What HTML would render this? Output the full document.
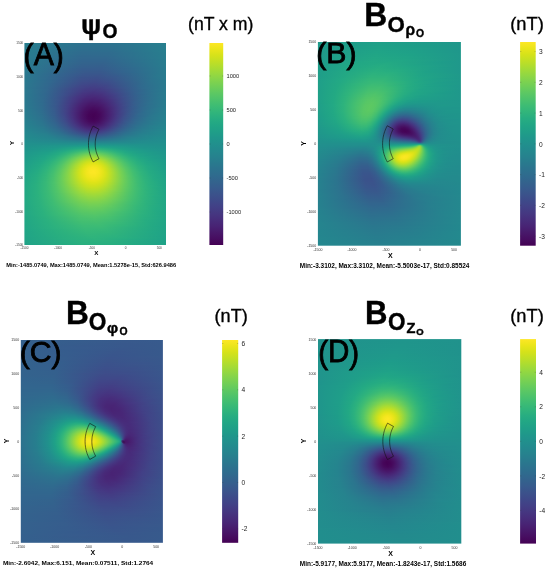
<!DOCTYPE html>
<html><head><meta charset="utf-8"><title>Field components</title>
<style>
html,body{margin:0;padding:0;background:#fff}
body{width:550px;height:570px;position:relative;overflow:hidden;font-family:"Liberation Sans", sans-serif}
.hm{position:absolute;overflow:hidden}
.hm i{display:block;height:1px;width:100%}
.hm b{position:absolute;background:#fff;display:block}
svg{position:absolute;left:0;top:0}
svg text{font-family:"Liberation Sans", sans-serif}
</style></head><body>
<div class="hm" style="left:24px;top:43px;width:142px;height:202px"><i style="background:linear-gradient(90deg,#277e8e 0%,#2d718e 41.55%,#2c728e 64.79%,#277f8e 100%)"></i><i style="background:linear-gradient(90deg,#287e8e 0%,#2d708e 41.55%,#2c728e 64.44%,#277f8e 100%)"></i><i style="background:linear-gradient(90deg,#287e8e 0%,#2d708e 41.55%,#2d718e 64.08%,#277e8e 100%)"></i><i style="background:linear-gradient(90deg,#287d8e 0%,#2d6f8e 41.2%,#2d708e 63.03%,#277e8e 100%)"></i><i style="background:linear-gradient(90deg,#287d8e 0%,#2e6e8e 41.2%,#2d708e 62.68%,#277e8e 100%)"></i><i style="background:linear-gradient(90deg,#287d8e 0%,#2e6e8e 41.2%,#2d6f8e 62.32%,#277e8e 100%)"></i><i style="background:linear-gradient(90deg,#287d8e 0%,#2e6d8e 40.85%,#2e6e8e 61.27%,#277e8e 100%)"></i><i style="background:linear-gradient(90deg,#287d8e 0%,#2e6d8e 40.85%,#2e6e8e 60.92%,#287e8e 100%)"></i><i style="background:linear-gradient(90deg,#287d8e 0%,#2f6c8e 40.85%,#2e6d8e 60.56%,#287e8e 100%)"></i><i style="background:linear-gradient(90deg,#287c8e 0%,#2f6b8e 40.85%,#2f6c8e 60.21%,#287d8e 100%)"></i><i style="background:linear-gradient(90deg,#287c8e 0%,#2f6b8e 40.85%,#2f6b8e 59.86%,#287d8e 100%)"></i><i style="background:linear-gradient(90deg,#287c8e 0%,#306a8e 40.85%,#2f6b8e 59.15%,#287d8e 100%)"></i><i style="background:linear-gradient(90deg,#287c8e 0%,#30698e 40.85%,#306a8e 58.8%,#287d8e 100%)"></i><i style="background:linear-gradient(90deg,#287c8e 0%,#30688e 40.85%,#30698e 58.45%,#287d8e 100%)"></i><i style="background:linear-gradient(90deg,#287c8e 0%,#31688e 40.85%,#31688e 58.1%,#287d8e 100%)"></i><i style="background:linear-gradient(90deg,#287b8e 0%,#31678e 40.85%,#31678e 57.75%,#287d8e 100%)"></i><i style="background:linear-gradient(90deg,#287b8e 0%,#31668e 40.85%,#31668e 57.39%,#287c8e 100%)"></i><i style="background:linear-gradient(90deg,#297b8e 0%,#32658e 40.85%,#32658e 57.04%,#287c8e 100%)"></i><i style="background:linear-gradient(90deg,#297b8e 0%,#32648e 40.85%,#32648e 56.69%,#2b758e 85.92%,#287c8e 100%)"></i><i style="background:linear-gradient(90deg,#297b8e 0%,#33648d 40.85%,#33638d 56.34%,#2c728e 82.75%,#287c8e 100%)"></i><i style="background:linear-gradient(90deg,#297b8e 0%,#33638d 40.85%,#33628d 55.99%,#2d708e 80.28%,#287c8e 100%)"></i><i style="background:linear-gradient(90deg,#297b8e 0%,#33628d 40.85%,#34618d 55.63%,#2e6e8e 78.17%,#287c8e 100%)"></i><i style="background:linear-gradient(90deg,#297a8e 0%,#34618d 40.85%,#34608d 55.28%,#2e6d8e 76.76%,#287c8e 100%)"></i><i style="background:linear-gradient(90deg,#297a8e 0%,#34608d 40.85%,#355f8d 54.93%,#2f6b8e 75%,#287c8e 100%)"></i><i style="background:linear-gradient(90deg,#297a8e 0%,#355f8d 41.2%,#355e8d 54.93%,#306a8e 74.65%,#287b8e 100%)"></i><i style="background:linear-gradient(90deg,#297a8e 0%,#355d8d 41.2%,#365d8d 54.58%,#30688e 73.24%,#287b8e 100%)"></i><i style="background:linear-gradient(90deg,#297a8e 0%,#365c8d 41.2%,#365c8d 54.23%,#31678e 71.83%,#287b8e 100%)"></i><i style="background:linear-gradient(90deg,#297a8e 0%,#365b8d 41.2%,#375a8d 53.87%,#32658e 70.77%,#297b8e 99.3%,#297b8e 100%)"></i><i style="background:linear-gradient(90deg,#297a8e 0%,#375a8c 41.55%,#37598c 53.87%,#32648e 70.07%,#297a8e 98.24%,#297b8e 100%)"></i><i style="background:linear-gradient(90deg,#297a8e 0%,#33638d 28.17%,#38588c 44.01%,#38598c 55.99%,#30688e 75.7%,#297b8e 100%)"></i><i style="background:linear-gradient(90deg,#29798e 0%,#32648e 26.06%,#38578c 42.61%,#38578c 54.23%,#33628d 70.07%,#29798e 96.83%,#297b8e 100%)"></i><i style="background:linear-gradient(90deg,#29798e 0%,#32648e 24.65%,#39568c 42.25%,#39558c 53.52%,#34608d 68.31%,#2a788e 95.42%,#297b8e 100%)"></i><i style="background:linear-gradient(90deg,#29798e 0%,#32658e 23.59%,#39558c 41.55%,#3a548b 52.82%,#355d8d 66.55%,#2a778e 94.01%,#297b8e 100%)"></i><i style="background:linear-gradient(90deg,#29798e 0%,#32658e 22.54%,#3a548b 41.2%,#3b528b 52.11%,#375a8d 64.79%,#2b768e 92.96%,#297b8e 100%)"></i><i style="background:linear-gradient(90deg,#29798e 0%,#32658e 21.83%,#3a528b 41.2%,#3b508b 51.76%,#38598c 64.08%,#2b758e 92.25%,#297b8e 100%)"></i><i style="background:linear-gradient(90deg,#29798e 0%,#32668e 21.13%,#3b518b 40.85%,#3c4f8a 51.06%,#39568c 62.68%,#2b748e 91.2%,#297b8e 100%)"></i><i style="background:linear-gradient(90deg,#29798e 0%,#31668e 20.42%,#3c508b 40.85%,#3d4d8a 51.06%,#39558c 62.32%,#2c738e 90.49%,#297a8e 100%)"></i><i style="background:linear-gradient(90deg,#29798e 0%,#31668e 19.72%,#3c4e8a 40.85%,#3e4b8a 50.7%,#3a538b 61.62%,#2c738e 89.79%,#297a8e 100%)"></i><i style="background:linear-gradient(90deg,#29798e 0%,#31678e 19.01%,#3d4d8a 40.85%,#3e4a89 50.35%,#3c508b 60.56%,#2c728e 89.08%,#297a8e 100%)"></i><i style="background:linear-gradient(90deg,#2a798e 0%,#31678e 18.66%,#3e4b89 40.85%,#3f4889 50%,#3c4e8a 59.86%,#2d718e 88.38%,#297a8e 100%)"></i><i style="background:linear-gradient(90deg,#2a798e 0%,#31668e 18.31%,#3e4a89 40.85%,#404688 50%,#3d4c8a 59.51%,#2d708e 87.68%,#297a8e 100%)"></i><i style="background:linear-gradient(90deg,#2a798e 0%,#31678e 17.61%,#3f4889 40.85%,#414487 49.65%,#3e4a89 58.8%,#2e6e8e 86.27%,#297a8e 100%)"></i><i style="background:linear-gradient(90deg,#2a798e 0%,#31678e 17.25%,#404688 40.85%,#414287 49.3%,#3f4788 58.1%,#2f6b8e 83.45%,#297a8e 100%)"></i><i style="background:linear-gradient(90deg,#2a798e 0%,#31678e 16.9%,#414487 41.2%,#424086 49.65%,#404688 58.45%,#30698e 82.04%,#297a8e 99.3%,#297a8e 100%)"></i><i style="background:linear-gradient(90deg,#2a788e 0%,#31678e 16.55%,#404688 38.38%,#433e85 47.18%,#424186 55.28%,#3b528b 67.25%,#2f6c8e 84.86%,#297a8e 100%)"></i><i style="background:linear-gradient(90deg,#2a788e 0%,#31678e 16.2%,#404688 36.62%,#433d84 45.42%,#433d85 53.17%,#3f4989 62.68%,#306a8e 83.1%,#297a8e 99.65%,#297a8e 100%)"></i><i style="background:linear-gradient(90deg,#2a798e 0%,#31688e 15.85%,#3f4788 35.21%,#443b84 44.37%,#443a83 51.76%,#414387 60.21%,#33638d 78.87%,#2b768e 94.37%,#297a8e 100%)"></i><i style="background:linear-gradient(90deg,#2a798e 0%,#31688e 15.49%,#3e4a89 32.75%,#443a83 42.96%,#453882 50.35%,#433f85 58.1%,#355e8d 75.7%,#2c728e 90.14%,#297a8e 100%)"></i><i style="background:linear-gradient(90deg,#2a798e 0%,#31688e 15.14%,#3d4d8a 30.63%,#443a83 41.9%,#453581 49.3%,#443b83 56.69%,#375a8d 73.94%,#2d6f8e 88.03%,#297a8e 100%)"></i><i style="background:linear-gradient(90deg,#2a798e 0%,#31688e 15.14%,#3c4e8a 29.58%,#453882 41.55%,#46337f 48.59%,#453782 55.63%,#3d4c8a 66.9%,#31678e 81.69%,#2a788e 96.48%,#297b8e 100%)"></i><i style="background:linear-gradient(90deg,#2a798e 0%,#30688e 14.79%,#3c4f8b 28.52%,#453681 41.2%,#46317e 48.24%,#463480 54.93%,#404688 64.79%,#32648e 79.93%,#2b768e 94.01%,#297b8e 100%)"></i><i style="background:linear-gradient(90deg,#29798e 0%,#30688e 14.44%,#3b518b 27.46%,#463480 41.2%,#472e7c 47.89%,#46327e 54.58%,#414287 63.73%,#345f8d 77.46%,#2c728e 90.85%,#297b8e 100%)"></i><i style="background:linear-gradient(90deg,#29798e 0%,#30688e 14.44%,#3b518b 27.11%,#46337f 40.49%,#472c7b 47.18%,#472e7c 53.52%,#433c84 61.62%,#38588c 73.94%,#2e6d8e 86.27%,#297b8e 100%)"></i><i style="background:linear-gradient(90deg,#29798e 0%,#30698e 14.08%,#3b528b 26.06%,#453681 38.03%,#472b7a 45.07%,#482a79 51.06%,#46327f 57.75%,#3c508b 70.42%,#31678e 82.39%,#2a788e 96.13%,#297b8e 100%)"></i><i style="background:linear-gradient(90deg,#29798e 0%,#30698e 14.08%,#3a528b 25.7%,#453782 36.62%,#482a79 44.01%,#482777 50%,#472e7c 56.34%,#3f4989 67.96%,#33638d 79.93%,#2b758e 92.96%,#297b8e 100%)"></i><i style="background:linear-gradient(90deg,#29798e 0%,#30698e 13.73%,#3a538b 25%,#443983 35.21%,#482878 43.31%,#482475 49.3%,#482a79 55.28%,#433f85 64.44%,#375a8c 75.35%,#2e6e8e 86.97%,#297b8e 100%)"></i><i style="background:linear-gradient(90deg,#29798e 0%,#30698e 13.73%,#3a548b 24.65%,#443a83 34.51%,#482777 42.61%,#482273 48.24%,#482576 53.87%,#453580 61.27%,#3c4f8a 70.77%,#32668e 81.69%,#2a778e 94.72%,#287b8e 100%)"></i><i style="background:linear-gradient(90deg,#29798e 0%,#306a8e 13.38%,#3a548c 24.3%,#443a83 33.8%,#482576 42.25%,#481f71 47.89%,#482273 53.52%,#46317e 60.56%,#3e4b8a 69.72%,#33638d 80.28%,#2b758e 92.61%,#287b8e 100%)"></i><i style="background:linear-gradient(90deg,#297a8e 0%,#306a8e 13.38%,#39558c 23.94%,#443b84 33.1%,#482475 41.9%,#481d6f 47.54%,#481f71 52.82%,#472c7b 59.15%,#404788 68.31%,#34608d 78.52%,#2c728e 90.14%,#287c8e 100%)"></i><i style="background:linear-gradient(90deg,#297a8e 0%,#2f6a8e 13.03%,#39568c 23.24%,#433c84 32.39%,#482273 41.9%,#481a6c 47.54%,#481d6e 52.82%,#472a79 59.15%,#404588 67.96%,#355e8d 77.82%,#2d718e 89.08%,#287c8e 100%)"></i><i style="background:linear-gradient(90deg,#297a8e 0%,#2f6b8e 13.03%,#39568c 23.24%,#433c84 32.04%,#482172 41.2%,#48186a 46.83%,#48196b 51.76%,#482575 57.75%,#424186 66.9%,#365c8d 76.76%,#2e6f8e 87.32%,#287c8e 100%)"></i><i style="background:linear-gradient(90deg,#297a8e 0%,#2f6b8e 13.03%,#39578c 22.89%,#433e85 31.34%,#482273 40.14%,#481769 45.77%,#481668 50.7%,#481e70 55.99%,#443983 64.79%,#3b528b 72.89%,#31678e 82.39%,#2a778e 94.37%,#287c8e 100%)"></i><i style="background:linear-gradient(90deg,#297a8e 0%,#2f6b8e 12.68%,#38578c 22.54%,#433e85 30.99%,#482273 39.44%,#481567 45.42%,#471365 50%,#481a6c 54.93%,#46317e 62.68%,#3f4989 69.72%,#34618d 78.87%,#2c728e 89.79%,#287d8e 100%)"></i><i style="background:linear-gradient(90deg,#297b8e 0%,#2f6c8e 12.68%,#38578c 22.54%,#433e85 30.99%,#482374 38.73%,#481466 44.72%,#471063 49.3%,#481568 53.87%,#482978 60.56%,#424186 67.61%,#365b8d 76.41%,#2e6e8e 86.27%,#287c8e 99.65%,#287d8e 100%)"></i><i style="background:linear-gradient(90deg,#297b8e 0%,#2f6c8e 12.68%,#38588c 22.18%,#424086 30.28%,#482676 37.32%,#471365 44.01%,#470d60 48.59%,#471264 53.17%,#482474 59.51%,#433d85 66.55%,#38578c 74.65%,#2f6b8e 84.15%,#297a8e 96.48%,#287d8e 100%)"></i><i style="background:linear-gradient(90deg,#287b8e 0%,#2f6c8e 12.68%,#38598c 22.18%,#423f85 30.28%,#482677 36.97%,#471264 43.66%,#460b5e 48.24%,#470e61 52.46%,#481f70 58.45%,#443a83 65.85%,#3a538b 73.24%,#31678e 82.04%,#2a788e 93.66%,#287d8e 100%)"></i><i style="background:linear-gradient(90deg,#287c8e 0%,#2e6d8e 12.32%,#375a8c 21.83%,#424086 29.93%,#482878 36.27%,#471163 43.31%,#46095c 47.89%,#460b5e 51.76%,#481a6c 57.39%,#453681 64.79%,#3d4e8a 71.48%,#32648e 79.93%,#2b758e 90.49%,#287e8e 100%)"></i><i style="background:linear-gradient(90deg,#287c8e 0%,#2e6d8e 12.32%,#375b8d 21.48%,#424286 29.58%,#472a79 35.56%,#471063 42.96%,#46075b 47.18%,#46085c 51.06%,#481467 55.99%,#47307d 63.38%,#3f4788 69.37%,#355f8d 77.46%,#2d718e 87.32%,#277e8e 100%)"></i><i style="background:linear-gradient(90deg,#287c8e 0%,#2e6e8e 12.32%,#365b8d 21.48%,#424286 29.58%,#482a79 35.56%,#470d60 43.31%,#450659 47.18%,#46065a 51.06%,#471264 55.63%,#472e7c 63.03%,#404688 69.01%,#355d8d 76.76%,#2d708e 86.27%,#287e8e 99.3%,#277e8e 100%)"></i><i style="background:linear-gradient(90deg,#287d8e 0%,#2e6e8e 12.32%,#365c8d 21.48%,#414387 29.23%,#472c7b 34.86%,#470e61 42.61%,#450559 46.48%,#450458 50.35%,#470c5f 54.23%,#482a79 61.97%,#424186 67.61%,#375a8c 75.35%,#2e6d8e 84.15%,#287b8e 96.13%,#277f8e 100%)"></i><i style="background:linear-gradient(90deg,#287d8e 0%,#2e6f8e 12.32%,#365c8d 21.48%,#414387 29.23%,#472c7b 34.86%,#470f62 42.25%,#450558 46.13%,#450356 50%,#46095d 53.52%,#482576 60.92%,#433d84 66.55%,#39568c 73.59%,#306a8e 82.04%,#29798e 93.31%,#277f8e 100%)"></i><i style="background:linear-gradient(90deg,#287d8e 0%,#2d6f8e 12.32%,#365d8d 21.48%,#404588 28.87%,#472e7c 34.51%,#471163 41.55%,#450558 45.42%,#440255 49.3%,#46075b 53.17%,#482273 60.21%,#443a83 65.85%,#3a538b 72.54%,#31688e 80.63%,#2a778e 91.2%,#277f8e 100%)"></i><i style="background:linear-gradient(90deg,#277e8e 0%,#2d708e 12.32%,#355d8d 21.48%,#404688 28.87%,#472e7c 34.51%,#471265 41.2%,#450558 45.42%,#440255 49.3%,#46075b 53.17%,#482273 60.21%,#443b84 65.85%,#3a548b 72.54%,#30688e 80.63%,#2a788e 91.2%,#27808e 100%)"></i><i style="background:linear-gradient(90deg,#277e8e 0%,#2d718e 12.32%,#355f8d 21.13%,#3f4889 28.52%,#46317e 34.15%,#481466 40.85%,#450559 45.07%,#440254 48.94%,#45065a 52.82%,#481e70 59.15%,#453782 64.79%,#3c4f8a 70.77%,#32648e 78.52%,#2b758e 88.38%,#27808e 100%)"></i><i style="background:linear-gradient(90deg,#277f8e 0%,#2d718e 12.32%,#34608d 21.13%,#3f4989 28.52%,#46317e 34.15%,#481568 40.49%,#450659 45.07%,#440255 48.94%,#46075a 52.82%,#481f71 59.15%,#453882 64.79%,#3c508b 70.77%,#32658e 78.52%,#2b768e 88.38%,#26818e 100%)"></i><i style="background:linear-gradient(90deg,#277f8e 0%,#2c728e 12.32%,#34608d 21.48%,#3f4989 28.87%,#46327f 34.15%,#481669 40.49%,#45065a 45.07%,#440256 48.59%,#450659 52.11%,#481769 57.04%,#46337f 63.38%,#3e4b89 69.01%,#34618d 76.41%,#2c738e 85.56%,#27808e 98.59%,#26818e 100%)"></i><i style="background:linear-gradient(90deg,#27808e 0%,#2c728e 12.68%,#34618d 21.48%,#3e4a89 28.87%,#46327f 34.51%,#481669 40.85%,#46075a 45.42%,#450357 48.94%,#46085b 52.46%,#481e70 58.45%,#453882 64.08%,#3c508b 70.07%,#32658e 77.46%,#2b758e 86.97%,#26818e 100%)"></i><i style="background:linear-gradient(90deg,#27808e 0%,#2c738e 12.68%,#33628d 21.48%,#3e4b8a 28.87%,#463480 34.51%,#48186a 40.85%,#46085b 45.77%,#450559 49.3%,#460b5e 52.82%,#482374 59.15%,#443b84 64.44%,#3a538b 70.77%,#30688e 78.52%,#2a788e 88.73%,#26828e 100%)"></i><i style="background:linear-gradient(90deg,#26818e 0%,#2b748e 12.68%,#33628d 21.83%,#3e4b8a 29.23%,#463480 34.86%,#48186b 41.2%,#460a5d 45.77%,#46075b 49.3%,#470d60 52.82%,#482474 58.8%,#433d84 64.44%,#39568c 71.13%,#306a8e 78.87%,#29798e 89.08%,#26828e 100%)"></i><i style="background:linear-gradient(90deg,#26818e 0%,#2b758e 12.68%,#32648e 21.83%,#3d4d8a 29.23%,#453681 34.86%,#481b6d 41.2%,#470d60 45.77%,#460a5d 49.3%,#471164 53.17%,#482878 59.15%,#424086 64.79%,#375a8c 71.83%,#2e6d8e 79.93%,#287c8e 90.85%,#25838e 100%)"></i><i style="background:linear-gradient(90deg,#26828e 0%,#2b758e 13.03%,#32648e 22.18%,#3d4e8a 29.58%,#453781 35.21%,#481b6d 41.9%,#470f62 46.48%,#470e61 50%,#48176a 54.23%,#463480 61.27%,#3e4b89 66.9%,#33628d 74.3%,#2c738e 83.1%,#26808e 95.42%,#25838e 100%)"></i><i style="background:linear-gradient(90deg,#26828e 0%,#2b768e 13.03%,#32668e 22.18%,#3c508b 29.58%,#453882 35.56%,#481d6f 42.25%,#471365 46.48%,#471265 50%,#481b6d 54.23%,#453681 61.27%,#3c4f8a 67.25%,#32658e 74.65%,#2b758e 83.8%,#26828e 96.83%,#25848e 100%)"></i><i style="background:linear-gradient(90deg,#25838e 0%,#2a778e 13.03%,#31678e 22.18%,#3b528b 29.58%,#443983 35.92%,#481e70 42.96%,#481668 47.18%,#48176a 51.06%,#482374 55.63%,#423f85 62.68%,#37598c 69.72%,#2e6d8e 77.82%,#287c8e 88.38%,#25848e 100%)"></i><i style="background:linear-gradient(90deg,#25848e 0%,#2a788e 13.38%,#31678e 22.89%,#3b518b 30.63%,#453882 36.97%,#482273 43.31%,#481a6c 47.54%,#481c6e 51.41%,#482a79 56.34%,#414487 63.03%,#355e8d 70.77%,#2d718e 79.23%,#277f8e 90.49%,#25858e 100%)"></i><i style="background:linear-gradient(90deg,#25848e 0%,#2a798e 13.73%,#30688e 23.24%,#3a538b 30.99%,#443983 37.68%,#482576 43.66%,#481f71 47.89%,#482273 51.76%,#472f7d 56.69%,#3e4a89 63.73%,#33628d 71.48%,#2b748e 80.28%,#26818e 92.25%,#24868e 100%)"></i><i style="background:linear-gradient(90deg,#25858e 0%,#297a8e 13.73%,#306a8e 23.24%,#3a548c 31.34%,#443a83 38.73%,#482978 44.37%,#482475 48.59%,#482979 52.82%,#443b84 58.8%,#39568c 66.2%,#2f6b8e 74.3%,#297a8e 84.15%,#24858e 98.59%,#24868e 100%)"></i><i style="background:linear-gradient(90deg,#24868e 0%,#297b8e 14.08%,#2f6b8e 23.94%,#39558c 32.04%,#443983 40.14%,#472c7b 45.42%,#472a7a 49.65%,#46327f 54.23%,#3c4f8a 63.03%,#31678e 71.48%,#2a788e 80.99%,#25848e 94.01%,#24878e 100%)"></i><i style="background:linear-gradient(90deg,#24868e 0%,#287b8e 14.44%,#2f6c8e 24.3%,#39578c 32.75%,#453882 42.61%,#46307e 47.18%,#46327f 51.41%,#423f85 57.04%,#365c8d 66.2%,#2d708e 75%,#277f8e 85.92%,#24878e 100%)"></i><i style="background:linear-gradient(90deg,#24878e 0%,#287c8e 14.79%,#2e6d8e 25%,#39568c 34.15%,#433c84 43.31%,#453781 47.89%,#443a83 52.46%,#3e4b89 59.15%,#30688e 69.72%,#29798e 79.58%,#25858e 92.96%,#24888e 100%)"></i><i style="background:linear-gradient(90deg,#24888e 0%,#287d8e 15.14%,#2d6f8e 25.35%,#38578c 35.21%,#414286 43.66%,#433d85 48.59%,#414287 53.52%,#32658e 66.9%,#2a778e 76.41%,#25838e 88.73%,#23898e 100%)"></i><i style="background:linear-gradient(90deg,#23888e 0%,#277f8e 15.49%,#2d708e 26.06%,#38578c 36.97%,#3f4788 44.37%,#404487 49.3%,#3e4b89 54.58%,#2d6f8e 70.42%,#277e8e 81.34%,#23888e 97.18%,#23898d 100%)"></i><i style="background:linear-gradient(90deg,#23898e 0%,#27808e 16.2%,#2d718e 27.11%,#3c4e8a 44.01%,#3e4b8a 49.3%,#3a538b 55.28%,#2c738e 71.13%,#26818e 82.75%,#238a8d 100%)"></i><i style="background:linear-gradient(90deg,#238a8d 0%,#26818e 16.9%,#2c738e 28.17%,#39558c 44.01%,#3a538b 49.65%,#375a8c 55.99%,#2a778e 71.83%,#25848e 84.51%,#238a8d 100%)"></i><i style="background:linear-gradient(90deg,#238a8d 0%,#26828e 17.61%,#2c748e 29.58%,#365c8d 44.01%,#375a8c 50%,#33638d 57.39%,#297b8e 72.54%,#24868e 86.27%,#228b8d 100%)"></i><i style="background:linear-gradient(90deg,#228b8d 0%,#25838e 18.31%,#2b758e 30.99%,#33638d 44.37%,#33628d 51.06%,#2e6d8e 60.56%,#27808e 74.65%,#23898d 90.85%,#228c8d 100%)"></i><i style="background:linear-gradient(90deg,#228c8d 0%,#25848e 19.72%,#2b768e 33.8%,#30698e 45.07%,#306a8e 52.46%,#25838e 75.7%,#228b8d 94.37%,#228c8d 100%)"></i><i style="background:linear-gradient(90deg,#228d8d 0%,#25858e 21.13%,#2b748e 39.44%,#2d6f8e 48.24%,#2b758e 57.39%,#24858e 76.06%,#228d8d 97.54%,#228d8d 100%)"></i><i style="background:linear-gradient(90deg,#228d8d 0%,#24878e 22.89%,#2a778e 46.48%,#297a8e 56.34%,#23898e 77.82%,#218e8d 100%)"></i><i style="background:linear-gradient(90deg,#218e8d 0%,#23888e 26.06%,#277e8e 47.18%,#26828e 60.21%,#228c8d 82.39%,#218e8d 100%)"></i><i style="background:linear-gradient(90deg,#218f8d 0%,#238a8d 31.34%,#25858e 50.35%,#218e8d 88.03%,#218f8d 100%)"></i><i style="background:linear-gradient(90deg,#21908d 0%,#228d8d 58.1%,#21908d 100%)"></i><i style="background:linear-gradient(90deg,#21908c 0%,#20938c 58.1%,#21908c 100%)"></i><i style="background:linear-gradient(90deg,#20918c 0%,#1f978b 31.34%,#1e9b8a 50.35%,#20928c 88.03%,#20918c 100%)"></i><i style="background:linear-gradient(90deg,#20928c 0%,#1f988b 26.06%,#1fa287 47.18%,#1f9e89 60.56%,#20948c 82.75%,#20928c 100%)"></i><i style="background:linear-gradient(90deg,#20938c 0%,#1f998a 22.89%,#21a685 39.79%,#23a983 49.65%,#1fa188 63.38%,#1f968b 81.69%,#20928c 100%)"></i><i style="background:linear-gradient(90deg,#20948c 0%,#1e9b8a 21.13%,#21a685 34.51%,#2ab07f 46.13%,#28ae80 53.87%,#1fa287 67.25%,#1f978b 83.8%,#20938c 100%)"></i><i style="background:linear-gradient(90deg,#1f948c 0%,#1e9c89 19.72%,#22a784 31.34%,#33b67a 44.72%,#34b679 50.7%,#26ad81 61.27%,#1fa287 70.42%,#1f988b 85.92%,#20948c 100%)"></i><i style="background:linear-gradient(90deg,#1f958b 0%,#1f9d89 18.66%,#23a884 29.23%,#2fb37c 36.97%,#3ebc73 45.07%,#40bd73 50%,#36b878 56.34%,#25ab82 65.85%,#1fa088 75%,#1f978b 91.2%,#1f948c 100%)"></i><i style="background:linear-gradient(90deg,#1f968b 0%,#1f9e88 17.61%,#23a984 27.11%,#2eb37c 33.8%,#49c16e 44.01%,#4dc36b 48.59%,#48c16e 53.17%,#29af7f 65.49%,#21a586 72.89%,#1f9a8a 86.97%,#1f958b 100%)"></i><i style="background:linear-gradient(90deg,#1f978b 0%,#1fa088 16.9%,#24aa83 25.7%,#2fb37c 31.69%,#54c667 43.31%,#5bc863 47.54%,#59c765 51.41%,#4ac26d 56.69%,#2fb37c 65.14%,#23a983 71.48%,#1f9f88 80.99%,#1f968b 98.59%,#1f968b 100%)"></i><i style="background:linear-gradient(90deg,#1f978b 0%,#1fa188 16.2%,#25ab82 24.65%,#30b47b 30.28%,#47c06f 36.62%,#62ca60 43.31%,#69cd5b 47.18%,#68cc5c 50.7%,#5dc963 54.93%,#35b779 65.14%,#27ad81 70.77%,#20a386 78.17%,#1f998a 92.96%,#1f968b 100%)"></i><i style="background:linear-gradient(90deg,#1f988b 0%,#1fa287 15.85%,#25ab82 23.59%,#32b57a 29.23%,#48c16e 34.86%,#6ece58 42.96%,#77d153 46.48%,#78d152 49.65%,#70cf57 53.17%,#56c666 59.15%,#38b977 65.85%,#29af7f 71.13%,#21a685 77.82%,#1f9a8a 91.9%,#1f978b 100%)"></i><i style="background:linear-gradient(90deg,#1f998a 0%,#20a387 15.14%,#26ac81 22.54%,#32b57a 27.82%,#47c06f 33.1%,#78d152 42.25%,#84d44b 45.77%,#87d549 48.94%,#81d34c 52.11%,#6fcf57 56.34%,#41be72 65.14%,#2eb37c 70.42%,#23a983 76.41%,#1f9f88 85.92%,#1f988b 100%)"></i><i style="background:linear-gradient(90deg,#1f998a 0%,#20a486 14.79%,#27ad81 21.83%,#34b679 27.11%,#49c16e 32.04%,#81d34d 41.55%,#90d743 45.07%,#95d840 48.24%,#91d742 51.41%,#83d44b 54.93%,#4cc26c 64.44%,#36b878 69.37%,#28ae80 74.65%,#20a586 81.69%,#1f9a8a 96.48%,#1f988b 100%)"></i><i style="background:linear-gradient(90deg,#1f9a8a 0%,#20a586 14.44%,#28ae80 21.48%,#37b878 26.76%,#4bc26c 31.34%,#74d055 37.68%,#93d741 42.61%,#a0da39 45.77%,#a3db37 48.59%,#9fda3a 51.41%,#90d743 54.93%,#57c766 63.73%,#3dbc74 68.66%,#2db27d 73.59%,#23a984 79.58%,#1f9e89 90.14%,#1f998a 100%)"></i><i style="background:linear-gradient(90deg,#1e9b8a 0%,#21a685 14.44%,#2aaf7f 21.13%,#38b977 26.06%,#4ec36b 30.63%,#73d055 36.27%,#9dd93b 42.25%,#abdc31 45.42%,#b0dd2e 48.24%,#addc31 51.06%,#9fda39 54.23%,#7fd34e 59.15%,#53c568 65.49%,#3cbb75 70.07%,#2cb17e 75%,#22a884 81.34%,#1e9d89 92.96%,#1f998a 100%)"></i><i style="background:linear-gradient(90deg,#1e9b8a 0%,#21a685 13.73%,#2ab07f 20.42%,#39b977 25.35%,#4fc46a 29.93%,#71cf57 34.86%,#a3db37 41.55%,#b5dd2b 44.72%,#bcdf27 47.54%,#bade28 50.35%,#b1dd2e 53.17%,#98d93e 57.04%,#5cc863 65.14%,#42be72 69.72%,#2fb47c 74.65%,#24ab82 80.28%,#1fa188 89.44%,#1f9a8a 100%)"></i><i style="background:linear-gradient(90deg,#1e9c89 0%,#22a785 13.03%,#2bb07f 19.72%,#39ba76 24.65%,#50c46a 29.23%,#73d055 34.15%,#addc30 41.55%,#bfdf25 44.72%,#c7e020 47.54%,#c6e021 50.35%,#bbde27 53.17%,#a5db36 56.69%,#62cb5f 65.14%,#46c06f 69.72%,#33b67a 74.3%,#27ad81 79.58%,#20a386 87.32%,#1e9b8a 100%)"></i><i style="background:linear-gradient(90deg,#1e9d89 0%,#22a784 12.68%,#2bb17e 19.01%,#3aba76 23.94%,#51c469 28.52%,#71cf57 33.1%,#b2dd2d 40.85%,#c6e021 44.01%,#d0e11c 46.83%,#d1e11c 49.65%,#c9e020 52.46%,#b6de2a 55.63%,#76d153 63.38%,#55c667 67.96%,#3dbb74 72.54%,#2db27d 77.46%,#23a884 83.8%,#1f9e89 95.07%,#1e9b8a 100%)"></i><i style="background:linear-gradient(90deg,#1e9d89 0%,#22a884 11.97%,#2bb17e 18.31%,#3aba76 23.24%,#51c469 27.82%,#71cf56 32.39%,#b7de2a 40.49%,#cde11e 43.66%,#d8e219 46.48%,#dae319 49.3%,#d3e21b 52.11%,#c1df24 55.28%,#9cd93c 59.86%,#69cd5b 65.85%,#4dc36c 70.07%,#37b977 74.65%,#29af7f 79.93%,#21a685 86.97%,#1e9c89 100%)"></i><i style="background:linear-gradient(90deg,#1f9e89 0%,#22a884 11.62%,#2cb17e 17.96%,#3bbb75 22.89%,#50c46a 27.11%,#6ece58 31.34%,#b6de2b 39.44%,#cee11d 42.61%,#dce319 45.42%,#e2e418 48.24%,#dee318 51.06%,#d2e21b 53.87%,#bbdf27 57.04%,#74d055 65.14%,#53c568 69.72%,#3bbb75 74.3%,#2cb17e 79.23%,#23a884 85.56%,#1f9e89 97.54%,#1e9c89 100%)"></i><i style="background:linear-gradient(90deg,#1f9e89 0%,#23a984 11.27%,#2db27d 17.61%,#3cbb75 22.54%,#52c569 26.76%,#70cf57 30.99%,#afdd2f 38.03%,#cde11d 41.55%,#dee318 44.37%,#e7e419 47.18%,#e7e419 50%,#dee318 52.82%,#cde11d 55.63%,#b0dd2f 59.15%,#70cf57 66.2%,#52c569 70.42%,#3bbb75 75%,#2cb17e 79.93%,#22a884 86.62%,#1e9d89 99.3%,#1e9d89 100%)"></i><i style="background:linear-gradient(90deg,#1f9f88 0%,#23a983 10.92%,#2db27d 17.25%,#3dbc74 22.18%,#53c568 26.41%,#71cf56 30.63%,#a8db34 36.62%,#cae11f 40.49%,#dce319 42.96%,#e9e41a 45.77%,#eee51b 48.59%,#eae51a 51.41%,#dde319 54.23%,#cbe11e 56.69%,#a5db36 60.92%,#72cf56 66.55%,#53c568 70.77%,#3cbb75 75.35%,#2db27d 80.28%,#23a984 86.62%,#1f9e89 98.24%,#1f9d89 100%)"></i><i style="background:linear-gradient(90deg,#1fa088 0%,#23a983 10.56%,#2eb37d 16.9%,#3ebc74 21.83%,#54c568 26.06%,#72cf56 30.28%,#a5db35 35.92%,#c9e01f 39.79%,#dce319 42.25%,#ebe51a 45.07%,#f2e61d 47.89%,#f0e51c 50.7%,#e5e419 53.52%,#d5e21a 55.99%,#bedf26 58.8%,#76d054 66.55%,#57c666 70.77%,#3ebc73 75.35%,#2eb37c 80.28%,#24aa83 86.62%,#1f9f88 97.54%,#1f9e89 100%)"></i><i style="background:linear-gradient(90deg,#1fa088 0%,#24aa83 10.56%,#2fb47c 16.9%,#40bd73 21.83%,#56c666 26.06%,#75d054 30.28%,#b0dd2e 36.62%,#cde11d 39.79%,#e0e318 42.25%,#efe51c 45.07%,#f6e620 47.89%,#f4e61e 50.7%,#e9e41a 53.52%,#dae319 55.99%,#c5e021 58.45%,#76d153 66.9%,#57c766 71.13%,#3fbd73 75.7%,#2fb37c 80.63%,#24aa83 86.97%,#1fa088 97.54%,#1f9e89 100%)"></i><i style="background:linear-gradient(90deg,#1fa188 0%,#24aa83 10.21%,#2fb47c 16.55%,#40bd72 21.48%,#59c765 26.06%,#78d152 30.28%,#c7e020 38.73%,#dce319 41.2%,#ede51b 44.01%,#f7e620 46.83%,#f8e621 49.65%,#f1e51d 52.46%,#dfe318 55.63%,#cfe11d 57.75%,#aedc30 61.27%,#77d153 67.25%,#58c765 71.48%,#3fbd73 76.06%,#2fb37c 80.99%,#24aa83 87.32%,#1fa088 97.89%,#1f9f88 100%)"></i><i style="background:linear-gradient(90deg,#1fa187 0%,#24ab82 9.86%,#30b47c 16.2%,#40bd72 21.13%,#59c765 25.7%,#78d152 29.93%,#b3dd2d 36.27%,#d0e11c 39.44%,#e1e318 41.55%,#f2e61e 44.72%,#fae722 47.54%,#f9e722 50.35%,#f0e51c 53.17%,#dfe318 55.99%,#cee11d 58.1%,#aadc32 61.97%,#76d153 67.61%,#58c765 71.83%,#40bd73 76.41%,#2fb47c 81.34%,#24aa83 87.68%,#1fa088 98.24%,#1f9f88 100%)"></i><i style="background:linear-gradient(90deg,#1fa187 0%,#25ab82 9.86%,#31b57b 16.2%,#42be71 21.13%,#5bc864 25.7%,#7dd24f 30.28%,#cce11e 38.73%,#dde318 40.85%,#efe51c 43.66%,#f9e722 46.48%,#fce724 49.3%,#f6e620 52.11%,#e6e419 55.28%,#d6e21a 57.39%,#c1df24 59.86%,#7cd250 67.25%,#5ac864 71.83%,#41be72 76.41%,#30b47b 81.34%,#25ab82 87.68%,#1fa187 97.54%,#1fa088 100%)"></i><i style="background:linear-gradient(90deg,#1fa287 0%,#25ab82 9.51%,#31b57b 15.85%,#42be71 20.77%,#5ac864 25.35%,#7cd250 29.93%,#cae01f 38.38%,#dbe319 40.49%,#ece51a 42.96%,#f9e622 46.13%,#fde724 48.94%,#f8e621 51.76%,#e9e41a 54.93%,#d8e219 57.39%,#c2df23 59.86%,#7bd250 67.61%,#59c864 72.18%,#41be72 76.76%,#30b47c 82.04%,#25ab82 88.38%,#1fa188 98.94%,#1fa088 100%)"></i><i style="background:linear-gradient(90deg,#1fa287 0%,#26ac82 9.51%,#32b57a 15.85%,#43bf71 20.77%,#5cc863 25.35%,#7ed24f 29.93%,#cbe11f 38.38%,#dee318 40.85%,#f1e51d 44.01%,#fbe723 46.83%,#fce724 49.65%,#f5e61f 52.46%,#e5e419 55.63%,#d6e21a 57.75%,#bddf26 60.56%,#7dd24f 67.61%,#5bc863 72.18%,#43be71 76.76%,#31b57b 82.04%,#25ab82 88.38%,#1fa187 98.59%,#1fa088 100%)"></i><i style="background:linear-gradient(90deg,#20a387 0%,#26ac81 9.51%,#33b67a 15.85%,#45bf70 20.77%,#5dc962 25.35%,#7fd34e 29.93%,#cbe11e 38.38%,#dee318 40.85%,#f1e51d 44.01%,#fae723 47.18%,#fbe723 50%,#f2e61d 53.17%,#e0e318 56.34%,#cde11d 58.8%,#a7db34 63.03%,#75d054 68.66%,#56c666 73.24%,#3fbd73 77.82%,#2fb37c 83.1%,#24aa83 89.79%,#1fa188 100%)"></i><i style="background:linear-gradient(90deg,#20a386 0%,#26ad81 9.15%,#33b67a 15.49%,#46c070 20.77%,#5ec961 25.35%,#80d34d 29.93%,#cae11f 38.38%,#dde318 40.85%,#f0e51c 44.01%,#f9e622 47.18%,#f9e622 50.35%,#efe51c 53.52%,#dde318 56.69%,#cae11f 59.15%,#7cd250 67.96%,#5bc863 72.54%,#43bf71 77.11%,#31b57b 82.39%,#26ac82 88.73%,#1fa287 98.59%,#1fa187 100%)"></i><i style="background:linear-gradient(90deg,#20a486 0%,#27ad81 9.15%,#33b679 15.49%,#47c06f 20.77%,#5fca61 25.35%,#83d44b 30.28%,#cae01f 38.38%,#dce319 40.85%,#eee51b 44.01%,#f7e620 47.18%,#f7e620 50.35%,#eee51b 53.52%,#dce319 56.69%,#c9e01f 59.15%,#7ad251 68.31%,#5ac864 72.89%,#41be72 77.82%,#30b47b 83.1%,#25ab82 89.79%,#1fa287 100%)"></i><i style="background:linear-gradient(90deg,#20a486 0%,#27ad81 9.15%,#34b779 15.49%,#47c06f 20.77%,#62cb5f 25.7%,#86d549 30.63%,#c8e020 38.38%,#dae319 40.85%,#ece51a 44.01%,#f5e61f 47.18%,#f5e61f 50.35%,#ece51a 53.52%,#dae319 56.69%,#c5e021 59.51%,#78d152 68.66%,#57c766 73.59%,#3fbd73 78.52%,#2fb37c 84.15%,#24aa83 91.2%,#1fa287 100%)"></i><i style="background:linear-gradient(90deg,#20a486 0%,#28ae80 9.15%,#35b779 15.49%,#48c16e 20.77%,#63cb5f 25.7%,#89d547 30.99%,#c7e021 38.38%,#dbe319 41.2%,#ece51a 44.72%,#f3e61e 47.89%,#f1e51d 51.06%,#e6e419 54.23%,#d6e21a 57.04%,#bedf25 60.21%,#78d152 68.66%,#58c765 73.59%,#40bd72 78.52%,#2fb47c 84.15%,#24aa83 91.2%,#1fa287 100%)"></i><i style="background:linear-gradient(90deg,#20a586 0%,#28ae80 9.15%,#35b778 15.49%,#49c16e 20.77%,#63cb5f 25.7%,#89d548 30.99%,#c7e020 38.73%,#dae319 41.55%,#eae51a 45.07%,#f0e51c 48.24%,#ede51b 51.41%,#e2e418 54.58%,#d1e11b 57.39%,#b7de2a 60.92%,#76d054 69.01%,#56c666 73.94%,#3fbd73 78.87%,#2fb37c 84.51%,#24aa83 91.55%,#20a387 100%)"></i><i style="background:linear-gradient(90deg,#21a586 0%,#28ae80 9.15%,#36b878 15.49%,#49c16e 20.77%,#63cb5f 25.7%,#8bd646 31.34%,#c7e020 39.08%,#dbe319 42.25%,#e9e419 45.77%,#ede51b 48.94%,#e8e419 52.11%,#d9e219 55.63%,#c5e021 58.8%,#7bd251 68.31%,#59c765 73.59%,#40bd73 78.87%,#2fb47c 84.51%,#24ab82 91.55%,#20a387 100%)"></i><i style="background:linear-gradient(90deg,#21a585 0%,#28ae80 8.8%,#35b778 15.14%,#49c16d 20.77%,#65cc5d 26.06%,#8fd744 32.04%,#c5e022 39.08%,#d8e219 42.25%,#e5e419 45.77%,#e9e419 48.94%,#e4e419 52.11%,#d6e21a 55.63%,#c3e023 58.8%,#7ad251 68.31%,#59c765 73.59%,#40bd72 78.87%,#2fb37c 84.86%,#24aa83 92.25%,#20a386 100%)"></i><i style="background:linear-gradient(90deg,#21a585 0%,#28af80 8.8%,#37b878 15.49%,#4bc26c 21.13%,#67cc5c 26.41%,#93d741 32.75%,#c4e022 39.44%,#d7e21a 42.96%,#e2e418 46.48%,#e4e419 49.65%,#dee318 52.82%,#cfe11d 56.34%,#b6de2b 60.21%,#70cf57 69.72%,#51c569 75%,#3cbb75 80.28%,#2cb17e 86.62%,#22a884 94.72%,#20a386 100%)"></i><i style="background:linear-gradient(90deg,#21a685 0%,#29af7f 9.15%,#38b977 15.85%,#4dc36c 21.48%,#6bcd5a 27.11%,#a1da38 34.86%,#c5e022 40.14%,#d7e21a 44.01%,#dfe318 47.54%,#dee318 51.06%,#d4e21b 54.58%,#bfdf25 58.45%,#79d152 68.31%,#57c766 73.94%,#3ebc73 79.58%,#2eb37c 85.56%,#24aa83 93.31%,#20a486 100%)"></i><i style="background:linear-gradient(90deg,#21a685 0%,#2aaf7f 9.15%,#38b977 15.85%,#4dc36c 21.48%,#6acd5a 27.11%,#a6db35 35.92%,#c5e022 40.85%,#d5e21a 44.72%,#dbe319 48.24%,#d8e219 51.76%,#cce11e 55.28%,#b5dd2b 59.51%,#6cce59 70.07%,#4ec36b 75.7%,#39b976 81.34%,#2ab07f 88.03%,#21a685 96.83%,#20a486 100%)"></i><i style="background:linear-gradient(90deg,#21a685 0%,#2ab07f 9.15%,#38b977 15.85%,#4ec36b 21.83%,#6ece58 27.82%,#b3dd2c 38.38%,#c9e01f 42.61%,#d4e21b 46.13%,#d6e21a 49.65%,#d0e11c 53.17%,#c0df25 57.04%,#9cd93b 62.68%,#67cc5c 70.77%,#4bc26d 76.41%,#36b878 82.39%,#28ae80 89.44%,#20a586 99.3%,#20a486 100%)"></i><i style="background:linear-gradient(90deg,#21a685 0%,#2ab07f 9.15%,#38b977 15.85%,#4ec36b 21.83%,#6dce59 27.82%,#b1dd2d 38.73%,#c6e021 42.96%,#d0e11c 46.83%,#d1e11c 50.35%,#c9e01f 53.87%,#b6de2b 58.1%,#75d054 68.31%,#54c667 74.3%,#3cbb75 80.28%,#2cb27e 86.97%,#22a884 95.42%,#20a486 100%)"></i><i style="background:linear-gradient(90deg,#21a785 0%,#2ab07f 9.15%,#38b977 15.85%,#4dc36b 21.83%,#6dce59 28.17%,#b0dd2f 39.08%,#c3e023 43.31%,#cce11e 47.18%,#cbe11e 50.7%,#c2df23 54.58%,#acdc31 59.15%,#67cc5c 70.42%,#4ac26d 76.41%,#36b878 82.39%,#29af80 89.44%,#21a586 99.3%,#20a486 100%)"></i><i style="background:linear-gradient(90deg,#22a785 0%,#2ab07f 9.15%,#39ba76 16.2%,#50c46a 22.54%,#72cf56 29.23%,#addc30 39.44%,#bfdf25 43.66%,#c7e021 47.54%,#c5e021 51.41%,#bade28 55.28%,#a3da37 60.21%,#63cb5f 71.13%,#46c06f 77.46%,#33b67a 83.8%,#26ad81 91.2%,#20a586 100%)"></i><i style="background:linear-gradient(90deg,#22a785 0%,#2ab07f 9.15%,#39ba76 16.2%,#4fc46a 22.54%,#70cf57 29.23%,#a9dc33 39.44%,#bbde27 44.01%,#c2df23 47.89%,#bfdf25 51.76%,#b3dd2c 55.99%,#97d83f 61.62%,#5ec962 71.83%,#43bf71 78.17%,#31b57b 84.86%,#25ab82 92.96%,#20a586 100%)"></i><i style="background:linear-gradient(90deg,#22a785 0%,#2ab07f 9.15%,#39ba76 16.2%,#50c46a 22.89%,#74d055 30.28%,#a5db36 39.44%,#b6de2b 44.01%,#bcdf27 47.89%,#bade28 51.76%,#aedc2f 55.99%,#94d841 61.62%,#5bc863 72.18%,#42be72 78.52%,#30b47b 85.21%,#25ab82 93.31%,#21a586 100%)"></i><i style="background:linear-gradient(90deg,#22a784 0%,#2bb17e 9.51%,#3bba75 16.9%,#52c568 23.59%,#7ad151 31.69%,#a2da37 39.79%,#b2dd2d 44.37%,#b7de2a 48.59%,#b4dd2c 52.46%,#a6db35 57.04%,#85d44a 63.73%,#57c766 72.89%,#3ebc74 79.58%,#2db27d 86.62%,#23a983 95.42%,#21a586 100%)"></i><i style="background:linear-gradient(90deg,#22a784 0%,#2bb17e 9.51%,#3bba76 16.9%,#51c569 23.59%,#79d152 32.04%,#9fda39 40.14%,#aedc30 44.72%,#b2dd2d 48.94%,#addc30 53.17%,#9fda3a 57.75%,#74d055 66.55%,#4fc36a 74.65%,#39b977 81.34%,#2ab07f 88.73%,#21a685 98.59%,#21a585 100%)"></i><i style="background:linear-gradient(90deg,#22a784 0%,#2bb17e 9.51%,#3aba76 16.9%,#52c569 23.94%,#7fd34e 33.8%,#9eda3a 40.85%,#aadc32 45.42%,#addc31 49.65%,#a7db35 53.87%,#96d83f 58.8%,#59c764 71.83%,#3fbd73 78.87%,#2eb37d 86.27%,#23a983 95.07%,#21a585 100%)"></i><i style="background:linear-gradient(90deg,#22a784 0%,#2bb17e 9.51%,#3bba75 17.25%,#53c568 24.65%,#90d743 38.38%,#a1da38 43.66%,#a7db34 48.24%,#a4db36 52.46%,#97d83f 57.39%,#74d055 65.49%,#4ec36b 74.3%,#38b977 81.34%,#29af7f 89.08%,#21a685 99.3%,#21a585 100%)"></i><i style="background:linear-gradient(90deg,#22a784 0%,#2bb17e 9.86%,#3bbb75 17.61%,#54c568 25%,#8dd645 38.73%,#9dd93b 44.01%,#a2da37 48.59%,#9eda3a 53.17%,#8fd744 58.45%,#57c666 71.83%,#3dbc74 79.23%,#2db27d 86.97%,#23a884 96.48%,#21a685 100%)"></i><i style="background:linear-gradient(90deg,#22a784 0%,#2bb17e 9.86%,#3cbb75 17.96%,#55c667 25.7%,#8cd646 39.44%,#9ad93d 44.72%,#9dd93b 49.3%,#98d83e 53.87%,#87d549 59.51%,#4bc26d 74.65%,#35b779 82.39%,#27ae81 90.85%,#21a685 100%)"></i><i style="background:linear-gradient(90deg,#22a884 0%,#2bb17e 9.86%,#3bbb75 17.96%,#55c667 26.06%,#89d548 39.79%,#95d840 45.07%,#98d83e 49.65%,#92d742 54.58%,#80d34d 60.56%,#4ac16d 74.65%,#35b779 82.39%,#27ad81 90.85%,#21a685 100%)"></i><i style="background:linear-gradient(90deg,#22a884 0%,#2cb17e 10.21%,#3cbb75 18.31%,#56c666 26.76%,#85d44a 39.79%,#91d742 45.42%,#93d741 50.35%,#8bd646 55.63%,#76d053 62.32%,#48c16e 75%,#33b67a 83.1%,#26ac81 91.9%,#21a685 100%)"></i><i style="background:linear-gradient(90deg,#22a884 0%,#2cb17e 10.21%,#3cbb75 18.66%,#58c765 27.82%,#81d34d 39.79%,#8dd645 45.42%,#8ed644 50.35%,#87d549 55.63%,#72cf56 62.68%,#46c06f 75.35%,#32b57a 83.45%,#26ac82 92.61%,#21a685 100%)"></i><i style="background:linear-gradient(90deg,#22a884 0%,#2cb17e 10.56%,#3cbb75 19.01%,#59c765 28.52%,#7dd24f 39.79%,#88d548 45.42%,#8ad547 50.7%,#81d34d 56.34%,#69cd5b 64.44%,#43be71 76.06%,#30b47c 84.51%,#24aa83 94.01%,#21a685 100%)"></i><i style="background:linear-gradient(90deg,#22a884 0%,#2cb17e 10.56%,#3cbb75 19.37%,#5ac864 29.58%,#7ad251 40.14%,#85d44a 46.13%,#85d44a 51.41%,#7bd251 57.39%,#5dc962 67.25%,#3dbc74 77.82%,#2cb17e 86.62%,#22a884 97.18%,#21a685 100%)"></i><i style="background:linear-gradient(90deg,#22a884 0%,#2cb17e 10.92%,#3dbc74 20.07%,#5fc961 31.69%,#78d152 40.85%,#81d34d 46.83%,#7fd34e 52.46%,#74d055 58.8%,#40bd73 76.41%,#2db27d 85.56%,#23a983 95.77%,#21a685 100%)"></i><i style="background:linear-gradient(90deg,#22a884 0%,#2cb17e 10.92%,#3cbb75 20.07%,#61ca60 33.1%,#76d053 41.55%,#7dd24f 47.54%,#7bd251 53.17%,#6ece58 59.86%,#3cbb75 77.46%,#2cb17e 86.62%,#22a884 97.54%,#21a685 100%)"></i><i style="background:linear-gradient(90deg,#22a884 0%,#2cb17e 11.27%,#3dbc74 20.77%,#6dce59 39.08%,#78d152 45.77%,#78d152 51.76%,#6fce58 58.1%,#41be72 75%,#2eb37c 84.51%,#23a983 95.07%,#21a685 100%)"></i><i style="background:linear-gradient(90deg,#22a884 0%,#2cb17e 11.27%,#3dbc74 21.13%,#6acd5b 39.08%,#74d055 45.77%,#74d055 51.76%,#6acd5a 58.45%,#3cbb75 76.76%,#2bb17e 86.62%,#22a785 98.24%,#21a685 100%)"></i><i style="background:linear-gradient(90deg,#22a784 0%,#2cb17e 11.62%,#3ebc74 21.83%,#68cc5c 39.44%,#71cf57 46.13%,#70cf57 52.46%,#65cb5e 59.51%,#37b877 78.87%,#28ae80 89.08%,#21a685 100%)"></i><i style="background:linear-gradient(90deg,#22a784 0%,#2bb17e 11.62%,#3dbc74 22.18%,#65cc5d 39.79%,#6dce59 46.83%,#6cce5a 53.17%,#5fca61 60.92%,#36b878 78.87%,#28ae80 89.44%,#21a685 100%)"></i><i style="background:linear-gradient(90deg,#22a784 0%,#2cb17e 11.97%,#3ebc74 22.89%,#62cb5f 39.79%,#6acd5b 46.83%,#68cc5c 53.52%,#5bc863 61.62%,#35b779 79.23%,#27ad81 89.79%,#21a685 100%)"></i><i style="background:linear-gradient(90deg,#22a784 0%,#2cb17e 12.32%,#3ebc74 23.59%,#60ca61 40.14%,#67cc5d 47.54%,#64cb5e 54.58%,#55c667 63.38%,#34b779 79.58%,#26ad81 90.49%,#21a685 100%)"></i><i style="background:linear-gradient(90deg,#22a784 0%,#2bb17e 12.32%,#3ebc74 23.94%,#5dc962 40.14%,#63cb5f 47.54%,#61ca60 54.58%,#52c569 63.73%,#32b57a 80.28%,#25ac82 91.55%,#21a685 100%)"></i><i style="background:linear-gradient(90deg,#22a784 0%,#2bb17e 12.68%,#3fbc73 25%,#5ac864 40.14%,#60ca60 47.89%,#5dc962 55.28%,#4dc36c 65.49%,#30b47b 80.99%,#24aa83 92.96%,#21a685 100%)"></i><i style="background:linear-gradient(90deg,#22a785 0%,#2bb17e 13.03%,#3fbc73 25.7%,#58c765 40.49%,#5dc962 48.24%,#59c864 55.99%,#47c06f 67.25%,#2eb37c 82.04%,#23a983 94.37%,#21a585 100%)"></i><i style="background:linear-gradient(90deg,#22a785 0%,#2bb17e 13.38%,#3fbd73 26.76%,#56c666 40.85%,#5ac864 48.94%,#56c667 57.04%,#3ebc74 71.83%,#2bb07e 84.86%,#21a685 98.24%,#21a585 100%)"></i><i style="background:linear-gradient(90deg,#22a785 0%,#2bb17e 13.38%,#3fbd73 27.46%,#53c568 40.85%,#58c765 49.3%,#52c568 57.75%,#31b57b 79.23%,#24ab82 91.9%,#21a585 100%)"></i><i style="background:linear-gradient(90deg,#22a785 0%,#2bb17e 13.73%,#41bd72 29.23%,#52c569 41.9%,#55c667 50.35%,#4ec36b 59.15%,#2cb17e 83.1%,#22a784 96.83%,#21a585 100%)"></i><i style="background:linear-gradient(90deg,#21a785 0%,#2bb17e 14.08%,#42be71 31.34%,#50c46a 42.96%,#52c569 51.41%,#4ac26d 60.92%,#2bb17e 83.1%,#22a785 97.18%,#21a585 100%)"></i><i style="background:linear-gradient(90deg,#21a685 0%,#2bb07e 14.44%,#4bc26d 39.44%,#50c46a 48.59%,#4bc26c 57.75%,#2db27d 81.34%,#22a884 95.42%,#21a586 100%)"></i><i style="background:linear-gradient(90deg,#21a685 0%,#2bb07e 14.79%,#49c16d 39.79%,#4ec36b 49.3%,#48c16e 58.8%,#29af7f 84.51%,#21a585 99.65%,#21a586 100%)"></i><i style="background:linear-gradient(90deg,#21a685 0%,#2bb07e 15.14%,#47c06f 39.79%,#4bc26c 49.65%,#45c070 59.86%,#29af80 84.51%,#21a586 100%)"></i><i style="background:linear-gradient(90deg,#21a685 0%,#2ab07f 15.49%,#46c06f 40.14%,#49c16e 50%,#43be71 60.56%,#28ae80 84.86%,#20a586 100%)"></i><i style="background:linear-gradient(90deg,#21a685 0%,#2ab07f 15.85%,#44bf71 40.14%,#47c06f 50.35%,#41bd72 61.27%,#27ad81 85.56%,#20a586 100%)"></i><i style="background:linear-gradient(90deg,#21a685 0%,#2ab07f 16.2%,#42be71 40.49%,#45bf70 51.06%,#3ebc74 62.68%,#27ad81 85.92%,#20a586 100%)"></i><i style="background:linear-gradient(90deg,#21a685 0%,#2ab07f 16.9%,#41bd72 40.85%,#43be71 51.76%,#3aba76 64.44%,#26ac81 86.27%,#20a486 100%)"></i><i style="background:linear-gradient(90deg,#21a685 0%,#2ab07f 17.25%,#3fbd73 41.2%,#41bd72 52.46%,#38b977 65.85%,#25ac82 86.97%,#20a486 100%)"></i><i style="background:linear-gradient(90deg,#21a585 0%,#2ab07f 17.61%,#3ebc74 41.55%,#3fbd73 52.82%,#35b778 67.25%,#25ab82 88.03%,#20a486 100%)"></i><i style="background:linear-gradient(90deg,#21a585 0%,#2ab07f 18.31%,#3cbb75 41.9%,#3dbc74 53.52%,#32b67a 69.37%,#24aa83 89.44%,#20a486 100%)"></i><i style="background:linear-gradient(90deg,#21a586 0%,#2ab07f 18.66%,#3bbb75 42.25%,#3cbb75 54.23%,#2fb37c 72.54%,#22a884 91.9%,#20a486 100%)"></i><i style="background:linear-gradient(90deg,#21a586 0%,#2ab07f 19.37%,#3aba76 42.61%,#3aba76 54.93%,#2aaf7f 78.52%,#20a586 97.89%,#20a486 100%)"></i><i style="background:linear-gradient(90deg,#21a586 0%,#2ab07f 20.07%,#39b977 42.96%,#38b977 55.99%,#27ad81 82.04%,#20a486 100%)"></i><i style="background:linear-gradient(90deg,#20a586 0%,#29af7f 20.42%,#37b977 43.31%,#36b878 56.69%,#25ab82 85.56%,#20a486 100%)"></i><i style="background:linear-gradient(90deg,#20a586 0%,#29af7f 21.13%,#36b878 43.66%,#35b779 57.39%,#22a784 91.55%,#20a386 100%)"></i><i style="background:linear-gradient(90deg,#20a486 0%,#29af7f 21.83%,#35b779 44.01%,#33b679 58.45%,#22a785 91.9%,#20a386 100%)"></i><i style="background:linear-gradient(90deg,#20a486 0%,#29af7f 22.89%,#34b779 44.72%,#32b57a 59.51%,#21a785 92.25%,#20a386 100%)"></i><i style="background:linear-gradient(90deg,#20a486 0%,#29af7f 23.59%,#33b67a 45.07%,#30b47b 60.56%,#21a685 92.96%,#20a387 100%)"></i><i style="background:linear-gradient(90deg,#20a486 0%,#29af7f 24.65%,#32b57a 45.77%,#2fb37c 61.97%,#21a685 93.31%,#20a387 100%)"></i><i style="background:linear-gradient(90deg,#20a486 0%,#29af7f 25.7%,#31b57b 46.48%,#2db27d 63.73%,#21a586 94.37%,#20a387 100%)"></i><i style="background:linear-gradient(90deg,#20a486 0%,#29af7f 26.76%,#30b47b 47.54%,#2cb17e 65.85%,#20a486 95.42%,#20a387 100%)"></i><i style="background:linear-gradient(90deg,#20a386 0%,#29af7f 28.17%,#2fb47c 48.59%,#2ab07f 68.66%,#20a486 97.18%,#20a287 100%)"></i><i style="background:linear-gradient(90deg,#20a386 0%,#2ab07f 30.28%,#2eb37c 50%,#27ae81 72.89%,#1fa287 100%)"></i><i style="background:linear-gradient(90deg,#20a386 0%,#2ab07f 33.1%,#2db27d 52.46%,#24aa83 79.58%,#1fa287 100%)"></i><i style="background:linear-gradient(90deg,#20a387 0%,#2cb17e 40.85%,#2bb17e 59.86%,#20a387 97.89%,#1fa287 100%)"></i><i style="background:linear-gradient(90deg,#20a387 0%,#2bb17e 40.85%,#2ab07f 60.56%,#1fa287 98.94%,#1fa287 100%)"></i><i style="background:linear-gradient(90deg,#20a387 0%,#2ab07f 41.2%,#29af7f 61.62%,#1fa287 99.65%,#1fa287 100%)"></i><i style="background:linear-gradient(90deg,#20a287 0%,#2ab07f 41.2%,#28af80 62.32%,#1fa287 100%)"></i><i style="background:linear-gradient(90deg,#1fa287 0%,#29af7f 41.55%,#28ae80 63.73%,#1fa287 100%)"></i><b style="left:0;top:0;width:1px;height:202px;opacity:0.40"></b></div>
<div class="hm" style="left:317px;top:42px;width:144px;height:204px"><i style="background:linear-gradient(90deg,#1f998a 0%,#1fa088 44.1%,#1f998a 85.76%,#1f978b 100%)"></i><i style="background:linear-gradient(90deg,#1f998a 0%,#1fa088 43.75%,#1f9a8a 82.64%,#1f978b 100%)"></i><i style="background:linear-gradient(90deg,#1f998a 0%,#1fa188 43.4%,#1e9b8a 79.86%,#1f978b 100%)"></i><i style="background:linear-gradient(90deg,#1f998a 0%,#1fa187 43.06%,#1e9c89 77.78%,#1f978b 100%)"></i><i style="background:linear-gradient(90deg,#1f998a 0%,#1fa287 42.71%,#1e9c89 75.69%,#1f978b 100%)"></i><i style="background:linear-gradient(90deg,#1f998a 0%,#1fa287 42.71%,#1e9d89 74.65%,#1f978b 100%)"></i><i style="background:linear-gradient(90deg,#1f998a 0%,#1fa287 42.36%,#1f9e89 72.92%,#1f978b 100%)"></i><i style="background:linear-gradient(90deg,#1f9a8a 0%,#20a387 42.01%,#1f9e89 71.18%,#1f978b 100%)"></i><i style="background:linear-gradient(90deg,#1f9a8a 0%,#20a386 41.67%,#1f9f88 69.79%,#1f978b 100%)"></i><i style="background:linear-gradient(90deg,#1f9a8a 0%,#20a486 41.32%,#1fa088 68.06%,#1f978b 100%)"></i><i style="background:linear-gradient(90deg,#1f9a8a 0%,#20a486 41.32%,#1fa088 67.36%,#1f978b 100%)"></i><i style="background:linear-gradient(90deg,#1f9a8a 0%,#20a586 40.97%,#1fa188 66.32%,#1f988b 100%)"></i><i style="background:linear-gradient(90deg,#1f9a8a 0%,#21a585 40.62%,#1fa287 64.93%,#1f988b 100%)"></i><i style="background:linear-gradient(90deg,#1f9a8a 0%,#21a685 40.62%,#1fa287 64.24%,#1f988b 100%)"></i><i style="background:linear-gradient(90deg,#1f9a8a 0%,#21a685 40.28%,#20a387 63.19%,#1f988b 100%)"></i><i style="background:linear-gradient(90deg,#1e9b8a 0%,#22a785 39.93%,#20a486 62.15%,#1f988b 100%)"></i><i style="background:linear-gradient(90deg,#1e9b8a 0%,#22a784 39.93%,#20a486 61.46%,#1f988b 100%)"></i><i style="background:linear-gradient(90deg,#1e9b8a 0%,#22a884 39.58%,#21a586 60.42%,#1f988b 100%)"></i><i style="background:linear-gradient(90deg,#1e9b8a 0%,#23a884 39.58%,#21a685 59.72%,#1f998a 96.88%,#1f988b 100%)"></i><i style="background:linear-gradient(90deg,#1e9b8a 0%,#23a984 36.46%,#22a784 55.56%,#1e9b8a 89.93%,#1f988b 100%)"></i><i style="background:linear-gradient(90deg,#1e9b8a 0%,#22a884 32.29%,#23a983 50.69%,#1e9c89 86.11%,#1f988b 100%)"></i><i style="background:linear-gradient(90deg,#1e9b8a 0%,#22a884 30.21%,#24aa83 48.61%,#1e9d89 84.72%,#1f988b 100%)"></i><i style="background:linear-gradient(90deg,#1e9c8a 0%,#22a884 28.47%,#25ab82 46.88%,#1fa187 73.96%,#1f988b 100%)"></i><i style="background:linear-gradient(90deg,#1e9c89 0%,#22a884 27.08%,#26ac82 45.49%,#20a486 68.06%,#1f988b 100%)"></i><i style="background:linear-gradient(90deg,#1e9c89 0%,#22a884 26.04%,#26ad81 44.44%,#21a685 64.93%,#1f9a8a 94.79%,#1f988b 100%)"></i><i style="background:linear-gradient(90deg,#1e9c89 0%,#22a884 25%,#27ad81 43.4%,#22a884 62.15%,#1e9c89 88.19%,#1f988b 100%)"></i><i style="background:linear-gradient(90deg,#1e9c89 0%,#22a884 23.96%,#28ae80 42.36%,#23a983 60.07%,#1f9e89 84.03%,#1f988b 100%)"></i><i style="background:linear-gradient(90deg,#1e9c89 0%,#22a884 22.92%,#29af80 41.67%,#24ab82 58.33%,#1f9f88 80.9%,#1f988b 100%)"></i><i style="background:linear-gradient(90deg,#1e9c89 0%,#22a884 22.22%,#29af7f 40.97%,#26ac82 56.6%,#1fa088 78.82%,#1f988b 100%)"></i><i style="background:linear-gradient(90deg,#1e9d89 0%,#23a884 21.53%,#2ab07f 40.28%,#27ad81 54.51%,#1fa187 76.39%,#1f988b 100%)"></i><i style="background:linear-gradient(90deg,#1e9d89 0%,#23a884 20.83%,#2bb17e 39.58%,#29af80 52.78%,#1fa287 75%,#1f988b 100%)"></i><i style="background:linear-gradient(90deg,#1e9d89 0%,#23a884 20.14%,#2cb27e 39.24%,#2ab07f 51.39%,#20a386 73.96%,#1f988b 100%)"></i><i style="background:linear-gradient(90deg,#1e9d89 0%,#23a884 19.44%,#2db27d 38.54%,#2cb17e 50%,#20a486 72.92%,#1f998a 100%)"></i><i style="background:linear-gradient(90deg,#1e9d89 0%,#23a884 18.75%,#2eb37c 38.19%,#2db27d 49.31%,#20a486 72.22%,#1f998a 100%)"></i><i style="background:linear-gradient(90deg,#1e9d89 0%,#23a884 18.4%,#2fb47c 37.85%,#2fb37c 48.26%,#21a586 71.53%,#1f998a 98.61%,#1f998a 100%)"></i><i style="background:linear-gradient(90deg,#1f9d89 0%,#23a884 17.71%,#30b47b 37.5%,#30b47b 47.57%,#21a685 70.83%,#1f9a8a 96.18%,#1f998a 100%)"></i><i style="background:linear-gradient(90deg,#1f9d89 0%,#23a984 17.36%,#32b57a 37.15%,#32b57a 46.88%,#22a884 68.4%,#1e9c89 88.89%,#1f998a 100%)"></i><i style="background:linear-gradient(90deg,#1f9e89 0%,#23a984 17.01%,#33b67a 36.81%,#33b679 46.18%,#25ab82 63.89%,#1fa188 79.51%,#1f998a 100%)"></i><i style="background:linear-gradient(90deg,#1f9e89 0%,#23a984 16.32%,#34b779 36.46%,#35b779 45.49%,#27ad81 61.46%,#20a386 75.35%,#1f998a 100%)"></i><i style="background:linear-gradient(90deg,#1f9e89 0%,#23a984 15.97%,#36b878 36.46%,#37b878 44.79%,#2bb17e 57.64%,#21a685 70.83%,#1f9a8a 94.1%,#1f998a 100%)"></i><i style="background:linear-gradient(90deg,#1f9e89 0%,#23a984 15.62%,#37b878 36.11%,#39b977 44.44%,#2eb37c 55.56%,#22a884 68.4%,#1e9d89 87.15%,#1f998a 100%)"></i><i style="background:linear-gradient(90deg,#1f9e89 0%,#23a983 15.28%,#32b67a 29.86%,#3aba76 39.58%,#38b977 47.57%,#24aa83 66.32%,#1f9f88 81.94%,#1f998a 100%)"></i><i style="background:linear-gradient(90deg,#1f9e89 0%,#23a983 14.93%,#31b57b 28.12%,#3cbb75 38.54%,#3bba76 46.18%,#26ac81 63.54%,#1fa287 76.74%,#1f998a 100%)"></i><i style="background:linear-gradient(90deg,#1f9e89 0%,#23a983 14.58%,#30b47b 26.74%,#3dbc74 37.85%,#3dbb74 45.14%,#2cb27d 57.99%,#22a884 68.75%,#1e9d89 87.5%,#1f988b 100%)"></i><i style="background:linear-gradient(90deg,#1f9e89 0%,#23a983 14.24%,#30b47b 25.69%,#3fbc73 37.15%,#3fbd73 44.1%,#34b779 53.12%,#25ab82 64.58%,#1fa187 77.78%,#1f988b 100%)"></i><i style="background:linear-gradient(90deg,#1f9e89 0%,#23a983 13.89%,#30b47b 25%,#40bd72 36.81%,#41be72 43.4%,#38b977 51.39%,#26ac81 63.19%,#20a387 75.35%,#1f988b 100%)"></i><i style="background:linear-gradient(90deg,#1f9e88 0%,#23a983 13.89%,#30b47b 24.65%,#42be72 36.46%,#43be71 43.06%,#3aba76 50.69%,#27ad81 62.5%,#20a486 73.61%,#1f988b 100%)"></i><i style="background:linear-gradient(90deg,#1f9e88 0%,#23a983 13.54%,#30b47c 23.61%,#43bf71 36.11%,#45bf70 42.36%,#3dbb74 49.31%,#28ae80 61.46%,#20a486 71.88%,#1f998a 97.92%,#1f988b 100%)"></i><i style="background:linear-gradient(90deg,#1f9f88 0%,#23a983 13.19%,#2fb47c 22.92%,#45bf70 35.76%,#47c06f 41.67%,#40bd72 47.92%,#28ae80 60.76%,#21a586 70.49%,#1f9a8a 95.49%,#1f988b 100%)"></i><i style="background:linear-gradient(90deg,#1f9f88 0%,#23a983 12.85%,#2fb37c 22.22%,#47c06f 35.76%,#49c16e 41.67%,#41be72 47.92%,#29af80 60.07%,#21a685 69.1%,#1e9b8a 92.36%,#1f988b 100%)"></i><i style="background:linear-gradient(90deg,#1f9f88 0%,#23a983 12.85%,#30b47c 22.22%,#48c16e 35.42%,#4bc26c 40.97%,#45bf70 46.53%,#29af7f 59.38%,#21a685 67.71%,#1e9c89 88.54%,#1f988b 100%)"></i><i style="background:linear-gradient(90deg,#1f9f88 0%,#23a983 12.5%,#2fb47c 21.53%,#4ac16d 35.07%,#4dc36b 40.62%,#46c06f 46.18%,#29af7f 59.03%,#21a685 67.01%,#1e9c89 86.81%,#1f988b 100%)"></i><i style="background:linear-gradient(90deg,#1f9f88 0%,#23a983 12.5%,#2fb47c 21.18%,#4bc26c 34.72%,#4fc46a 39.93%,#49c16d 45.14%,#2ab07f 57.99%,#22a785 65.28%,#1f9e89 81.25%,#1f988b 100%)"></i><i style="background:linear-gradient(90deg,#1f9f88 0%,#23a983 12.15%,#2eb37c 20.49%,#4dc36c 34.38%,#51c469 39.58%,#4cc26c 44.44%,#30b47b 54.86%,#24aa83 61.46%,#1fa287 71.53%,#1f988b 100%)"></i><i style="background:linear-gradient(90deg,#1f9f88 0%,#23a983 12.15%,#2fb47c 20.49%,#4ec36b 34.38%,#52c568 39.58%,#4dc36c 44.44%,#30b47b 54.51%,#24aa83 60.76%,#1fa187 70.49%,#1f988b 100%)"></i><i style="background:linear-gradient(90deg,#1f9f88 0%,#23a983 11.81%,#2eb37c 19.79%,#50c46a 34.03%,#54c667 38.89%,#50c46a 43.4%,#3ebc74 49.65%,#2aaf7f 56.6%,#21a685 62.85%,#1f9f88 74.31%,#1f988b 100%)"></i><i style="background:linear-gradient(90deg,#1f9f88 0%,#23a983 11.81%,#2fb37c 19.79%,#51c469 33.68%,#56c667 38.54%,#51c469 43.06%,#3fbd73 48.96%,#2ab07f 55.56%,#22a785 61.11%,#1f9f88 70.83%,#1f988b 100%)"></i><i style="background:linear-gradient(90deg,#1f9f88 0%,#23a983 11.81%,#2eb37c 19.44%,#52c569 33.33%,#57c766 38.19%,#53c568 42.36%,#44bf71 47.57%,#2ab07f 54.86%,#22a785 60.07%,#1f9f88 68.75%,#1f988b 100%)"></i><i style="background:linear-gradient(90deg,#1f9f88 0%,#23a983 11.46%,#2eb37c 19.1%,#4bc26d 29.86%,#57c666 35.42%,#58c765 39.58%,#50c46a 43.75%,#32b67a 51.74%,#25ab82 56.6%,#1fa187 62.85%,#1e9c89 72.92%,#1f978b 100%)"></i><i style="background:linear-gradient(90deg,#1f9f88 0%,#23a983 11.46%,#2eb37c 19.1%,#4ac16d 29.17%,#58c765 35.07%,#59c765 39.24%,#52c569 43.06%,#38b977 49.65%,#27ae81 54.51%,#20a486 59.38%,#1e9c89 67.01%,#1f978b 100%)"></i><i style="background:linear-gradient(90deg,#1f9f88 0%,#23a983 11.46%,#2eb37d 18.75%,#46c06f 27.43%,#57c766 34.03%,#5bc864 38.19%,#55c667 42.01%,#43be71 46.88%,#2ab07f 52.78%,#21a685 56.94%,#1e9c89 63.89%,#1f9a8a 74.65%,#1f978b 100%)"></i><i style="background:linear-gradient(90deg,#1f9e88 0%,#23a983 11.46%,#2eb37c 18.75%,#47c06f 27.43%,#58c765 34.03%,#5bc863 38.19%,#55c667 42.01%,#41bd72 46.88%,#29af80 52.43%,#20a486 56.6%,#1f9a8a 63.19%,#1f988b 72.57%,#1f988b 93.06%,#1f978b 100%)"></i><i style="background:linear-gradient(90deg,#1f9e89 0%,#23a984 11.11%,#2eb37d 18.4%,#44bf70 26.39%,#58c765 33.33%,#5cc963 37.5%,#57c766 40.97%,#47c06f 45.14%,#2ab07f 51.39%,#20a586 55.21%,#1f998a 61.46%,#1f968b 68.75%,#1f998a 89.24%,#1f978b 100%)"></i><i style="background:linear-gradient(90deg,#1f9e89 0%,#23a984 11.11%,#2eb37d 18.4%,#43bf71 26.04%,#59c765 33.33%,#5dc962 37.15%,#58c765 40.62%,#49c16e 44.44%,#29af7f 50.69%,#20a486 54.17%,#1f978b 60.07%,#20938c 66.32%,#1f998a 87.5%,#1f978b 100%)"></i><i style="background:linear-gradient(90deg,#1f9e89 0%,#23a984 11.11%,#2db27d 18.06%,#42be72 25.35%,#59c765 32.99%,#5dc962 36.81%,#58c765 40.28%,#48c16e 44.1%,#29af7f 50%,#20a486 53.12%,#1f978b 57.99%,#21918c 63.54%,#20938c 72.57%,#1f988b 86.81%,#1f978b 100%)"></i><i style="background:linear-gradient(90deg,#1f9e89 0%,#23a884 11.11%,#2db27d 18.06%,#42be72 25.35%,#59c765 32.64%,#5dc962 36.46%,#59c765 39.58%,#4cc26c 43.06%,#2bb07e 48.96%,#20a586 52.08%,#1f978b 56.25%,#218e8d 61.46%,#218e8d 68.06%,#1f978b 83.68%,#1f968b 100%)"></i><i style="background:linear-gradient(90deg,#1f9e89 0%,#23a884 11.11%,#2db27d 18.06%,#42be71 25.35%,#59c765 32.64%,#5dc962 36.46%,#58c765 39.58%,#49c16e 43.06%,#29af7f 48.61%,#20a486 51.39%,#1f968b 55.21%,#228b8d 60.07%,#23898d 65.62%,#1f968b 82.99%,#1f968b 100%)"></i><i style="background:linear-gradient(90deg,#1f9e89 0%,#23a884 11.11%,#2db27d 18.06%,#41bd72 25%,#58c765 32.29%,#5dc962 36.11%,#58c765 39.24%,#4ac26d 42.36%,#2db27d 47.22%,#21a685 50%,#1f998a 53.12%,#238a8d 57.99%,#25858e 62.85%,#238a8d 69.79%,#1f958b 81.94%,#1f978b 96.88%,#1f968b 100%)"></i><i style="background:linear-gradient(90deg,#1f9e89 0%,#22a884 11.11%,#2db27d 18.06%,#41bd72 25%,#58c765 32.29%,#5cc963 35.76%,#57c766 38.89%,#4ac16d 42.01%,#2bb17e 46.88%,#21a685 49.31%,#1f998a 52.08%,#24888e 56.94%,#26818e 61.46%,#25838e 67.01%,#20938c 80.56%,#1f978b 92.71%,#1f968b 100%)"></i><i style="background:linear-gradient(90deg,#1f9d89 0%,#22a884 11.11%,#2db27d 18.06%,#41bd72 25%,#57c766 31.94%,#5bc863 35.42%,#57c766 38.54%,#49c16e 41.67%,#2bb17e 46.18%,#21a585 48.61%,#1f978b 51.39%,#25848e 56.25%,#287c8e 60.42%,#287d8e 65.28%,#20928c 80.21%,#1f968b 91.32%,#1f968b 100%)"></i><i style="background:linear-gradient(90deg,#1e9d89 0%,#22a884 11.46%,#2cb27e 18.06%,#40bd72 25%,#57c666 31.94%,#5ac864 35.42%,#56c666 38.19%,#47c06e 41.32%,#2cb17e 45.49%,#21a586 47.92%,#1f988b 50.35%,#26828e 55.21%,#2a788e 59.03%,#2a778e 63.19%,#26818e 70.14%,#20918c 79.86%,#1f968b 89.93%,#1f968b 100%)"></i><i style="background:linear-gradient(90deg,#1e9d89 0%,#22a884 11.46%,#2cb17e 18.06%,#40bd73 25%,#56c666 31.94%,#59c765 35.42%,#54c568 38.19%,#44bf70 41.32%,#28ae80 45.49%,#20a387 47.57%,#1f958b 50%,#287d8e 54.86%,#2c738e 58.68%,#2d718e 62.85%,#287b8e 69.1%,#218e8d 78.82%,#1f958b 87.5%,#1f958b 100%)"></i><i style="background:linear-gradient(90deg,#1e9d89 0%,#22a784 11.46%,#2bb17e 18.06%,#3fbd73 25%,#54c667 31.6%,#58c765 35.07%,#52c568 37.85%,#45bf70 40.62%,#2bb17e 44.44%,#21a585 46.53%,#1f998a 48.61%,#287b8e 53.82%,#2e6e8e 57.64%,#2f6b8e 61.46%,#2d718e 66.32%,#228b8d 77.78%,#20948c 85.76%,#1f958b 100%)"></i><i style="background:linear-gradient(90deg,#1e9c89 0%,#22a884 11.81%,#2cb17e 18.4%,#40bd73 25.35%,#53c568 31.6%,#56c667 35.07%,#50c46a 37.85%,#3fbd73 40.97%,#25ac82 44.79%,#1f9f88 46.88%,#228d8d 49.65%,#2c748e 54.17%,#31688e 57.64%,#32648e 61.11%,#2f6a8e 65.62%,#23898d 77.43%,#20938c 84.72%,#1f958b 97.22%,#1f958b 100%)"></i><i style="background:linear-gradient(90deg,#1e9c89 0%,#22a784 11.81%,#2bb17e 18.4%,#3fbc73 25.35%,#51c469 31.6%,#54c568 34.72%,#4ec36b 37.5%,#40bd73 40.28%,#26ac81 44.1%,#1fa088 46.18%,#218f8d 48.61%,#2d708e 53.47%,#33628d 56.94%,#355d8d 60.07%,#34618d 63.89%,#24878e 77.08%,#20918c 84.03%,#1f958b 94.79%,#1f958b 100%)"></i><i style="background:linear-gradient(90deg,#1e9c89 0%,#22a785 11.81%,#2bb17e 18.75%,#40bd73 26.04%,#50c46a 31.6%,#51c569 34.72%,#4bc26d 37.5%,#3aba76 40.62%,#23a983 44.1%,#1f9e89 45.83%,#238a8d 48.61%,#306a8e 53.47%,#375b8d 56.94%,#39568c 60.07%,#375a8c 63.54%,#2d6f8e 70.14%,#25858e 77.08%,#21908c 83.68%,#1f958b 93.4%,#1f958b 100%)"></i><i style="background:linear-gradient(90deg,#1e9c8a 0%,#22a785 12.15%,#2bb17e 19.1%,#42be72 27.08%,#4ec36b 31.94%,#4ec36b 35.07%,#46c06f 37.85%,#31b57b 41.32%,#22a884 43.75%,#1e9c89 45.49%,#25858e 48.61%,#33638d 53.47%,#3a548c 56.6%,#3c4e8a 59.72%,#3b518b 62.85%,#34618d 67.71%,#277f8e 75.69%,#228d8d 81.6%,#20948c 89.58%,#1f958c 100%)"></i><i style="background:linear-gradient(90deg,#1e9b8a 0%,#22a785 12.5%,#2bb17e 19.44%,#4ac26d 30.9%,#4cc36c 34.38%,#46c06f 37.15%,#34b779 40.28%,#22a785 43.4%,#1e9b8a 45.14%,#27808e 48.61%,#365c8d 53.47%,#3d4c8a 56.6%,#404688 59.38%,#3f4989 62.5%,#37598c 67.01%,#297b8e 75%,#238a8d 80.56%,#20928c 87.5%,#1f948c 100%)"></i><i style="background:linear-gradient(90deg,#1e9b8a 0%,#21a685 12.5%,#2ab07f 19.44%,#47c06f 30.56%,#4ac16d 34.03%,#44bf71 36.81%,#33b67a 39.93%,#21a685 43.06%,#1f9a8a 44.79%,#297b8e 48.61%,#3b528b 53.82%,#414487 56.6%,#433e85 59.38%,#424086 62.15%,#3c4e8a 65.97%,#2b768e 74.31%,#24878e 79.51%,#21918c 85.76%,#1f948c 96.53%,#20948c 100%)"></i><i style="background:linear-gradient(90deg,#1e9b8a 0%,#21a685 12.85%,#2ab07f 19.79%,#45bf70 30.56%,#47c06f 34.03%,#40bd73 36.81%,#2db27d 40.28%,#20a586 42.71%,#1f988b 44.44%,#2a798e 48.26%,#3d4d8a 53.47%,#433d84 56.25%,#453681 58.68%,#453781 61.46%,#414387 64.93%,#32648e 71.18%,#287c8e 76.39%,#238a8d 81.6%,#20928c 88.54%,#20948c 100%)"></i><i style="background:linear-gradient(90deg,#1f9a8a 0%,#21a685 13.19%,#2ab07f 20.14%,#42be71 30.56%,#44bf71 34.03%,#3cbb75 36.81%,#2ab07f 40.28%,#20a486 42.36%,#1f988b 44.1%,#2a778e 47.92%,#3c4f8a 52.43%,#453882 55.56%,#472f7d 57.99%,#472d7c 60.42%,#463480 63.19%,#3f4989 67.36%,#2f6c8e 73.26%,#27808e 78.12%,#228c8d 83.33%,#20938c 90.97%,#20948c 100%)"></i><i style="background:linear-gradient(90deg,#1f9a8a 0%,#21a585 13.54%,#2ab07f 20.83%,#40bd73 30.56%,#40bd72 34.03%,#39b976 36.81%,#29af80 39.93%,#1fa187 42.36%,#20918c 44.44%,#2f6c8e 48.61%,#3f4889 52.43%,#46337f 55.21%,#482878 57.64%,#482576 60.07%,#472b7a 62.85%,#433d84 66.32%,#375a8c 70.83%,#2b758e 75.69%,#25858e 80.21%,#218f8d 85.76%,#20948c 95.49%,#20948c 100%)"></i><i style="background:linear-gradient(90deg,#1f9a8a 0%,#21a585 13.89%,#29af7f 21.18%,#3dbb74 30.56%,#3dbc74 34.03%,#34b779 37.15%,#24ab82 40.28%,#1f9e89 42.36%,#228b8d 44.79%,#34618d 49.31%,#414287 52.43%,#472c7b 55.21%,#482172 57.64%,#481e6f 60.07%,#482474 62.85%,#453681 66.32%,#3b518b 70.14%,#2d6f8e 75%,#26818e 79.17%,#228d8d 84.38%,#20938c 92.36%,#20938c 100%)"></i><i style="background:linear-gradient(90deg,#1f998a 0%,#20a486 13.89%,#29af80 21.53%,#3aba76 30.9%,#39b976 34.38%,#2fb47c 37.5%,#21a685 40.62%,#1f988b 42.71%,#297b8e 46.18%,#3b528b 50.35%,#453681 53.12%,#482273 55.9%,#48186a 58.33%,#481769 60.76%,#482071 63.54%,#463580 67.01%,#3c4f8a 70.49%,#2e6d8e 75%,#27808e 79.17%,#228c8d 84.03%,#20928c 91.67%,#20938c 100%)"></i><i style="background:linear-gradient(90deg,#1f998a 0%,#20a486 14.24%,#28ae80 21.88%,#37b877 30.9%,#36b878 34.38%,#2ab07f 37.85%,#1fa287 40.97%,#20938c 43.06%,#2e6e8e 47.22%,#3e4a89 50.69%,#472e7c 53.47%,#481c6e 55.9%,#471264 58.33%,#471163 60.76%,#48196b 63.54%,#472f7d 67.01%,#3e4a89 70.49%,#30698e 74.65%,#287c8e 78.47%,#238a8d 82.99%,#20918c 89.58%,#20938c 100%)"></i><i style="background:linear-gradient(90deg,#1f988b 0%,#20a386 14.58%,#28ae80 22.57%,#34b779 30.9%,#32b67a 34.38%,#28ae80 37.85%,#1fa187 40.62%,#20938c 42.71%,#2e6e8e 46.88%,#3e4a89 50.35%,#472d7c 53.12%,#48186a 55.9%,#470d60 58.33%,#460a5e 60.42%,#471063 62.85%,#482273 65.97%,#433d84 69.44%,#38578c 72.57%,#2d718e 76.39%,#26828e 80.21%,#228d8d 85.07%,#20928c 93.4%,#20938c 100%)"></i><i style="background:linear-gradient(90deg,#1f988b 0%,#20a287 14.58%,#27ad81 22.92%,#31b57b 31.25%,#2eb37c 34.72%,#24aa83 38.19%,#1e9d89 40.97%,#23888e 43.75%,#33618d 47.92%,#414487 50.69%,#482777 53.47%,#471265 56.25%,#46085b 58.68%,#46075a 61.11%,#470e61 63.54%,#482172 66.67%,#443b84 69.79%,#38578c 72.92%,#2d708e 76.39%,#26818e 80.21%,#228c8d 85.07%,#20928c 93.06%,#20938c 100%)"></i><i style="background:linear-gradient(90deg,#1f978b 0%,#1fa287 14.93%,#26ad81 23.96%,#2eb37c 31.25%,#2bb07e 35.07%,#22a785 38.54%,#1f9a8a 40.97%,#25848e 44.1%,#365c8d 48.26%,#433e85 51.04%,#482374 53.82%,#470f62 56.6%,#450659 58.68%,#450457 61.11%,#460a5d 63.54%,#481c6e 66.67%,#453781 69.79%,#3b518b 72.57%,#2f6c8e 76.04%,#277e8e 79.51%,#238a8d 83.68%,#20918c 90.28%,#20938c 100%)"></i><i style="background:linear-gradient(90deg,#1f978b 0%,#1fa187 15.28%,#26ac81 25%,#2bb17e 31.94%,#26ac81 36.11%,#1fa088 39.58%,#218f8d 42.36%,#2d708e 46.18%,#3d4d8a 49.65%,#46337f 52.08%,#48186a 55.21%,#46085b 57.99%,#450356 60.42%,#450559 62.85%,#471062 65.28%,#482676 68.4%,#424086 71.18%,#375b8d 73.96%,#2c728e 77.08%,#26828e 80.56%,#228c8d 85.07%,#20928c 93.06%,#20928c 100%)"></i><i style="background:linear-gradient(90deg,#1f978b 0%,#1fa088 15.62%,#26ac82 26.39%,#28ae80 32.64%,#23a884 36.81%,#1f9a8a 40.28%,#25838e 43.75%,#355f8d 47.92%,#414287 50.69%,#482777 53.47%,#471163 56.6%,#450659 59.03%,#450356 61.46%,#46075b 63.89%,#481568 66.67%,#472b7a 69.44%,#414487 71.88%,#355f8d 74.65%,#2c738e 77.43%,#26838e 80.9%,#228d8d 85.76%,#20928c 94.79%,#20928c 100%)"></i><i style="background:linear-gradient(90deg,#1f968b 0%,#1fa088 16.32%,#26ac81 30.56%,#23a983 35.42%,#1f9f88 38.89%,#218f8d 42.01%,#2e6f8e 46.18%,#3e4b89 50%,#46307e 52.78%,#48196b 55.9%,#46095d 59.03%,#450559 61.81%,#460a5d 64.58%,#481769 67.36%,#472b7a 69.79%,#404487 72.22%,#34618d 75%,#2b758e 77.78%,#25848e 81.25%,#228d8d 86.11%,#20928c 95.83%,#20928c 100%)"></i><i style="background:linear-gradient(90deg,#1f968b 0%,#1f9f88 16.67%,#24aa83 30.56%,#22a785 35.42%,#1e9c89 39.24%,#23898d 42.71%,#31678e 47.22%,#3f4788 50.69%,#472c7b 53.82%,#48186a 56.94%,#470d60 60.07%,#460a5d 63.19%,#471062 65.97%,#481c6e 68.4%,#472e7c 70.49%,#3e4a89 72.92%,#31668e 75.69%,#29798e 78.47%,#24868e 81.94%,#218e8d 87.15%,#20928c 98.96%,#20928c 100%)"></i><i style="background:linear-gradient(90deg,#1f958b 0%,#1f9e89 17.36%,#22a884 30.56%,#20a586 35.42%,#1f9a8a 39.24%,#24868e 43.06%,#33638d 47.92%,#414287 51.74%,#482978 55.21%,#48186a 58.68%,#471063 62.15%,#471164 65.62%,#48196b 68.06%,#482878 70.14%,#414387 72.57%,#345f8d 75%,#2c738e 77.43%,#26828e 80.56%,#228c8d 85.07%,#20918c 93.75%,#20928c 100%)"></i><i style="background:linear-gradient(90deg,#1f958c 0%,#1f9d89 18.4%,#21a585 30.9%,#1fa287 35.76%,#1f978b 39.58%,#25848e 43.4%,#355e8d 48.96%,#433e85 53.12%,#482878 56.94%,#481b6d 60.76%,#481668 65.28%,#48196c 68.06%,#482374 69.79%,#463480 71.53%,#3c4f8b 73.61%,#31668e 75.69%,#2a788e 78.12%,#25858e 81.25%,#228d8d 86.11%,#20918c 97.22%,#20918c 100%)"></i><i style="background:linear-gradient(90deg,#20948c 0%,#1e9d89 19.44%,#20a387 31.25%,#1f9e88 36.46%,#20928c 40.62%,#297b8e 45.14%,#3b518b 51.39%,#453781 55.9%,#482878 60.07%,#481c6e 66.32%,#481d6f 68.75%,#482475 70.14%,#46327f 71.53%,#3e4a89 73.26%,#32648e 75.35%,#2b758e 77.43%,#26838e 80.21%,#228c8d 84.38%,#20918c 93.06%,#20918c 100%)"></i><i style="background:linear-gradient(90deg,#20948c 0%,#1e9c89 20.83%,#1fa088 31.94%,#1e9b8a 37.15%,#218f8d 41.32%,#2b758e 46.53%,#3e4b8a 53.82%,#443983 58.33%,#482072 68.4%,#482273 69.79%,#482978 70.83%,#443a83 72.22%,#3a548c 73.96%,#30698e 75.69%,#29798e 77.78%,#25858e 80.56%,#228d8d 85.42%,#20918c 96.88%,#20918c 100%)"></i><i style="background:linear-gradient(90deg,#20938c 0%,#1e9b8a 22.57%,#1f9e89 32.64%,#1f988b 37.85%,#238a8d 42.71%,#355d8d 52.08%,#3f4989 57.29%,#46327f 65.62%,#482475 69.44%,#482676 70.49%,#472f7d 71.53%,#3e4b89 73.26%,#32648e 75%,#2b758e 76.74%,#26828e 79.17%,#228b8d 82.99%,#21908c 90.97%,#20918c 100%)"></i><i style="background:linear-gradient(90deg,#20928c 0%,#1e9b8a 32.64%,#1f958b 38.54%,#24878e 43.75%,#365d8d 54.86%,#414287 65.28%,#463480 68.06%,#482878 70.14%,#482979 70.83%,#472f7d 71.53%,#424086 72.57%,#375a8c 73.96%,#2f6c8e 75.35%,#297a8e 77.08%,#24868e 79.86%,#228d8d 84.72%,#20918c 98.26%,#20918c 100%)"></i><i style="background:linear-gradient(90deg,#20928c 0%,#1f988b 33.33%,#20928c 39.58%,#26828e 46.18%,#31678e 55.21%,#3a548c 64.93%,#3f4989 67.36%,#453782 69.44%,#472e7c 70.49%,#472e7c 71.18%,#453681 71.88%,#3a538b 73.26%,#32658e 74.31%,#2b758e 75.69%,#26828e 77.78%,#238a8d 81.25%,#21908d 88.89%,#21918c 100%)"></i><i style="background:linear-gradient(90deg,#20918c 0%,#1f968b 34.03%,#218f8d 41.32%,#2c728e 56.25%,#32668e 64.93%,#365c8d 67.36%,#3b528b 68.75%,#443982 70.83%,#453882 71.18%,#443983 71.53%,#404588 72.22%,#32648e 73.61%,#2c738e 74.65%,#277e8e 76.04%,#24878e 78.47%,#218e8d 83.68%,#21908c 100%)"></i><i style="background:linear-gradient(90deg,#20918c 0%,#20938c 36.11%,#238b8d 45.83%,#287d8e 58.33%,#2b768e 65.62%,#2e6e8e 68.06%,#32648e 69.44%,#3a538b 70.83%,#3b518b 71.18%,#3b518b 71.53%,#375a8c 72.22%,#2c738e 73.61%,#277e8e 74.65%,#24878e 76.74%,#218e8d 81.25%,#21908c 100%)"></i><i style="background:linear-gradient(90deg,#21908c 0%,#21908d 42.36%,#24888e 67.71%,#26818e 70.14%,#287d8e 71.53%,#23898d 73.96%,#218e8d 77.78%,#21908c 100%)"></i><i style="background:linear-gradient(90deg,#21908d 0%,#218f8d 38.89%,#1f9e89 66.67%,#20a486 69.1%,#29af7f 71.18%,#27ae80 71.88%,#1fa287 73.26%,#1f988b 75%,#20928c 78.82%,#21908c 100%)"></i><i style="background:linear-gradient(90deg,#218f8d 0%,#228d8d 35.42%,#1f948c 44.1%,#20a386 54.17%,#27ad81 64.58%,#2eb37c 67.01%,#39ba76 68.4%,#43bf71 69.1%,#52c568 69.79%,#6cce59 70.83%,#70cf57 71.18%,#6ece58 71.53%,#67cc5d 71.88%,#3fbd73 72.92%,#35b779 73.26%,#2cb27d 73.61%,#23a983 74.31%,#1f9f88 75.69%,#1f968b 78.47%,#20918c 85.07%,#21908d 100%)"></i><i style="background:linear-gradient(90deg,#218f8d 0%,#238a8d 33.68%,#21908c 40.62%,#1fa187 48.26%,#29af80 54.51%,#3cbb75 63.54%,#47c06e 65.97%,#54c667 67.36%,#63cb5f 68.4%,#7ad251 69.44%,#95d840 70.49%,#9ad93d 70.83%,#9bd93c 71.18%,#97d83f 71.53%,#8dd645 71.88%,#6ece58 72.57%,#4ec36b 73.26%,#42be72 73.61%,#30b47b 74.31%,#26ac81 75%,#20a486 76.04%,#1f9a8a 78.47%,#20938c 83.33%,#21908d 99.31%,#21908d 100%)"></i><i style="background:linear-gradient(90deg,#218e8d 0%,#24878e 32.99%,#228d8d 39.24%,#1e9c89 45.14%,#22a884 48.61%,#34b779 53.47%,#50c46a 61.11%,#60ca61 64.58%,#6dce59 66.32%,#7fd34e 67.71%,#a9dc33 70.14%,#acdc31 70.49%,#addc30 70.83%,#aadc32 71.18%,#a3db37 71.53%,#99d93d 71.88%,#7dd24f 72.57%,#5fc961 73.26%,#46c06f 73.96%,#35b779 74.65%,#2ab07f 75.35%,#22a784 76.39%,#1e9d89 78.47%,#1f958c 82.29%,#21908c 91.32%,#21908d 100%)"></i><i style="background:linear-gradient(90deg,#228e8d 0%,#24868e 25%,#25858e 34.03%,#228c8d 39.24%,#1e9c89 44.44%,#22a884 47.22%,#2fb37c 50%,#52c568 55.56%,#70cf57 61.46%,#83d44b 64.93%,#96d83f 67.01%,#b3dd2d 69.44%,#b7de2a 70.14%,#b3dd2c 70.83%,#aedc30 71.18%,#9cd93b 71.88%,#68cc5c 73.26%,#50c46a 73.96%,#3dbc74 74.65%,#30b47b 75.35%,#25ab82 76.39%,#20a387 77.78%,#1f988b 80.9%,#20918c 86.81%,#218f8d 100%)"></i><i style="background:linear-gradient(90deg,#228d8d 0%,#25858e 21.88%,#26828e 32.29%,#24878e 37.5%,#20948c 42.01%,#1fa287 45.14%,#26ac81 47.22%,#36b878 49.65%,#61ca60 54.51%,#7dd24f 58.33%,#a4db36 65.28%,#bddf26 68.75%,#bedf25 69.79%,#b9de29 70.49%,#addc30 71.18%,#9bd93c 71.88%,#60ca60 73.61%,#43bf71 74.65%,#30b47b 75.69%,#26ac82 76.74%,#1fa287 78.47%,#1f978b 81.94%,#20918c 88.54%,#218f8d 100%)"></i><i style="background:linear-gradient(90deg,#228d8d 0%,#25848e 20.14%,#277f8e 31.6%,#25848e 36.81%,#21908d 40.97%,#1fa088 44.44%,#26ac82 46.53%,#36b878 48.61%,#68cc5c 53.12%,#88d548 56.25%,#9fda39 59.38%,#c3e023 66.67%,#c8e020 68.4%,#c4e022 69.44%,#b9de29 70.49%,#abdc32 71.18%,#8ed644 72.22%,#59c765 73.96%,#40bd73 75%,#2fb47c 76.04%,#26ac82 77.08%,#1fa287 78.82%,#1f988b 82.29%,#20918c 88.54%,#218f8d 100%)"></i><i style="background:linear-gradient(90deg,#228c8d 0%,#25838e 19.1%,#287c8e 31.25%,#26808e 36.11%,#228c8d 40.28%,#1fa088 44.1%,#24aa83 45.83%,#31b57b 47.57%,#4fc36a 50%,#83d44c 53.82%,#a2da37 56.6%,#b8de29 59.38%,#c9e020 62.85%,#d1e11b 66.32%,#d0e11c 68.06%,#c9e01f 69.1%,#bcdf27 70.14%,#a7db34 71.18%,#76d153 72.92%,#51c469 74.31%,#3cbb75 75.35%,#2db27d 76.39%,#23a983 77.78%,#1f9f88 79.86%,#1f958b 84.03%,#21908d 92.01%,#218f8d 100%)"></i><i style="background:linear-gradient(90deg,#228c8d 0%,#26838e 18.06%,#297a8e 30.9%,#287e8e 35.76%,#23888e 39.58%,#1e9c89 43.4%,#22a784 45.14%,#2eb37c 46.88%,#49c16e 48.96%,#7fd34e 52.43%,#a7db34 55.21%,#c1df24 57.64%,#d1e11c 60.07%,#dbe319 62.85%,#dde318 65.62%,#d8e219 67.36%,#cde11d 68.75%,#bfdf25 69.79%,#aadc32 70.83%,#7dd24f 72.57%,#51c469 74.31%,#3dbb74 75.35%,#2fb37c 76.39%,#24aa83 77.78%,#1fa088 79.86%,#1f958b 84.03%,#21908d 91.67%,#218f8d 100%)"></i><i style="background:linear-gradient(90deg,#228b8d 0%,#26828e 17.36%,#2a788e 30.56%,#297b8e 35.42%,#24868e 39.24%,#1f9a8a 43.06%,#21a685 44.79%,#2ab07f 46.18%,#3fbc73 47.92%,#67cc5d 50.35%,#9eda3a 53.47%,#bcdf27 55.56%,#d2e21b 57.64%,#e0e318 59.72%,#e7e419 62.15%,#e7e419 64.58%,#dfe318 66.67%,#d3e21b 68.06%,#c0df24 69.44%,#a4db36 70.83%,#67cc5c 73.26%,#49c16e 74.65%,#33b67a 76.04%,#27ad81 77.43%,#20a486 79.17%,#1f988b 82.99%,#21918c 89.24%,#218e8d 100%)"></i><i style="background:linear-gradient(90deg,#238b8d 0%,#26818e 16.67%,#2b758e 30.56%,#2a788e 35.42%,#25848e 39.24%,#1f978b 42.71%,#20a386 44.44%,#28ae80 45.83%,#38b977 47.22%,#5ac864 49.31%,#96d83f 52.43%,#bade28 54.51%,#d1e11b 56.25%,#e2e418 57.99%,#ede51b 60.07%,#f1e51d 62.5%,#ede51b 64.58%,#e3e418 66.32%,#d5e21a 67.71%,#c1df24 69.1%,#a5db35 70.49%,#6ccd5a 72.92%,#4ec36b 74.31%,#37b977 75.69%,#29af7f 77.08%,#21a685 78.82%,#1f998a 82.29%,#20918c 87.85%,#218e8d 100%)"></i><i style="background:linear-gradient(90deg,#238a8d 0%,#26808e 15.97%,#2c738e 30.56%,#2b768e 35.07%,#26808e 38.89%,#20938c 42.36%,#20a387 44.44%,#28ae80 45.83%,#39b977 47.22%,#57c766 48.96%,#97d83f 52.08%,#bedf26 54.17%,#d2e21b 55.56%,#e2e418 56.94%,#efe51c 58.68%,#f7e620 60.76%,#f6e61f 62.85%,#ede51b 64.93%,#dee318 66.67%,#cce11e 68.06%,#b4dd2c 69.44%,#7ed34e 71.88%,#52c569 73.96%,#3bba75 75.35%,#2cb17e 76.74%,#22a784 78.47%,#1e9c89 81.25%,#20938c 86.11%,#218e8d 95.83%,#218e8d 100%)"></i><i style="background:linear-gradient(90deg,#238a8d 0%,#277f8e 15.62%,#2d718e 30.21%,#2c738e 34.72%,#287c8e 38.19%,#228d8d 41.67%,#1f9f88 44.1%,#25ab82 45.49%,#34b779 46.88%,#52c569 48.61%,#8cd645 51.39%,#bddf26 53.82%,#d3e21b 55.21%,#e4e419 56.6%,#f2e61d 58.33%,#fae722 60.42%,#f8e621 62.5%,#eee51b 64.58%,#dde318 66.32%,#cbe11e 67.71%,#acdc31 69.44%,#70cf57 72.22%,#4ec36b 73.96%,#39ba76 75.35%,#2bb17e 76.74%,#22a784 78.47%,#1e9c89 81.25%,#20938c 86.11%,#218e8d 95.49%,#218e8d 100%)"></i><i style="background:linear-gradient(90deg,#23898d 0%,#277f8e 15.28%,#2e6e8e 30.21%,#2d708e 34.72%,#29798e 38.19%,#23898d 41.32%,#1f9e89 44.1%,#24aa83 45.49%,#2eb37d 46.53%,#44bf71 47.92%,#6ece58 50%,#abdc31 52.78%,#cbe11e 54.51%,#dbe319 55.56%,#eae51a 56.94%,#f6e620 58.68%,#fae723 60.42%,#f7e620 62.5%,#ede51b 64.24%,#dbe319 65.97%,#c8e020 67.36%,#aadc33 69.1%,#6acd5b 72.22%,#4ac26d 73.96%,#33b67a 75.69%,#26ac82 77.43%,#1fa287 79.51%,#1f968b 83.68%,#218f8d 90.28%,#218e8d 100%)"></i><i style="background:linear-gradient(90deg,#23898e 0%,#277e8e 14.93%,#2f6c8e 30.21%,#2e6e8e 34.72%,#2a778e 38.19%,#24878e 41.32%,#1e9c89 44.1%,#23a884 45.49%,#2cb27e 46.53%,#42be72 47.92%,#6dce59 50%,#aadc32 52.78%,#cbe11f 54.51%,#dae319 55.56%,#e9e41a 56.94%,#f5e61f 58.68%,#f8e621 60.42%,#f4e61f 62.15%,#eae51a 63.89%,#d8e219 65.62%,#c5e022 67.01%,#a0da39 69.1%,#5dc963 72.57%,#41be72 74.31%,#2eb37d 76.04%,#23a983 77.78%,#1f9f88 80.21%,#1f948c 84.72%,#218e8d 92.36%,#218e8d 100%)"></i><i style="background:linear-gradient(90deg,#23888e 0%,#287d8e 14.58%,#306a8e 30.56%,#2f6c8e 34.72%,#2b758e 38.19%,#25858e 41.32%,#1e9d89 44.44%,#21a685 45.49%,#2ab07f 46.53%,#3ebc74 47.92%,#69cd5b 50%,#a6db35 52.78%,#c7e021 54.51%,#dae319 55.9%,#ebe51a 57.64%,#f2e61d 59.38%,#f2e61d 61.11%,#eae51a 62.85%,#dbe319 64.58%,#cae01f 65.97%,#a9dc33 68.06%,#68cc5c 71.53%,#47c06f 73.61%,#32b57a 75.35%,#26ac82 77.08%,#20a387 79.17%,#1f968b 83.68%,#218f8d 90.62%,#228d8d 100%)"></i><i style="background:linear-gradient(90deg,#24888e 0%,#287d8e 14.24%,#31688e 30.56%,#30698e 34.72%,#2c728e 38.19%,#26838e 41.32%,#1f9a8a 44.44%,#22a785 45.83%,#2bb17e 46.88%,#40bd73 48.26%,#6bcd5a 50.35%,#a7db34 53.12%,#c5e021 54.86%,#d8e219 56.25%,#e6e419 57.99%,#ebe51a 59.72%,#e8e419 61.46%,#dee318 63.19%,#cce11e 64.93%,#b4dd2c 66.67%,#78d152 70.14%,#50c46a 72.57%,#3aba76 74.31%,#2ab07f 76.04%,#21a685 78.12%,#1f9a8a 81.6%,#20918c 87.15%,#228d8d 97.92%,#228d8d 100%)"></i><i style="background:linear-gradient(90deg,#24878e 0%,#287c8e 13.89%,#31668e 30.56%,#31678e 34.72%,#2d708e 38.19%,#27808e 41.32%,#1e9b8a 44.79%,#22a784 46.18%,#2bb17e 47.22%,#41bd72 48.61%,#72cf56 51.04%,#a4db36 53.47%,#c1df24 55.21%,#d5e21a 56.94%,#dfe318 58.68%,#e0e318 60.42%,#dae319 62.15%,#cce11e 63.89%,#b2dd2d 65.97%,#7ad251 69.44%,#4fc36a 72.22%,#36b878 74.31%,#28ae80 76.04%,#21a586 78.12%,#1f988b 82.29%,#21908d 88.54%,#228d8d 100%)"></i><i style="background:linear-gradient(90deg,#24878e 0%,#287c8e 13.89%,#32648e 30.56%,#32658e 34.72%,#2e6e8e 38.19%,#287d8e 41.32%,#1f988b 44.79%,#20a486 46.18%,#28ae80 47.22%,#3aba76 48.61%,#62ca60 50.69%,#99d93d 53.47%,#b5de2b 55.21%,#c9e01f 56.94%,#d3e21b 58.68%,#d4e21b 60.42%,#cde11d 62.15%,#bedf25 63.89%,#a5db36 65.97%,#6acd5a 69.79%,#48c16e 72.22%,#32b57a 74.31%,#25ab82 76.39%,#1fa187 78.82%,#1f958b 83.68%,#218e8d 90.97%,#228d8d 100%)"></i><i style="background:linear-gradient(90deg,#24878e 0%,#297b8e 13.54%,#33628d 30.9%,#33638d 35.07%,#2f6d8e 38.54%,#277f8e 42.01%,#1f9a8a 45.49%,#22a785 46.88%,#2bb07e 47.92%,#3fbc73 49.31%,#73d055 52.08%,#98d83e 54.17%,#b0dd2e 55.9%,#c0df25 57.64%,#c6e021 59.38%,#c3e022 61.11%,#b9de29 62.85%,#a4db36 64.93%,#75d054 68.4%,#4ac16d 71.53%,#34b779 73.61%,#26ac81 75.69%,#1fa287 78.12%,#1f958b 82.99%,#218e8d 89.93%,#228d8d 100%)"></i><i style="background:linear-gradient(90deg,#24868e 0%,#297a8e 13.54%,#34618d 30.9%,#34618d 35.07%,#306a8e 38.54%,#287c8e 42.01%,#1f978b 45.49%,#20a387 46.88%,#26ac81 47.92%,#37b878 49.31%,#66cc5d 52.08%,#8fd744 54.51%,#a5db36 56.25%,#b2dd2d 57.99%,#b6de2b 59.72%,#b2dd2d 61.46%,#a3db37 63.54%,#89d548 65.97%,#4fc36a 70.49%,#35b778 72.92%,#27ae80 75%,#20a486 77.43%,#1f968b 82.29%,#218e8d 88.89%,#228d8d 100%)"></i><i style="background:linear-gradient(90deg,#24868e 0%,#297a8e 13.54%,#355f8d 30.9%,#345f8d 35.07%,#31688e 38.54%,#29798e 42.01%,#1f968b 45.83%,#1fa287 47.22%,#25ab82 48.26%,#34b679 49.65%,#65cb5e 52.78%,#84d44b 54.86%,#97d83f 56.6%,#a2da38 58.33%,#a4db36 60.07%,#9fda39 61.81%,#90d743 63.89%,#6fce58 67.01%,#43be71 70.83%,#2eb37c 73.26%,#23a884 75.69%,#1f9e89 78.82%,#20928c 84.38%,#228d8d 93.06%,#228c8d 100%)"></i><i style="background:linear-gradient(90deg,#25858e 0%,#297a8e 13.19%,#355d8d 31.25%,#355e8d 35.42%,#31678e 38.89%,#2a788e 42.36%,#1f978b 46.53%,#20a386 47.92%,#29af80 49.31%,#3ebc74 51.04%,#6bcd5a 54.17%,#83d44c 56.25%,#8fd644 57.99%,#93d741 59.72%,#90d743 61.46%,#83d44b 63.54%,#66cc5d 66.67%,#3cbb75 70.83%,#2bb07e 73.26%,#21a685 75.69%,#1f9a8a 79.51%,#21908c 85.42%,#228c8d 95.49%,#228c8d 100%)"></i><i style="background:linear-gradient(90deg,#25858e 0%,#29798e 13.19%,#365c8d 31.25%,#365c8d 35.42%,#32648e 38.89%,#2b758e 42.36%,#20938c 46.53%,#1fa187 48.26%,#26ac81 49.65%,#38b977 51.39%,#60ca61 54.51%,#74d054 56.6%,#7ed34e 58.33%,#81d34d 60.07%,#7cd250 62.15%,#6cce5a 64.58%,#3ebc74 69.79%,#2bb07e 72.57%,#21a685 75.35%,#1f998a 79.51%,#21908d 85.76%,#228c8d 96.53%,#228c8d 100%)"></i><i style="background:linear-gradient(90deg,#25858e 0%,#2a788e 13.19%,#375b8d 31.25%,#375b8d 35.42%,#33628d 38.89%,#2c728e 42.36%,#20918c 46.88%,#1fa287 48.96%,#26ac81 50.35%,#3aba76 52.43%,#5bc863 55.56%,#6acd5b 57.64%,#70cf57 59.72%,#6dce59 61.81%,#60ca60 64.24%,#37b878 69.79%,#27ad81 72.57%,#1fa287 75.69%,#20948c 81.6%,#228d8d 89.24%,#228c8d 100%)"></i><i style="background:linear-gradient(90deg,#25848e 0%,#2a788e 13.19%,#37598c 31.6%,#37598c 35.76%,#34618d 39.24%,#2c738e 43.06%,#1f958c 47.92%,#1fa187 49.65%,#27ae80 51.39%,#46c06f 54.86%,#58c765 57.29%,#5fc961 59.38%,#5ec962 61.46%,#53c568 64.24%,#2eb37c 70.14%,#22a884 73.26%,#1e9c89 77.08%,#20918c 83.33%,#228c8d 92.71%,#228c8d 100%)"></i><i style="background:linear-gradient(90deg,#25848e 0%,#2a778e 13.19%,#38588c 31.6%,#38588c 35.76%,#34608d 39.58%,#2c728e 43.4%,#1f958c 48.61%,#20a386 50.69%,#2ab07f 52.78%,#43bf71 56.25%,#4ec36b 58.68%,#50c46a 61.11%,#48c16e 63.89%,#2bb17e 69.79%,#21a585 73.26%,#1f988b 78.12%,#218e8d 85.07%,#228b8d 96.88%,#228b8d 100%)"></i><i style="background:linear-gradient(90deg,#25848e 0%,#2a778e 13.19%,#38578c 31.94%,#38578c 36.11%,#345f8d 39.93%,#2d718e 43.75%,#20928c 48.96%,#1fa287 51.39%,#29af7f 53.82%,#3cbb75 57.29%,#43be71 59.72%,#41be72 62.5%,#31b57b 67.01%,#23a984 71.18%,#1e9d89 75.35%,#20918c 81.94%,#228b8d 90.97%,#228b8d 100%)"></i><i style="background:linear-gradient(90deg,#25848e 0%,#2a778e 13.19%,#39568c 31.94%,#39568c 36.46%,#355e8d 40.28%,#2c718e 44.44%,#20948c 50%,#1fa287 52.43%,#2ab07f 55.56%,#36b878 59.03%,#37b977 61.81%,#2eb37d 65.97%,#21a585 71.18%,#1f998a 76.39%,#218e8d 83.68%,#238b8d 95.14%,#228b8d 100%)"></i><i style="background:linear-gradient(90deg,#25838e 0%,#2a768e 13.19%,#39558c 32.29%,#39558c 36.81%,#355e8d 40.62%,#2c728e 45.14%,#1f958c 51.04%,#20a387 53.82%,#2ab07f 57.64%,#2eb37c 61.11%,#29af7f 65.28%,#1fa287 71.18%,#20928c 79.17%,#228b8d 87.85%,#228b8d 100%)"></i><i style="background:linear-gradient(90deg,#25838e 0%,#2b768e 13.19%,#39558c 32.29%,#3a548c 36.81%,#365c8d 40.62%,#2e6f8e 45.14%,#20938c 51.74%,#1fa187 54.86%,#25ab82 58.68%,#27ad81 62.85%,#20a486 69.1%,#1f958b 76.39%,#228c8d 84.72%,#238b8d 99.31%,#238b8d 100%)"></i><i style="background:linear-gradient(90deg,#25838e 0%,#2b768e 13.19%,#3a548c 32.64%,#3a548b 37.15%,#365c8d 41.32%,#2d718e 46.18%,#1f948c 53.12%,#20a387 57.29%,#22a884 61.46%,#20a486 66.67%,#1f968b 74.65%,#228c8d 83.33%,#238a8d 96.88%,#238b8d 100%)"></i><i style="background:linear-gradient(90deg,#26838e 0%,#2b758e 13.19%,#3a548b 32.64%,#3a538b 37.15%,#375b8d 41.32%,#2e6e8e 46.18%,#20938c 54.17%,#1f9f88 58.33%,#20a387 62.85%,#1e9c89 69.44%,#218e8d 80.21%,#238a8d 91.32%,#238a8d 100%)"></i><i style="background:linear-gradient(90deg,#26838e 0%,#2b758e 13.19%,#3a548b 32.64%,#3a538b 37.5%,#375a8d 41.67%,#2e6e8e 46.88%,#21908d 54.51%,#1e9b8a 59.03%,#1f9e89 63.89%,#20948c 73.26%,#228b8d 83.33%,#238a8d 99.65%,#238a8d 100%)"></i><i style="background:linear-gradient(90deg,#26828e 0%,#2b758e 13.19%,#3a538b 32.99%,#3a528b 37.85%,#375b8d 42.36%,#2c718e 48.26%,#228d8d 55.21%,#1f988b 59.72%,#1f9a8a 64.93%,#238a8d 82.64%,#238a8d 99.31%,#238a8d 100%)"></i><i style="background:linear-gradient(90deg,#26828e 0%,#2b748e 13.54%,#3a538b 32.99%,#3b528b 37.85%,#375a8c 42.36%,#2d708e 48.61%,#238a8d 55.56%,#20948c 60.42%,#1f968b 65.97%,#23898d 83.33%,#238a8d 100%)"></i><i style="background:linear-gradient(90deg,#26828e 0%,#2b748e 13.54%,#3a538b 33.33%,#3a528b 38.54%,#375a8d 43.06%,#2b758e 50.69%,#23898d 56.94%,#20918c 62.15%,#20918c 69.1%,#23898e 84.38%,#238a8d 100%)"></i><i style="background:linear-gradient(90deg,#26828e 0%,#2b748e 13.54%,#3a538b 33.33%,#3b528b 38.54%,#375a8c 43.4%,#25858e 56.6%,#218e8d 62.15%,#218e8d 69.44%,#24888e 85.76%,#238a8d 100%)"></i><i style="background:linear-gradient(90deg,#26828e 0%,#2b748e 13.89%,#3a548b 33.68%,#3a538b 38.89%,#375a8c 43.75%,#26828e 56.94%,#228b8d 62.85%,#228b8d 71.18%,#24888e 87.85%,#23898d 100%)"></i><i style="background:linear-gradient(90deg,#26828e 0%,#2b748e 13.89%,#3a548b 33.68%,#3a538b 39.24%,#365b8d 44.44%,#27808e 57.29%,#23888e 63.54%,#23898e 73.26%,#24888e 91.67%,#23898d 100%)"></i><i style="background:linear-gradient(90deg,#26828e 0%,#2b748e 13.89%,#3a558c 33.68%,#3a538b 39.24%,#375a8d 44.44%,#277e8e 57.99%,#24868e 64.58%,#24878e 77.78%,#23898d 100%)"></i><i style="background:linear-gradient(90deg,#26828e 0%,#2c738e 14.24%,#39558c 34.03%,#3a548b 39.93%,#365c8d 45.49%,#287c8e 58.33%,#25848e 65.28%,#23898e 100%)"></i><i style="background:linear-gradient(90deg,#26828e 0%,#2c748e 14.24%,#39568c 34.03%,#3a548c 39.93%,#365c8d 45.83%,#297b8e 58.68%,#25838e 66.32%,#23898e 100%)"></i><i style="background:linear-gradient(90deg,#26828e 0%,#2c738e 14.58%,#39568c 34.03%,#39558c 40.28%,#355d8d 46.53%,#297a8e 59.38%,#26828e 67.36%,#23898e 100%)"></i><i style="background:linear-gradient(90deg,#26828e 0%,#2c738e 14.93%,#38578c 34.38%,#39568c 40.62%,#355e8d 46.88%,#29798e 60.07%,#26818e 68.75%,#23898e 100%)"></i><i style="background:linear-gradient(90deg,#26818e 0%,#2c738e 14.93%,#38588c 34.38%,#39568c 40.97%,#355f8d 47.57%,#2a788e 60.76%,#26818e 70.49%,#23898e 100%)"></i><i style="background:linear-gradient(90deg,#26818e 0%,#2c738e 15.28%,#38598c 34.38%,#38578c 40.97%,#355f8d 47.92%,#2a788e 61.46%,#27808e 71.88%,#23888e 100%)"></i><i style="background:linear-gradient(90deg,#26818e 0%,#2c738e 15.62%,#37598c 34.72%,#38588c 41.67%,#34618d 48.96%,#2a788e 62.5%,#26808e 74.31%,#23888e 100%)"></i><i style="background:linear-gradient(90deg,#26818e 0%,#2c738e 15.62%,#375a8c 34.72%,#38598c 41.67%,#34618d 49.31%,#2a788e 63.19%,#26818e 76.04%,#23888e 100%)"></i><i style="background:linear-gradient(90deg,#26828e 0%,#2c738e 15.97%,#365b8d 34.72%,#375a8c 42.01%,#33628d 50%,#2a788e 64.24%,#26818e 78.47%,#23888e 100%)"></i><i style="background:linear-gradient(90deg,#26828e 0%,#2c738e 16.32%,#365c8d 35.07%,#375b8d 42.71%,#32658e 51.39%,#2a788e 65.28%,#26828e 81.25%,#23888e 100%)"></i><i style="background:linear-gradient(90deg,#26828e 0%,#2c738e 16.67%,#365d8d 35.07%,#365c8d 42.71%,#32658e 51.74%,#2a788e 66.32%,#26838e 84.03%,#24888e 100%)"></i><i style="background:linear-gradient(90deg,#26828e 0%,#2c738e 17.01%,#355e8d 35.42%,#365d8d 43.4%,#31678e 53.12%,#29798e 67.71%,#25848e 87.85%,#24888e 100%)"></i><i style="background:linear-gradient(90deg,#26828e 0%,#2c738e 17.36%,#355f8d 35.42%,#355e8d 43.75%,#30698e 54.17%,#297a8e 69.1%,#25858e 91.32%,#24888e 100%)"></i><i style="background:linear-gradient(90deg,#26828e 0%,#2c728e 18.06%,#34608d 35.76%,#355f8d 44.1%,#306a8e 55.21%,#297b8e 70.49%,#24868e 94.1%,#24888e 100%)"></i><i style="background:linear-gradient(90deg,#26828e 0%,#2c728e 18.4%,#34618d 35.76%,#34608d 44.44%,#2f6c8e 56.25%,#287c8e 72.22%,#24878e 97.57%,#24888e 100%)"></i><i style="background:linear-gradient(90deg,#26828e 0%,#2c728e 19.1%,#33628d 36.11%,#34618d 45.14%,#2e6f8e 58.68%,#287d8e 75%,#24888e 100%)"></i><i style="background:linear-gradient(90deg,#26828e 0%,#2c728e 19.44%,#33638d 36.11%,#33628d 45.49%,#2d718e 60.76%,#277f8e 78.12%,#24888e 100%)"></i><i style="background:linear-gradient(90deg,#26828e 0%,#2c728e 20.14%,#33648d 36.46%,#33648d 45.83%,#2c738e 63.19%,#26818e 81.94%,#24888e 100%)"></i><i style="background:linear-gradient(90deg,#26828e 0%,#2c728e 20.83%,#32658e 36.81%,#32658e 46.53%,#277e8e 77.08%,#24888e 100%)"></i><i style="background:linear-gradient(90deg,#26828e 0%,#2c728e 21.53%,#32658e 37.15%,#31668e 47.22%,#277f8e 78.12%,#24888e 100%)"></i><i style="background:linear-gradient(90deg,#26828e 0%,#2d718e 22.57%,#31668e 37.85%,#31678e 48.26%,#277f8e 79.17%,#24888e 100%)"></i><i style="background:linear-gradient(90deg,#26828e 0%,#2d718e 23.61%,#31678e 38.54%,#30698e 49.31%,#27808e 80.21%,#24888e 100%)"></i><i style="background:linear-gradient(90deg,#26838e 0%,#2d708e 25%,#31688e 39.24%,#2f6a8e 50.69%,#27808e 80.9%,#24888e 100%)"></i><i style="background:linear-gradient(90deg,#26838e 0%,#2e6f8e 28.12%,#30698e 41.32%,#2e6d8e 53.47%,#26818e 81.94%,#24888e 100%)"></i><i style="background:linear-gradient(90deg,#26838e 0%,#306a8e 37.5%,#2f6b8e 49.31%,#26828e 84.38%,#24888e 100%)"></i><i style="background:linear-gradient(90deg,#25838e 0%,#2f6b8e 37.85%,#2f6c8e 50%,#26828e 85.42%,#24888e 100%)"></i><i style="background:linear-gradient(90deg,#25838e 0%,#2f6c8e 37.85%,#2e6d8e 50.35%,#25838e 86.46%,#24888e 100%)"></i><i style="background:linear-gradient(90deg,#25838e 0%,#2e6d8e 37.85%,#2e6e8e 50.69%,#25848e 87.85%,#24888e 100%)"></i><i style="background:linear-gradient(90deg,#25838e 0%,#2e6e8e 37.85%,#2d6f8e 51.04%,#25848e 88.89%,#24888e 100%)"></i><i style="background:linear-gradient(90deg,#25838e 0%,#2e6f8e 38.19%,#2d708e 52.08%,#25858e 89.93%,#24888e 100%)"></i><i style="background:linear-gradient(90deg,#25848e 0%,#2d6f8e 38.19%,#2d718e 52.43%,#25858e 90.97%,#24888e 100%)"></i><i style="background:linear-gradient(90deg,#25848e 0%,#2d708e 38.19%,#2c728e 52.78%,#25858e 92.01%,#24888e 100%)"></i><i style="background:linear-gradient(90deg,#25848e 0%,#2d718e 38.19%,#2c738e 53.12%,#24868e 93.4%,#24888e 100%)"></i><i style="background:linear-gradient(90deg,#25848e 0%,#2c728e 38.54%,#2c748e 54.17%,#24868e 94.1%,#24888e 100%)"></i><i style="background:linear-gradient(90deg,#25848e 0%,#2c738e 38.54%,#2b748e 54.51%,#24878e 95.14%,#24888e 100%)"></i><i style="background:linear-gradient(90deg,#25848e 0%,#2c738e 38.54%,#2b758e 54.86%,#24878e 96.53%,#24888e 100%)"></i><i style="background:linear-gradient(90deg,#25848e 0%,#2b748e 38.89%,#2b768e 55.9%,#24878e 97.57%,#24888e 100%)"></i><i style="background:linear-gradient(90deg,#25858e 0%,#2b758e 38.89%,#2a778e 56.25%,#24888e 98.61%,#24888e 100%)"></i><i style="background:linear-gradient(90deg,#25858e 0%,#2b758e 39.24%,#2a788e 57.29%,#24888e 99.65%,#24888e 100%)"></i><i style="background:linear-gradient(90deg,#25858e 0%,#2b768e 39.24%,#2a788e 57.64%,#23888e 100%)"></i><i style="background:linear-gradient(90deg,#25858e 0%,#2a778e 39.24%,#29798e 58.33%,#23888e 100%)"></i><i style="background:linear-gradient(90deg,#25858e 0%,#2a778e 39.58%,#297a8e 59.03%,#23888e 100%)"></i><i style="background:linear-gradient(90deg,#25858e 0%,#2a788e 39.58%,#297b8e 59.72%,#23888e 100%)"></i><i style="background:linear-gradient(90deg,#25858e 0%,#2a788e 39.93%,#287b8e 60.76%,#23888e 100%)"></i><i style="background:linear-gradient(90deg,#24858e 0%,#29798e 39.93%,#287c8e 61.46%,#23888e 100%)"></i><i style="background:linear-gradient(90deg,#24868e 0%,#297a8e 40.28%,#287d8e 62.5%,#23888e 100%)"></i><i style="background:linear-gradient(90deg,#24868e 0%,#297a8e 40.28%,#287d8e 63.19%,#23898e 100%)"></i><i style="background:linear-gradient(90deg,#24868e 0%,#297b8e 40.62%,#277e8e 64.24%,#23898e 100%)"></i><i style="background:linear-gradient(90deg,#24868e 0%,#297b8e 40.97%,#277f8e 65.62%,#23898e 100%)"></i><i style="background:linear-gradient(90deg,#24868e 0%,#287c8e 40.97%,#277f8e 66.32%,#23898e 100%)"></i><i style="background:linear-gradient(90deg,#24868e 0%,#287c8e 41.32%,#27808e 67.71%,#23898e 100%)"></i><i style="background:linear-gradient(90deg,#24868e 0%,#287d8e 41.67%,#26818e 69.1%,#23898e 100%)"></i><i style="background:linear-gradient(90deg,#24878e 0%,#287d8e 41.67%,#26818e 69.79%,#23898e 100%)"></i><i style="background:linear-gradient(90deg,#24878e 0%,#287d8e 42.01%,#26828e 71.18%,#23898e 100%)"></i><i style="background:linear-gradient(90deg,#24878e 0%,#277e8e 42.36%,#26838e 72.92%,#23898d 100%)"></i><i style="background:linear-gradient(90deg,#24878e 0%,#277e8e 42.71%,#25848e 75%,#23898d 100%)"></i><i style="background:linear-gradient(90deg,#24878e 0%,#277f8e 43.06%,#25848e 76.74%,#23898d 100%)"></i><i style="background:linear-gradient(90deg,#24878e 0%,#277f8e 43.4%,#25858e 79.17%,#23898d 100%)"></i><i style="background:linear-gradient(90deg,#24878e 0%,#27808e 43.4%,#25858e 80.21%,#23898d 100%)"></i><i style="background:linear-gradient(90deg,#24888e 0%,#27808e 43.75%,#24868e 82.99%,#23898d 100%)"></i><i style="background:linear-gradient(90deg,#24888e 0%,#26808e 44.1%,#24878e 86.46%,#23898d 100%)"></i><b style="left:0;top:0;width:1px;height:204px;opacity:0.90"></b><b style="left:143px;top:0;width:1px;height:204px;opacity:0.10"></b><b style="left:0;top:203px;width:144px;height:1px;opacity:0.30"></b></div>
<div class="hm" style="left:20px;top:340px;width:143px;height:203px"><i style="background:linear-gradient(90deg,#34608d 0%,#37598c 75.17%,#375b8d 100%)"></i><i style="background:linear-gradient(90deg,#34608d 0%,#38598c 74.48%,#375a8d 100%)"></i><i style="background:linear-gradient(90deg,#34608d 0%,#38598c 74.13%,#375a8d 100%)"></i><i style="background:linear-gradient(90deg,#34608d 0%,#38588c 73.43%,#375a8c 100%)"></i><i style="background:linear-gradient(90deg,#34608d 0%,#38588c 73.08%,#375a8c 100%)"></i><i style="background:linear-gradient(90deg,#34608d 0%,#375a8c 46.85%,#38588c 80.77%,#375a8c 100%)"></i><i style="background:linear-gradient(90deg,#34608d 0%,#375a8d 44.41%,#38588c 77.27%,#375a8c 100%)"></i><i style="background:linear-gradient(90deg,#34608d 0%,#375b8d 42.31%,#38588c 74.83%,#375a8c 100%)"></i><i style="background:linear-gradient(90deg,#34608d 0%,#375b8d 40.91%,#38578c 72.73%,#375a8c 100%)"></i><i style="background:linear-gradient(90deg,#34618d 0%,#365b8d 39.51%,#38578c 70.98%,#375a8c 100%)"></i><i style="background:linear-gradient(90deg,#34618d 0%,#365b8d 38.11%,#39578c 69.58%,#37598c 100%)"></i><i style="background:linear-gradient(90deg,#34618d 0%,#365b8d 37.06%,#39568c 68.53%,#37598c 100%)"></i><i style="background:linear-gradient(90deg,#34618d 0%,#365c8d 36.01%,#39568c 67.48%,#37598c 100%)"></i><i style="background:linear-gradient(90deg,#34618d 0%,#365c8d 34.97%,#39568c 66.43%,#37598c 100%)"></i><i style="background:linear-gradient(90deg,#34618d 0%,#365c8d 34.27%,#39558c 65.38%,#37598c 100%)"></i><i style="background:linear-gradient(90deg,#34618d 0%,#365c8d 33.22%,#39558c 64.69%,#37598c 100%)"></i><i style="background:linear-gradient(90deg,#34618d 0%,#365c8d 32.52%,#39558c 63.99%,#38598c 100%)"></i><i style="background:linear-gradient(90deg,#34618d 0%,#365d8d 31.82%,#3a548c 63.29%,#38598c 100%)"></i><i style="background:linear-gradient(90deg,#34618d 0%,#365d8d 31.12%,#3a548c 62.94%,#38588c 100%)"></i><i style="background:linear-gradient(90deg,#34618d 0%,#365d8d 30.42%,#3a548b 62.24%,#38588c 100%)"></i><i style="background:linear-gradient(90deg,#33618d 0%,#365d8d 30.07%,#3a538b 61.89%,#38588c 98.95%,#38588c 100%)"></i><i style="background:linear-gradient(90deg,#33628d 0%,#355d8d 29.37%,#3a538b 61.54%,#38578c 94.41%,#38588c 100%)"></i><i style="background:linear-gradient(90deg,#33628d 0%,#355e8d 28.67%,#3a528b 61.19%,#39568c 90.91%,#38588c 100%)"></i><i style="background:linear-gradient(90deg,#33628d 0%,#355e8d 28.32%,#3b528b 60.84%,#39558c 88.11%,#38588c 100%)"></i><i style="background:linear-gradient(90deg,#33628d 0%,#355e8d 27.62%,#3b518b 60.49%,#3a558c 86.01%,#38588c 100%)"></i><i style="background:linear-gradient(90deg,#33628d 0%,#355e8d 27.27%,#3b518b 60.14%,#3a548b 83.92%,#38578c 100%)"></i><i style="background:linear-gradient(90deg,#33628d 0%,#355e8d 26.92%,#3b508b 59.79%,#3a538b 82.17%,#38578c 100%)"></i><i style="background:linear-gradient(90deg,#33628d 0%,#355f8d 26.57%,#3c508b 59.44%,#3b528b 80.42%,#38578c 100%)"></i><i style="background:linear-gradient(90deg,#33628d 0%,#355f8d 26.22%,#3c4f8b 59.44%,#3b518b 79.37%,#38578c 100%)"></i><i style="background:linear-gradient(90deg,#33628d 0%,#355f8d 25.52%,#3c4f8a 59.09%,#3b518b 77.97%,#38578c 100%)"></i><i style="background:linear-gradient(90deg,#33638d 0%,#345f8d 25.17%,#3c4e8a 59.09%,#3c508b 77.27%,#39578c 100%)"></i><i style="background:linear-gradient(90deg,#33638d 0%,#34608d 24.83%,#3d4d8a 58.74%,#3c4f8a 75.87%,#39568c 100%)"></i><i style="background:linear-gradient(90deg,#33638d 0%,#34608d 24.83%,#3d4d8a 58.74%,#3c4e8a 75.17%,#39568c 100%)"></i><i style="background:linear-gradient(90deg,#33638d 0%,#34608d 24.48%,#3b528b 46.5%,#3e4c8a 61.19%,#3c4f8b 79.72%,#39568c 100%)"></i><i style="background:linear-gradient(90deg,#33638d 0%,#34608d 24.13%,#3a548b 43.71%,#3e4b89 59.09%,#3d4d8a 74.83%,#39568c 100%)"></i><i style="background:linear-gradient(90deg,#33638d 0%,#34618d 23.78%,#39558c 41.96%,#3e4b89 58.04%,#3e4b8a 72.38%,#39568c 100%)"></i><i style="background:linear-gradient(90deg,#33638d 0%,#34618d 23.43%,#39568c 40.56%,#3e4a89 57.34%,#3e4a89 70.98%,#39568c 100%)"></i><i style="background:linear-gradient(90deg,#32648e 0%,#34618d 23.43%,#39578c 39.86%,#3f4989 56.99%,#3f4989 69.93%,#39558c 100%)"></i><i style="background:linear-gradient(90deg,#32648e 0%,#33628d 23.08%,#38578c 38.81%,#3f4989 56.29%,#3f4889 68.53%,#39558c 100%)"></i><i style="background:linear-gradient(90deg,#32648e 0%,#33628d 23.08%,#38588c 38.11%,#3f4889 55.94%,#404788 67.48%,#39558c 100%)"></i><i style="background:linear-gradient(90deg,#32648e 0%,#33628d 22.73%,#37598c 37.06%,#404788 55.94%,#404588 67.13%,#39558c 100%)"></i><i style="background:linear-gradient(90deg,#32648e 0%,#33638d 22.73%,#37598c 36.71%,#404688 55.59%,#414487 66.43%,#39558c 100%)"></i><i style="background:linear-gradient(90deg,#32658e 0%,#33638d 22.38%,#375a8c 36.01%,#404588 55.59%,#414387 66.08%,#3a558c 100%)"></i><i style="background:linear-gradient(90deg,#32658e 0%,#33638d 22.38%,#375a8d 35.66%,#414487 55.24%,#414286 65.03%,#3a548c 100%)"></i><i style="background:linear-gradient(90deg,#32658e 0%,#32648e 22.38%,#365b8d 35.31%,#414387 55.24%,#424186 64.69%,#3a548c 100%)"></i><i style="background:linear-gradient(90deg,#32658e 0%,#32648e 22.38%,#365c8d 34.97%,#414286 55.24%,#423f85 64.34%,#3e4a89 82.17%,#3a548b 100%)"></i><i style="background:linear-gradient(90deg,#32658e 0%,#32658e 22.03%,#365d8d 34.27%,#424186 55.24%,#433e85 63.99%,#3f4788 79.37%,#3a548b 100%)"></i><i style="background:linear-gradient(90deg,#32668e 0%,#32658e 22.03%,#355d8d 33.92%,#424086 55.24%,#433d84 63.64%,#404588 77.62%,#3a538b 99.3%,#3a548b 100%)"></i><i style="background:linear-gradient(90deg,#32668e 0%,#32668e 22.03%,#355e8d 33.57%,#3f4989 47.55%,#433d84 56.99%,#443c84 65.38%,#3a528b 97.9%,#3a538b 100%)"></i><i style="background:linear-gradient(90deg,#31668e 0%,#31668e 22.03%,#355f8d 33.22%,#3d4d8a 45.1%,#433d84 55.59%,#443a83 63.64%,#414387 76.57%,#3b528b 96.85%,#3a538b 100%)"></i><i style="background:linear-gradient(90deg,#31668e 0%,#31678e 22.03%,#345f8d 33.22%,#3d4e8a 44.41%,#433c84 54.9%,#453882 62.59%,#433f85 73.43%,#3b508b 94.76%,#3a538b 100%)"></i><i style="background:linear-gradient(90deg,#31668e 0%,#31678e 22.03%,#34608d 32.87%,#3b508b 43.01%,#443b84 54.55%,#453781 61.89%,#433c84 71.68%,#3c4f8b 93.71%,#3a538b 100%)"></i><i style="background:linear-gradient(90deg,#31678e 0%,#31688e 22.38%,#34618d 32.87%,#3b518b 42.66%,#443a83 54.55%,#453581 61.54%,#443a83 70.63%,#3c4f8a 93.01%,#3a538b 100%)"></i><i style="background:linear-gradient(90deg,#31678e 0%,#30698e 22.38%,#33628d 32.87%,#3b528b 42.31%,#443983 54.2%,#463480 61.19%,#453882 69.58%,#3d4e8a 92.31%,#3a528b 100%)"></i><i style="background:linear-gradient(90deg,#31678e 0%,#30698e 22.38%,#33638d 32.52%,#3a548c 41.26%,#453882 54.2%,#46327f 60.84%,#453681 68.88%,#3d4c8a 90.91%,#3b528b 100%)"></i><i style="background:linear-gradient(90deg,#31678e 0%,#306a8e 22.73%,#32648d 32.52%,#39568c 40.91%,#453782 54.2%,#46317e 60.84%,#463480 68.53%,#3e4b89 89.51%,#3b528b 100%)"></i><i style="background:linear-gradient(90deg,#31688e 0%,#2f6b8e 22.73%,#32658e 32.52%,#38578c 40.56%,#443a83 52.1%,#46317e 58.39%,#47307d 65.03%,#433d85 77.62%,#3d4e8a 93.71%,#3b528b 100%)"></i><i style="background:linear-gradient(90deg,#31688e 0%,#2f6b8e 23.08%,#32668e 32.52%,#38588c 40.56%,#433c84 51.05%,#47307d 57.69%,#472e7c 63.99%,#453782 73.78%,#3e4b8a 90.91%,#3b528b 100%)"></i><i style="background:linear-gradient(90deg,#30688e 0%,#2f6c8e 23.43%,#31668e 32.87%,#38588c 40.56%,#433d85 50.35%,#472f7d 56.99%,#472c7b 62.94%,#46337f 71.33%,#3f4989 88.46%,#3b518b 100%)"></i><i style="background:linear-gradient(90deg,#30688e 0%,#2e6d8e 23.43%,#31688e 32.52%,#365b8d 39.86%,#424086 49.3%,#47307d 55.94%,#472b7a 61.89%,#472f7d 69.23%,#404688 86.71%,#3b518b 100%)"></i><i style="background:linear-gradient(90deg,#30698e 0%,#2e6e8e 23.78%,#30698e 32.87%,#365b8d 40.21%,#424086 49.3%,#472f7d 55.94%,#482979 61.54%,#472d7b 68.53%,#404588 86.01%,#3b518b 100%)"></i><i style="background:linear-gradient(90deg,#30698e 0%,#2e6f8e 24.13%,#306a8e 32.87%,#355e8d 39.86%,#414286 48.95%,#472f7d 55.59%,#482878 61.19%,#472b7a 67.83%,#414487 85.31%,#3b518b 100%)"></i><i style="background:linear-gradient(90deg,#30698e 0%,#2d708e 24.48%,#2f6b8e 33.22%,#355f8d 39.86%,#404588 48.25%,#472f7d 55.24%,#482878 60.49%,#482878 66.43%,#443b84 79.72%,#3d4c8a 93.36%,#3b518b 100%)"></i><i style="background:linear-gradient(90deg,#306a8e 0%,#2d718e 25.17%,#2f6c8e 33.57%,#34608d 40.21%,#404688 48.25%,#472f7d 55.24%,#482777 60.49%,#482777 66.43%,#453882 77.97%,#3e4a89 91.26%,#3b518b 100%)"></i><i style="background:linear-gradient(90deg,#306a8e 0%,#2c728e 25.52%,#2e6e8e 33.57%,#33628d 40.21%,#3e4989 47.55%,#472f7d 55.24%,#482676 60.49%,#482676 66.08%,#463380 75.87%,#3f4788 89.51%,#3b508b 100%)"></i><i style="background:linear-gradient(90deg,#306a8e 0%,#2c748e 25.87%,#2d6f8e 33.92%,#32648d 40.21%,#3d4c8a 47.2%,#46307e 54.9%,#482676 59.79%,#482475 65.03%,#472d7c 72.73%,#414387 86.01%,#3c508b 99.65%,#3b508b 100%)"></i><i style="background:linear-gradient(90deg,#2f6a8e 0%,#2b758e 26.57%,#2d718e 34.27%,#32658e 40.56%,#3c4e8a 47.2%,#46317e 54.9%,#482676 59.79%,#482474 65.03%,#472c7b 72.38%,#414286 85.66%,#3c4f8b 98.95%,#3c508b 100%)"></i><i style="background:linear-gradient(90deg,#2f6b8e 0%,#2a768e 27.27%,#2c738e 34.62%,#31678e 40.56%,#3b528b 46.85%,#453681 53.85%,#482777 59.09%,#482374 63.99%,#482878 70.28%,#424086 84.97%,#3c4e8a 97.9%,#3c508b 100%)"></i><i style="background:linear-gradient(90deg,#2f6b8e 0%,#2a788e 27.62%,#2b758e 34.97%,#30698e 40.91%,#3a538b 47.2%,#453681 54.2%,#482878 59.09%,#482374 63.99%,#482777 70.28%,#424086 84.97%,#3c4e8a 97.55%,#3c508b 100%)"></i><i style="background:linear-gradient(90deg,#2f6b8e 0%,#297a8e 28.32%,#2a778e 35.31%,#2f6c8e 40.91%,#38578c 46.85%,#443b83 53.5%,#482a79 58.74%,#482374 63.64%,#482576 69.23%,#424086 85.31%,#3c4e8a 97.9%,#3c508b 100%)"></i><i style="background:linear-gradient(90deg,#2f6b8e 0%,#287c8e 29.02%,#2a798e 36.01%,#2e6d8e 41.61%,#38588c 47.55%,#443b83 54.2%,#472a7a 59.09%,#482374 63.99%,#482576 69.58%,#424086 85.66%,#3d4e8a 97.9%,#3c4f8b 100%)"></i><i style="background:linear-gradient(90deg,#2f6c8e 0%,#277e8e 29.72%,#297b8e 36.36%,#2d708e 41.96%,#375a8c 47.9%,#433c84 54.55%,#472b7a 59.44%,#482474 64.34%,#482576 69.93%,#443983 81.82%,#3e4a89 93.71%,#3c4f8b 100%)"></i><i style="background:linear-gradient(90deg,#2f6c8e 0%,#26808e 30.42%,#287d8e 37.06%,#2c738e 42.31%,#365c8d 48.25%,#433e85 54.9%,#472c7b 60.14%,#482475 65.03%,#482676 70.63%,#424186 86.71%,#3c4e8a 98.95%,#3c4f8b 100%)"></i><i style="background:linear-gradient(90deg,#2f6c8e 0%,#287c8e 20.98%,#25838e 32.17%,#277f8e 38.11%,#2c748e 43.36%,#365c8d 49.3%,#433d85 55.94%,#472c7b 60.84%,#482575 65.73%,#482677 71.33%,#424186 87.06%,#3c4f8a 99.3%,#3c4f8a 100%)"></i><i style="background:linear-gradient(90deg,#2f6d8e 0%,#297b8e 18.88%,#24868e 31.82%,#25848e 37.76%,#29798e 43.01%,#32648e 48.6%,#404588 55.24%,#46307e 60.49%,#482677 65.38%,#482676 70.63%,#46317e 78.32%,#404588 90.21%,#3c4f8a 100%)"></i><i style="background:linear-gradient(90deg,#2e6d8e 0%,#297b8e 17.83%,#23898e 32.17%,#24878e 38.11%,#277e8e 43.01%,#30698e 48.6%,#3f4889 55.59%,#46327e 61.19%,#482777 66.08%,#482677 70.98%,#46317e 78.32%,#404588 90.21%,#3c4f8a 100%)"></i><i style="background:linear-gradient(90deg,#2e6d8e 0%,#297b8e 16.78%,#228c8d 32.52%,#228b8d 38.46%,#26828e 43.36%,#2e6d8e 48.95%,#3e4a89 56.29%,#46337f 61.89%,#482878 66.78%,#482777 71.68%,#46317e 78.67%,#404588 90.56%,#3c4f8a 100%)"></i><i style="background:linear-gradient(90deg,#2e6d8e 0%,#297b8e 16.08%,#218f8d 33.22%,#218f8d 38.81%,#24868e 43.71%,#2c738e 48.95%,#3d4c8a 56.99%,#453580 62.59%,#482a79 67.13%,#482777 71.68%,#472f7d 77.97%,#414487 89.86%,#3c4f8a 100%)"></i><i style="background:linear-gradient(90deg,#2e6e8e 0%,#287b8e 15.73%,#20938c 33.92%,#20938c 39.51%,#228b8d 44.06%,#2a788e 49.3%,#3c4f8a 57.69%,#453681 63.64%,#472a7a 68.18%,#482878 72.73%,#46317e 79.37%,#404688 91.26%,#3c4e8a 100%)"></i><i style="background:linear-gradient(90deg,#2e6e8e 0%,#287b8e 15.03%,#1f978b 34.62%,#1f988b 39.86%,#21908c 44.41%,#277f8e 49.3%,#3a548b 58.04%,#453782 64.34%,#472b7a 68.88%,#482979 73.43%,#46327f 80.07%,#404688 91.61%,#3c4e8a 100%)"></i><i style="background:linear-gradient(90deg,#2e6e8e 0%,#287c8e 14.69%,#1f9a8a 33.22%,#1f9e89 39.16%,#1f998a 43.71%,#238b8d 48.25%,#31678e 55.59%,#404588 62.24%,#46327f 67.13%,#472a79 71.33%,#472b7a 75.87%,#414387 89.86%,#3c4e8a 100%)"></i><i style="background:linear-gradient(90deg,#2e6e8e 0%,#287c8e 14.34%,#20938c 27.62%,#1fa187 36.36%,#1fa287 41.26%,#1f9a8a 45.8%,#24878e 50.7%,#375a8c 59.44%,#443a83 66.08%,#472d7b 70.28%,#472a79 74.13%,#46317e 79.72%,#404588 91.26%,#3c4e8a 100%)"></i><i style="background:linear-gradient(90deg,#2e6e8e 0%,#287c8e 13.99%,#20918c 25.87%,#1fa187 33.57%,#22a884 39.51%,#21a586 44.06%,#1f9a8a 48.25%,#26828e 53.5%,#39568c 61.54%,#453882 67.48%,#472d7b 71.33%,#472b7a 75.17%,#463580 81.82%,#3f4788 93.01%,#3c4e8a 100%)"></i><i style="background:linear-gradient(90deg,#2e6f8e 0%,#287c8e 13.64%,#21918c 24.83%,#1fa188 31.82%,#26ad81 38.46%,#27ad81 43.01%,#21a586 47.2%,#1f988b 50.7%,#2b758e 57.34%,#3d4d8a 64.34%,#453580 69.23%,#472c7b 72.73%,#472c7b 76.57%,#414487 90.91%,#3c4e8a 100%)"></i><i style="background:linear-gradient(90deg,#2e6f8e 0%,#287c8e 13.29%,#21908d 23.78%,#1fa088 30.42%,#27ad81 36.01%,#2fb47c 41.26%,#2cb27d 44.76%,#22a784 48.95%,#1f9a8a 52.1%,#287d8e 57.34%,#3b518b 64.69%,#453781 69.58%,#472d7b 73.08%,#472c7b 76.92%,#414487 90.91%,#3d4e8a 100%)"></i><i style="background:linear-gradient(90deg,#2d6f8e 0%,#287d8e 12.94%,#21908d 23.08%,#1fa088 29.37%,#25ac82 33.57%,#37b878 39.86%,#39ba76 43.36%,#33b67a 46.5%,#23a984 50.7%,#1e9d89 53.15%,#23898d 56.64%,#365c8d 63.99%,#433c84 69.23%,#472f7d 72.38%,#472b7a 75.52%,#46317e 80.42%,#404588 91.61%,#3d4e8a 100%)"></i><i style="background:linear-gradient(90deg,#2d6f8e 0%,#287d8e 12.59%,#218f8d 22.38%,#1fa088 28.67%,#26ac82 32.52%,#3ebc74 39.16%,#45bf70 42.31%,#44bf71 45.1%,#39b977 48.25%,#23a983 52.45%,#1e9c89 54.9%,#24878e 58.39%,#37598c 65.38%,#443a83 70.28%,#472f7d 73.08%,#472b7a 76.22%,#46337f 81.47%,#404688 92.66%,#3d4e8a 100%)"></i><i style="background:linear-gradient(90deg,#2d6f8e 0%,#287d8e 12.59%,#21908d 22.03%,#1fa088 27.97%,#25ac82 31.47%,#39b977 36.01%,#4fc36a 40.91%,#54c568 43.71%,#50c46a 46.15%,#44bf70 48.95%,#29af80 53.15%,#20a386 55.24%,#1f958c 57.69%,#2c728e 62.94%,#3e4c8a 68.18%,#453681 71.68%,#472d7b 74.48%,#472c7b 77.62%,#414487 90.91%,#3d4e8a 100%)"></i><i style="background:linear-gradient(90deg,#2d708e 0%,#287d8e 12.24%,#218f8d 21.33%,#1fa088 27.27%,#26ac82 30.77%,#35b878 34.27%,#58c765 40.21%,#62ca60 43.01%,#62cb5f 45.45%,#5bc864 47.9%,#49c16e 50.7%,#28ae80 54.9%,#1fa287 56.99%,#1f948c 59.09%,#2d6f8e 64.34%,#3e4b8a 68.88%,#453681 72.03%,#472d7b 74.48%,#472c7b 77.62%,#414387 90.91%,#3d4e8a 100%)"></i><i style="background:linear-gradient(90deg,#2d708e 0%,#287d8e 12.24%,#21908c 21.33%,#1fa188 26.92%,#25ac82 30.07%,#34b779 33.22%,#60ca61 39.51%,#70cf57 42.66%,#74d055 45.1%,#6fce58 47.55%,#60ca60 50%,#3ebc74 53.85%,#27ad81 56.64%,#1fa287 58.39%,#20948c 60.49%,#2e6f8e 65.38%,#3e4b89 69.58%,#453681 72.38%,#472c7b 74.83%,#472b7a 77.62%,#414387 90.56%,#3d4e8a 100%)"></i><i style="background:linear-gradient(90deg,#2d708e 0%,#287d8e 11.89%,#218f8d 20.63%,#1fa088 26.22%,#25ab82 29.37%,#34b779 32.52%,#57c766 37.06%,#77d153 41.26%,#82d44c 43.71%,#85d44a 45.8%,#80d34d 47.9%,#71cf56 50.35%,#53c568 53.5%,#2fb47c 56.99%,#23a984 58.74%,#1e9d89 60.49%,#24888e 63.29%,#355d8d 68.18%,#433d84 71.68%,#47307d 73.78%,#472a7a 76.22%,#472e7c 80.07%,#414387 90.56%,#3d4d8a 100%)"></i><i style="background:linear-gradient(90deg,#2d708e 0%,#287e8e 11.89%,#21908d 20.63%,#1fa088 25.87%,#25ac82 29.02%,#34b779 31.82%,#50c46a 35.31%,#7fd34e 40.56%,#91d743 43.36%,#96d83f 45.45%,#94d840 47.55%,#8ad647 49.65%,#75d054 52.1%,#49c16d 55.94%,#2cb17e 58.74%,#21a585 60.49%,#1f988b 62.24%,#2a788e 66.08%,#3b518b 69.93%,#443983 72.38%,#472d7c 74.48%,#482a79 76.92%,#46327e 81.82%,#404588 91.96%,#3d4d8a 100%)"></i><i style="background:linear-gradient(90deg,#2d708e 0%,#287d8e 11.54%,#218f8d 19.93%,#1fa088 25.52%,#24ab82 28.32%,#32b67a 31.12%,#4cc26c 34.27%,#84d44b 39.86%,#9bd93c 42.66%,#a5db35 44.76%,#a8db34 46.85%,#a2da38 48.95%,#93d741 51.05%,#76d054 53.85%,#45bf70 57.69%,#2bb07f 60.14%,#20a486 61.89%,#1f968b 63.64%,#2c738e 67.48%,#3c4e8a 70.63%,#453882 72.73%,#472d7b 74.48%,#482979 76.57%,#472e7c 80.42%,#424186 89.86%,#3d4d8a 100%)"></i><i style="background:linear-gradient(90deg,#2d708e 0%,#277e8e 11.54%,#218f8d 19.93%,#1fa088 25.17%,#24ab82 27.97%,#31b57b 30.42%,#47c06f 33.22%,#78d152 37.76%,#9dd93b 41.26%,#afdd2f 43.71%,#b8de2a 45.8%,#b7de2a 47.9%,#aedc2f 50%,#9dd93b 52.1%,#7cd250 54.9%,#48c16e 58.74%,#2cb17e 61.19%,#22a784 62.59%,#1e9c89 63.99%,#24868e 66.43%,#32668e 69.23%,#404588 71.68%,#46337f 73.43%,#482a79 75.17%,#482978 77.62%,#424086 88.81%,#3d4d8a 99.65%,#3d4d8a 100%)"></i><i style="background:linear-gradient(90deg,#2d708e 0%,#277e8e 11.54%,#21908c 19.93%,#1fa187 25.17%,#26ac82 27.97%,#33b67a 30.42%,#4bc26c 33.22%,#7bd250 37.41%,#a7db34 41.26%,#bcdf27 43.71%,#c6e021 45.8%,#c7e020 47.9%,#c0df25 50%,#afdd2f 52.1%,#93d741 54.55%,#5dc962 58.39%,#38b977 61.19%,#26ad81 62.94%,#1fa287 64.34%,#20928c 66.08%,#2a768e 68.53%,#3a538b 70.98%,#443a83 72.73%,#472d7b 74.13%,#482777 75.87%,#482979 78.67%,#433e85 88.11%,#3d4c8a 98.6%,#3d4d8a 100%)"></i><i style="background:linear-gradient(90deg,#2d718e 0%,#277e8e 11.54%,#21918c 19.93%,#1fa088 24.83%,#25ab82 27.62%,#33b67a 30.07%,#4bc26c 32.87%,#74d054 36.36%,#addc30 40.91%,#c5e022 43.36%,#d1e11b 45.45%,#d6e21a 47.55%,#d1e11c 49.65%,#c3e023 51.75%,#a9dc33 54.2%,#78d152 57.69%,#41bd72 61.54%,#29af7f 63.64%,#20a486 65.03%,#1f988b 66.43%,#277f8e 68.53%,#32648e 70.28%,#404587 72.03%,#46317e 73.43%,#482878 74.83%,#482576 76.57%,#472f7d 81.47%,#414286 90.21%,#3d4d8a 100%)"></i><i style="background:linear-gradient(90deg,#2d718e 0%,#277e8e 11.19%,#21908c 19.58%,#1fa187 24.83%,#26ac81 27.62%,#34b779 30.07%,#4ec36b 32.87%,#7ad151 36.36%,#b6de2b 40.91%,#cee11d 43.36%,#dce319 45.45%,#e1e318 47.55%,#dde318 49.65%,#d1e11c 51.75%,#bcdf27 53.85%,#97d83f 56.64%,#59c765 60.84%,#34b779 63.64%,#24aa83 65.38%,#1e9d89 66.78%,#228d8d 68.18%,#2a788e 69.58%,#39558c 71.33%,#443982 72.73%,#472b7a 73.78%,#482576 74.83%,#482474 76.57%,#443b84 86.71%,#3e4a89 96.5%,#3d4d8a 100%)"></i><i style="background:linear-gradient(90deg,#2d718e 0%,#277e8e 11.19%,#218f8d 19.23%,#1fa088 24.48%,#25ac82 27.27%,#33b67a 29.72%,#49c16d 32.17%,#70cf57 35.31%,#b3dd2c 40.21%,#cce11e 42.31%,#dce319 44.06%,#e8e419 46.15%,#ebe51a 48.25%,#e5e419 50.35%,#d7e21a 52.45%,#c5e021 54.2%,#a0da39 56.99%,#61ca60 61.19%,#37b878 64.34%,#26ac82 66.08%,#1f9f88 67.48%,#218e8d 68.88%,#287c8e 69.93%,#33638d 70.98%,#404788 72.03%,#453781 72.73%,#472b7a 73.43%,#482374 74.48%,#482172 76.22%,#443882 85.31%,#3f4888 94.41%,#3d4d8a 100%)"></i><i style="background:linear-gradient(90deg,#2d718e 0%,#277e8e 11.19%,#21908d 19.23%,#1fa188 24.48%,#26ac81 27.27%,#34b779 29.72%,#4bc26c 32.17%,#73cf56 35.31%,#b8de29 40.21%,#d2e21b 42.31%,#e2e418 44.06%,#eee51b 46.15%,#f2e61d 48.25%,#ede51b 50.35%,#e0e318 52.45%,#cfe11c 54.2%,#b4dd2c 56.29%,#71cf56 60.84%,#41be72 64.34%,#28ae80 66.78%,#1fa187 68.18%,#20948c 69.23%,#277e8e 70.28%,#355f8d 71.33%,#404688 72.03%,#46327f 72.73%,#482676 73.43%,#481f70 74.48%,#481f71 76.22%,#453580 83.92%,#404588 92.66%,#3d4d8a 100%)"></i><i style="background:linear-gradient(90deg,#2d718e 0%,#277e8e 11.19%,#21908d 19.23%,#1fa187 24.48%,#26ac81 27.27%,#35b778 29.72%,#4dc36c 32.17%,#75d054 35.31%,#b7de2a 39.86%,#d2e21b 41.96%,#e4e418 43.71%,#f2e61d 45.8%,#f7e620 47.9%,#f4e61f 50%,#e9e41a 52.1%,#dae319 53.85%,#c6e021 55.59%,#8ed644 59.44%,#57c765 63.29%,#33b67a 66.43%,#21a685 68.53%,#1f998a 69.58%,#238a8d 70.28%,#2c738e 70.98%,#3a548c 71.68%,#453681 72.38%,#472b7a 72.73%,#482475 73.08%,#481c6e 73.78%,#481a6c 74.83%,#46337f 83.22%,#414487 91.61%,#3d4d8a 100%)"></i><i style="background:linear-gradient(90deg,#2d718e 0%,#277e8e 11.19%,#21908d 19.23%,#1fa088 24.13%,#25ab82 26.92%,#33b67a 29.37%,#4ac16d 31.82%,#6cce59 34.62%,#b4dd2c 39.51%,#d0e11c 41.61%,#e0e318 43.01%,#f1e51d 45.1%,#f9e722 47.2%,#fae722 49.3%,#f1e51d 51.4%,#e1e318 53.5%,#d2e21b 54.9%,#b7de2a 56.99%,#75d054 61.54%,#4cc26c 64.69%,#2fb47c 67.48%,#22a785 69.23%,#1e9d89 69.93%,#1f958b 70.28%,#238a8d 70.63%,#297b8e 70.98%,#39558c 71.68%,#424186 72.03%,#46307e 72.38%,#482475 72.73%,#481c6e 73.08%,#481769 73.78%,#48196b 75.17%,#472d7c 81.12%,#433f85 88.46%,#3d4c8a 98.95%,#3d4d8a 100%)"></i><i style="background:linear-gradient(90deg,#2d718e 0%,#277e8e 11.19%,#21908c 19.23%,#1fa088 24.13%,#25ab82 26.92%,#33b67a 29.37%,#4ac16d 31.82%,#6dce59 34.62%,#b5de2b 39.51%,#d1e11c 41.61%,#e1e318 43.01%,#f1e51d 45.1%,#fae722 47.2%,#fae723 49.3%,#f2e61d 51.4%,#e2e418 53.5%,#d4e21b 54.9%,#bddf26 56.64%,#76d153 61.54%,#4ec36b 64.69%,#32b57b 67.48%,#24aa83 69.23%,#1fa188 69.93%,#1f998a 70.28%,#228e8d 70.63%,#277e8e 70.98%,#2f6b8e 71.33%,#39558c 71.68%,#424086 72.03%,#472e7c 72.38%,#482172 72.73%,#481a6c 73.08%,#481567 73.78%,#481b6d 75.87%,#472d7c 81.12%,#433f85 88.46%,#3d4c8a 98.95%,#3d4d8a 100%)"></i><i style="background:linear-gradient(90deg,#2d718e 0%,#277e8e 11.19%,#21908d 19.23%,#1fa088 24.13%,#25ab82 26.92%,#33b67a 29.37%,#49c16d 31.82%,#6cce59 34.62%,#b4dd2c 39.51%,#d0e11c 41.61%,#dfe318 43.01%,#f0e51c 45.1%,#f9e621 47.2%,#f9e622 49.3%,#f1e51d 51.4%,#e1e318 53.5%,#d2e21b 54.9%,#b7de2a 56.99%,#74d055 61.54%,#4bc26d 64.69%,#2eb37c 67.48%,#21a685 69.23%,#1e9b8a 69.93%,#20938c 70.28%,#23888e 70.63%,#297a8e 70.98%,#39558c 71.68%,#414286 72.03%,#46317e 72.38%,#482576 72.73%,#481e6f 73.08%,#48186a 73.78%,#48196b 75.17%,#472e7c 81.47%,#424086 89.16%,#3d4d8a 100%)"></i><i style="background:linear-gradient(90deg,#2d718e 0%,#277e8e 11.19%,#21908d 19.23%,#1fa187 24.48%,#26ac81 27.27%,#35b779 29.72%,#4cc36c 32.17%,#74d054 35.31%,#b7de2a 39.86%,#d2e11b 41.96%,#e3e418 43.71%,#f1e51d 45.8%,#f6e620 47.9%,#f3e61e 50%,#e8e419 52.1%,#d9e219 53.85%,#c4e022 55.59%,#88d548 59.79%,#51c569 63.64%,#31b57b 66.43%,#22a884 68.18%,#1e9c89 69.23%,#21908c 69.93%,#287e8e 70.63%,#33638d 71.33%,#404588 72.03%,#453782 72.38%,#472d7b 72.73%,#482576 73.08%,#481e6f 73.78%,#481b6d 74.83%,#482676 78.67%,#453782 84.97%,#404788 93.71%,#3d4d8a 100%)"></i><i style="background:linear-gradient(90deg,#2d718e 0%,#277e8e 11.19%,#21908d 19.23%,#1fa188 24.48%,#26ac82 27.27%,#34b779 29.72%,#4bc26d 32.17%,#72cf56 35.31%,#b8de2a 40.21%,#d1e11c 42.31%,#e1e318 44.06%,#ede51b 46.15%,#f1e51d 48.25%,#ece51a 50.35%,#dee318 52.45%,#cde11d 54.2%,#b3dd2d 56.29%,#74d055 60.49%,#44bf71 63.99%,#29af80 66.43%,#20a387 67.83%,#1f978b 68.88%,#25848e 69.93%,#30698e 70.98%,#404788 72.03%,#46337f 72.73%,#482777 73.43%,#482071 74.48%,#482071 76.22%,#453681 84.27%,#404688 93.01%,#3d4d8a 100%)"></i><i style="background:linear-gradient(90deg,#2d718e 0%,#277e8e 11.19%,#218f8d 19.23%,#1fa088 24.48%,#25ab82 27.27%,#33b67a 29.72%,#49c16e 32.17%,#6fce58 35.31%,#b2dd2d 40.21%,#cbe11e 42.31%,#dbe319 44.06%,#e6e419 46.15%,#e9e419 48.25%,#e3e418 50.35%,#d5e21a 52.45%,#c3e023 54.2%,#9dd93b 56.99%,#5ec962 61.19%,#39b977 63.99%,#27ad81 65.73%,#1fa188 67.13%,#20918c 68.53%,#297a8e 69.93%,#38598c 71.33%,#433e85 72.38%,#472c7b 73.43%,#482475 74.48%,#482273 76.22%,#443983 85.66%,#3f4889 95.1%,#3d4d8a 100%)"></i><i style="background:linear-gradient(90deg,#2d718e 0%,#277e8e 11.54%,#21908d 19.58%,#1fa187 24.83%,#26ac81 27.62%,#34b779 30.07%,#4ec36b 32.87%,#79d152 36.36%,#b4dd2c 40.91%,#cde11d 43.36%,#dae319 45.45%,#dfe318 47.55%,#dbe319 49.65%,#cee11d 51.75%,#bade28 53.85%,#94d840 56.64%,#5bc864 60.49%,#36b878 63.29%,#25ab82 65.03%,#1f9f88 66.43%,#21908d 67.83%,#2a778e 69.58%,#3a548c 71.33%,#443983 72.73%,#472c7b 73.78%,#482575 75.17%,#482575 77.27%,#443b83 86.36%,#3e4a89 96.15%,#3d4d8a 100%)"></i><i style="background:linear-gradient(90deg,#2d708e 0%,#277e8e 11.54%,#21908c 19.93%,#1fa088 24.83%,#25ab82 27.62%,#32b67a 30.07%,#4bc26d 32.87%,#73d055 36.36%,#acdc31 40.91%,#c3e023 43.36%,#cfe11c 45.45%,#d3e21b 47.55%,#cee11d 49.65%,#c0df24 51.75%,#a6db35 54.2%,#6fcf57 58.04%,#3ebc74 61.54%,#28ae80 63.64%,#20a387 65.03%,#1f968b 66.43%,#287d8e 68.53%,#365d8d 70.63%,#433f85 72.38%,#46327e 73.43%,#482878 74.83%,#482676 76.57%,#47307d 81.47%,#414286 90.21%,#3d4d8a 100%)"></i><i style="background:linear-gradient(90deg,#2d708e 0%,#277e8e 11.54%,#21908d 19.93%,#1fa188 25.17%,#25ac82 27.97%,#33b67a 30.42%,#4ac26d 33.22%,#7ad151 37.41%,#a5db35 41.26%,#bade28 43.71%,#c3e022 45.8%,#c4e022 47.9%,#bcdf27 50%,#acdc31 52.1%,#90d743 54.55%,#5ac864 58.39%,#35b778 61.19%,#25ab82 62.94%,#1fa088 64.34%,#21908c 66.08%,#2b758e 68.53%,#3b528b 70.98%,#443a83 72.73%,#472d7c 74.13%,#482777 75.87%,#482979 78.67%,#433e85 88.11%,#3d4c8a 98.6%,#3d4d8a 100%)"></i><i style="background:linear-gradient(90deg,#2d708e 0%,#287e8e 11.54%,#218f8d 19.93%,#1fa088 25.17%,#24aa83 27.97%,#32b67a 30.77%,#4dc36c 33.92%,#89d548 39.51%,#a3db37 42.31%,#b2dd2d 44.76%,#b5de2b 46.85%,#b0dd2e 48.95%,#a3db37 51.05%,#8ad547 53.5%,#57c766 57.34%,#34b779 60.14%,#24ab82 61.89%,#1fa088 63.29%,#20918c 65.03%,#2d718e 68.18%,#3d4d8a 70.98%,#453681 73.08%,#472b7a 74.83%,#482878 76.92%,#46317e 81.82%,#414487 91.26%,#3d4d8a 100%)"></i><i style="background:linear-gradient(90deg,#2d708e 0%,#277e8e 11.89%,#21908d 20.28%,#1fa088 25.52%,#24aa83 28.32%,#32b57a 31.12%,#4bc26d 34.27%,#82d44c 39.86%,#98d93e 42.66%,#a2da37 44.76%,#a4db36 46.85%,#9eda3a 48.95%,#8fd744 51.05%,#72cf56 53.85%,#42be72 57.69%,#2bb17e 59.79%,#20a586 61.54%,#1f978b 63.29%,#2b758e 67.13%,#3d4d8a 70.63%,#453882 72.73%,#472d7c 74.48%,#482979 76.57%,#472e7c 80.42%,#414287 90.21%,#3d4d8a 100%)"></i><i style="background:linear-gradient(90deg,#2d708e 0%,#287e8e 11.89%,#21908d 20.63%,#1fa187 26.22%,#26ad81 29.37%,#35b778 32.17%,#55c667 36.01%,#7fd34e 40.91%,#8ed645 43.36%,#93d741 45.45%,#91d743 47.55%,#86d549 49.65%,#71cf56 52.1%,#46c06f 55.94%,#2db27d 58.39%,#21a685 60.14%,#1f998a 61.89%,#297a8e 65.73%,#3b508b 69.93%,#443983 72.38%,#472d7c 74.48%,#482a79 76.92%,#46327f 81.82%,#404588 91.96%,#3d4d8a 100%)"></i><i style="background:linear-gradient(90deg,#2d708e 0%,#287d8e 11.89%,#218f8d 20.63%,#1fa088 26.22%,#25ab82 29.37%,#34b679 32.52%,#58c765 37.41%,#74d054 41.26%,#7fd34e 43.71%,#82d34c 45.8%,#7cd250 47.9%,#6dce59 50.35%,#4cc26c 53.85%,#2db27d 56.99%,#22a785 58.74%,#1e9b8a 60.49%,#26808e 63.99%,#39558c 68.88%,#443a83 72.03%,#472e7c 74.13%,#472a7a 76.57%,#46317e 81.12%,#414487 91.26%,#3d4e8a 100%)"></i><i style="background:linear-gradient(90deg,#2d708e 0%,#287d8e 12.24%,#21908d 21.33%,#1fa088 26.92%,#25ab82 30.07%,#33b679 33.22%,#5dc962 39.51%,#6dce59 42.66%,#70cf57 45.1%,#6bcd5a 47.55%,#5dc963 50%,#3bbb75 53.85%,#27ad81 56.29%,#20a387 58.04%,#1f948c 60.14%,#2d708e 65.03%,#3d4d8a 69.23%,#453882 72.03%,#472d7c 74.48%,#472b7a 77.27%,#453882 84.27%,#3f4889 94.41%,#3d4e8a 100%)"></i><i style="background:linear-gradient(90deg,#2d708e 0%,#287d8e 12.24%,#218f8d 21.33%,#1fa088 27.27%,#25ab82 30.77%,#36b878 34.62%,#57c766 40.56%,#5fca61 43.36%,#5ec961 45.8%,#55c667 48.25%,#3dbc74 51.75%,#26ad81 54.9%,#1fa088 56.99%,#21908c 59.44%,#30698e 65.03%,#3f4889 69.23%,#463480 72.38%,#472c7b 74.83%,#472c7b 77.97%,#414387 90.56%,#3d4e8a 100%)"></i><i style="background:linear-gradient(90deg,#2d6f8e 0%,#287d8e 12.59%,#218f8d 22.03%,#1fa088 27.97%,#25ab82 31.47%,#37b977 36.01%,#4cc26c 40.91%,#51c469 43.71%,#4dc36b 46.15%,#41bd72 48.95%,#27ad81 53.15%,#1fa287 55.24%,#20938c 57.69%,#2e6e8e 63.29%,#3e4a89 68.18%,#453580 71.68%,#472c7b 74.48%,#472c7b 77.97%,#414487 90.91%,#3d4e8a 100%)"></i><i style="background:linear-gradient(90deg,#2d6f8e 0%,#287c8e 12.59%,#218f8d 22.38%,#1fa088 28.67%,#25ab82 32.52%,#3cbb75 39.16%,#43be71 42.66%,#40bd72 45.45%,#32b67a 48.95%,#21a685 52.8%,#1f998a 55.24%,#2a788e 60.49%,#3c4f8a 66.78%,#453681 70.98%,#472d7b 73.78%,#472c7b 77.27%,#414487 90.91%,#3d4e8a 100%)"></i><i style="background:linear-gradient(90deg,#2d6f8e 0%,#287c8e 12.94%,#218f8d 23.08%,#1fa188 29.72%,#26ad81 34.27%,#35b778 40.21%,#37b878 43.71%,#2eb37d 47.2%,#20a486 51.4%,#1f968b 54.2%,#2c738e 60.14%,#3d4d8a 66.08%,#453681 70.28%,#472d7b 73.43%,#472c7b 76.92%,#414487 90.91%,#3d4e8a 100%)"></i><i style="background:linear-gradient(90deg,#2e6f8e 0%,#287c8e 13.29%,#21908d 23.78%,#1fa188 30.77%,#28ae80 37.06%,#2eb37d 41.61%,#29af7f 45.45%,#20a387 49.65%,#1f948c 52.8%,#2e6f8e 59.44%,#3e4989 65.73%,#453580 69.93%,#472c7b 73.43%,#472c7b 77.27%,#414487 90.56%,#3d4e8a 100%)"></i><i style="background:linear-gradient(90deg,#2e6f8e 0%,#287c8e 13.64%,#21908c 24.83%,#1fa187 32.17%,#26ac82 38.81%,#25ab82 43.36%,#1fa287 47.55%,#1f948c 51.05%,#2d6f8e 58.04%,#3e4989 64.69%,#463480 69.23%,#472c7b 72.73%,#472c7b 76.57%,#414487 90.56%,#3c4e8a 100%)"></i><i style="background:linear-gradient(90deg,#2e6e8e 0%,#287c8e 13.99%,#20918c 25.87%,#1fa187 33.92%,#22a785 39.51%,#20a486 44.06%,#1f988b 48.25%,#287c8e 54.2%,#3b508b 62.24%,#453681 67.83%,#472c7b 71.68%,#472b7a 75.52%,#453782 83.22%,#3f4889 94.06%,#3c4e8a 100%)"></i><i style="background:linear-gradient(90deg,#2e6e8e 0%,#287c8e 14.34%,#20938c 27.97%,#1fa088 36.36%,#1fa187 41.26%,#1f998a 45.8%,#24868e 50.7%,#38598c 59.44%,#443a83 65.73%,#472d7c 69.93%,#482a79 73.78%,#46307e 79.37%,#404588 91.26%,#3c4e8a 100%)"></i><i style="background:linear-gradient(90deg,#2e6e8e 0%,#287c8e 14.69%,#1f9a8a 34.27%,#1e9c89 39.86%,#1f968b 44.41%,#25858e 49.3%,#38578c 58.39%,#443a83 64.69%,#472c7b 69.23%,#482979 73.43%,#46317e 79.37%,#404588 91.26%,#3c4e8a 100%)"></i><i style="background:linear-gradient(90deg,#2e6e8e 0%,#287b8e 15.03%,#1f978b 34.62%,#1f978b 39.86%,#218f8d 44.41%,#287c8e 49.65%,#3b528b 58.04%,#453882 63.99%,#472c7a 68.53%,#482978 73.08%,#46317e 79.37%,#404588 90.91%,#3c4e8a 100%)"></i><i style="background:linear-gradient(90deg,#2e6d8e 0%,#287b8e 15.73%,#20938c 33.92%,#20928c 39.51%,#23898d 44.41%,#2b758e 49.65%,#3d4e8a 57.69%,#453681 63.29%,#472b7a 67.83%,#482878 72.38%,#47307d 78.67%,#404588 90.56%,#3c4e8a 100%)"></i><i style="background:linear-gradient(90deg,#2e6d8e 0%,#287b8e 16.43%,#218f8d 33.22%,#218e8d 38.81%,#25858e 43.71%,#2c728e 48.95%,#3d4d8a 56.64%,#453581 62.24%,#472a79 66.78%,#482777 71.33%,#472f7c 77.62%,#414387 89.51%,#3c4f8a 100%)"></i><i style="background:linear-gradient(90deg,#2e6d8e 0%,#297b8e 17.13%,#228b8d 32.52%,#238a8d 38.46%,#26818e 43.36%,#2f6c8e 48.95%,#3f4989 56.29%,#46327f 61.89%,#482878 66.78%,#482777 71.68%,#46327e 79.02%,#404688 90.91%,#3c4f8a 100%)"></i><i style="background:linear-gradient(90deg,#2e6d8e 0%,#287b8e 18.18%,#23888e 32.17%,#24868e 38.11%,#287c8e 43.36%,#31678e 48.95%,#404588 55.94%,#46317e 61.19%,#482777 66.08%,#482677 71.33%,#46337f 79.37%,#404688 91.26%,#3c4f8a 100%)"></i><i style="background:linear-gradient(90deg,#2f6c8e 0%,#287b8e 19.23%,#25858e 31.82%,#26838e 37.76%,#2a788e 43.01%,#33638d 48.6%,#414487 55.24%,#47307d 60.49%,#482676 65.38%,#482676 70.63%,#46327f 78.67%,#404688 90.56%,#3c4f8a 100%)"></i><i style="background:linear-gradient(90deg,#2f6c8e 0%,#287c8e 21.33%,#26838e 32.17%,#277f8e 38.11%,#2c738e 43.36%,#365b8d 49.3%,#433d84 55.94%,#472c7b 60.84%,#482575 65.73%,#482677 71.33%,#424186 87.06%,#3c4f8a 99.3%,#3c4f8a 100%)"></i><i style="background:linear-gradient(90deg,#2f6c8e 0%,#27808e 30.42%,#287d8e 37.06%,#2c728e 42.31%,#365c8d 48.25%,#433d85 54.9%,#472c7b 59.79%,#482475 64.69%,#482576 70.28%,#453782 81.12%,#3f4989 92.66%,#3c4f8b 100%)"></i><i style="background:linear-gradient(90deg,#2f6c8e 0%,#287e8e 29.72%,#297a8e 36.36%,#2d6f8e 41.96%,#37598c 47.9%,#443b84 54.55%,#472b7a 59.44%,#482474 64.34%,#482576 69.93%,#424086 86.01%,#3c4e8a 98.25%,#3c4f8b 100%)"></i><i style="background:linear-gradient(90deg,#2f6b8e 0%,#287c8e 29.02%,#2a788e 36.01%,#2e6d8e 41.61%,#38578c 47.55%,#443a83 54.2%,#472a79 59.09%,#482374 63.99%,#482576 69.58%,#424086 85.66%,#3d4e8a 97.9%,#3c4f8b 100%)"></i><i style="background:linear-gradient(90deg,#2f6b8e 0%,#297a8e 28.32%,#2b768e 35.31%,#2f6a8e 41.26%,#3a548b 47.55%,#453882 54.2%,#482978 59.09%,#482374 63.99%,#482676 69.93%,#424086 85.31%,#3c4e8a 97.9%,#3c508b 100%)"></i><i style="background:linear-gradient(90deg,#2f6b8e 0%,#2a788e 27.62%,#2b748e 34.97%,#30698e 40.91%,#3a538b 47.2%,#453681 54.2%,#482878 59.09%,#482374 63.99%,#482777 70.28%,#424086 84.97%,#3c4e8a 97.55%,#3c508b 100%)"></i><i style="background:linear-gradient(90deg,#2f6b8e 0%,#2b768e 26.92%,#2c728e 34.62%,#31678e 40.56%,#3c508b 47.2%,#46327f 54.9%,#482676 59.79%,#482374 65.03%,#472a7a 72.03%,#424186 85.66%,#3c4f8a 98.6%,#3c508b 100%)"></i><i style="background:linear-gradient(90deg,#306a8e 0%,#2b758e 26.57%,#2d708e 34.27%,#32648e 40.56%,#3d4c8a 47.55%,#46317e 54.9%,#482676 59.79%,#482475 65.03%,#472c7b 72.38%,#414287 85.66%,#3c4f8b 98.95%,#3c508b 100%)"></i><i style="background:linear-gradient(90deg,#306a8e 0%,#2c738e 25.87%,#2e6f8e 33.92%,#33638d 40.21%,#3d4c8a 47.2%,#46307e 54.9%,#482676 60.14%,#482575 65.73%,#46307e 74.48%,#404588 87.76%,#3b508b 100%)"></i><i style="background:linear-gradient(90deg,#306a8e 0%,#2c728e 25.52%,#2e6e8e 33.57%,#34618d 40.21%,#3f4889 47.9%,#472f7d 55.24%,#482676 60.49%,#482676 66.08%,#463480 75.87%,#3f4888 89.51%,#3b508b 100%)"></i><i style="background:linear-gradient(90deg,#30698e 0%,#2d718e 24.83%,#2f6c8e 33.22%,#34608d 39.86%,#3f4889 47.55%,#47307d 54.9%,#482777 60.14%,#482777 66.08%,#453681 76.57%,#3f4989 90.56%,#3b518b 100%)"></i><i style="background:linear-gradient(90deg,#30698e 0%,#2d708e 24.48%,#2f6b8e 33.22%,#355e8d 40.21%,#414287 48.95%,#472f7d 55.59%,#482878 60.84%,#482979 67.13%,#414387 85.31%,#3b518b 99.65%,#3b518b 100%)"></i><i style="background:linear-gradient(90deg,#30698e 0%,#2e6f8e 24.13%,#306a8e 32.87%,#355d8d 39.86%,#414286 48.95%,#472f7d 55.59%,#482978 61.19%,#472b7a 67.83%,#404487 85.66%,#3b518b 100%)"></i><i style="background:linear-gradient(90deg,#30698e 0%,#2e6e8e 23.78%,#30688e 32.87%,#365b8d 40.21%,#424086 49.3%,#472f7d 55.94%,#482a79 61.54%,#472d7c 68.53%,#404588 86.01%,#3b518b 100%)"></i><i style="background:linear-gradient(90deg,#30688e 0%,#2e6d8e 23.43%,#31688e 32.52%,#375b8d 39.86%,#423f85 49.65%,#47307d 56.29%,#472b7a 62.24%,#46307e 69.93%,#3f4788 87.06%,#3b518b 100%)"></i><i style="background:linear-gradient(90deg,#30688e 0%,#2f6c8e 23.08%,#31668e 32.52%,#37598c 40.21%,#433d85 50.35%,#47307d 56.99%,#472c7b 62.94%,#46337f 71.33%,#3f4989 88.46%,#3b518b 100%)"></i><i style="background:linear-gradient(90deg,#31688e 0%,#2f6b8e 23.08%,#32658e 32.52%,#38578c 40.56%,#443b84 51.4%,#46307d 57.69%,#472e7c 63.99%,#453882 73.78%,#3e4b8a 90.91%,#3b528b 100%)"></i><i style="background:linear-gradient(90deg,#31688e 0%,#2f6a8e 22.73%,#32648e 32.52%,#39568c 40.91%,#443983 52.8%,#46307e 59.09%,#46317e 66.08%,#3e4a89 88.81%,#3b528b 100%)"></i><i style="background:linear-gradient(90deg,#31678e 0%,#306a8e 22.73%,#33638d 32.52%,#39558c 41.26%,#453782 54.2%,#46317e 60.84%,#463480 68.53%,#3e4b8a 89.86%,#3b528b 100%)"></i><i style="background:linear-gradient(90deg,#31678e 0%,#30698e 22.38%,#33638d 32.52%,#3a548b 41.61%,#443882 54.2%,#46337f 60.84%,#453681 68.88%,#3d4d8a 90.91%,#3b528b 100%)"></i><i style="background:linear-gradient(90deg,#31678e 0%,#30688e 22.38%,#33618d 32.87%,#3b528b 42.31%,#443a83 54.2%,#463480 61.19%,#453882 69.93%,#3d4e8a 92.31%,#3a528b 100%)"></i><i style="background:linear-gradient(90deg,#31678e 0%,#31688e 22.38%,#34618d 32.87%,#3b518b 42.66%,#443a83 54.55%,#453581 61.89%,#443b83 71.33%,#3c4f8a 93.01%,#3a538b 100%)"></i><i style="background:linear-gradient(90deg,#31668e 0%,#31678e 22.03%,#34608d 32.87%,#3c508b 43.36%,#443c84 54.55%,#453782 61.89%,#433c84 71.68%,#3c4f8b 93.71%,#3a538b 100%)"></i><i style="background:linear-gradient(90deg,#31668e 0%,#31678e 22.03%,#345f8d 33.22%,#3d4e8a 44.41%,#433c84 55.24%,#443882 62.94%,#424086 74.13%,#3b518b 95.1%,#3a538b 100%)"></i><i style="background:linear-gradient(90deg,#31668e 0%,#31668e 22.03%,#355e8d 33.57%,#3e4b89 46.15%,#433d84 55.94%,#443a83 63.99%,#414487 77.62%,#3b528b 97.9%,#3a538b 100%)"></i><i style="background:linear-gradient(90deg,#32668e 0%,#32668e 22.03%,#355e8d 33.57%,#3f4889 48.25%,#433d84 57.34%,#433c84 66.08%,#3b528b 97.55%,#3a538b 100%)"></i><i style="background:linear-gradient(90deg,#32668e 0%,#32658e 22.03%,#355d8d 33.92%,#424086 55.24%,#433d84 63.99%,#404688 79.02%,#3a548b 100%)"></i><i style="background:linear-gradient(90deg,#32658e 0%,#32658e 22.03%,#365d8d 34.27%,#424186 55.24%,#433e85 64.34%,#3f4989 81.47%,#3a548b 100%)"></i><i style="background:linear-gradient(90deg,#32658e 0%,#32648e 22.38%,#365c8d 34.97%,#414287 55.24%,#423f86 64.34%,#3e4a89 82.17%,#3a548b 100%)"></i><i style="background:linear-gradient(90deg,#32658e 0%,#32648e 22.38%,#375b8d 35.31%,#414387 55.24%,#424186 64.69%,#3a548c 100%)"></i><i style="background:linear-gradient(90deg,#32658e 0%,#33638d 22.38%,#375a8d 35.66%,#404487 55.24%,#414287 65.38%,#3a548c 100%)"></i><i style="background:linear-gradient(90deg,#32658e 0%,#33638d 22.38%,#375a8c 36.01%,#404588 55.59%,#414387 66.08%,#3a558c 100%)"></i><i style="background:linear-gradient(90deg,#32648e 0%,#33638d 22.73%,#37598c 36.71%,#404688 55.59%,#404587 66.43%,#39558c 100%)"></i><i style="background:linear-gradient(90deg,#32648e 0%,#33628d 22.73%,#38598c 37.41%,#3f4788 55.94%,#404688 67.13%,#39558c 100%)"></i><i style="background:linear-gradient(90deg,#32648e 0%,#33628d 23.08%,#38588c 38.11%,#3f4889 55.94%,#3f4788 67.83%,#39558c 100%)"></i><i style="background:linear-gradient(90deg,#32648e 0%,#33628d 23.08%,#38578c 38.81%,#3f4989 56.29%,#3f4889 68.53%,#39558c 100%)"></i><i style="background:linear-gradient(90deg,#32648d 0%,#34618d 23.43%,#39578c 39.86%,#3e4989 56.99%,#3f4989 69.93%,#39558c 100%)"></i><i style="background:linear-gradient(90deg,#33638d 0%,#34618d 23.78%,#39568c 41.26%,#3e4a89 57.69%,#3e4a89 71.33%,#39568c 100%)"></i><i style="background:linear-gradient(90deg,#33638d 0%,#34618d 23.78%,#39558c 42.31%,#3e4b89 58.39%,#3d4c8a 73.08%,#39568c 100%)"></i><i style="background:linear-gradient(90deg,#33638d 0%,#34608d 24.13%,#3a548b 44.06%,#3e4b8a 59.44%,#3d4d8a 75.52%,#39568c 100%)"></i><i style="background:linear-gradient(90deg,#33638d 0%,#34608d 24.48%,#3b528b 47.2%,#3e4c8a 61.89%,#3c508b 81.82%,#39568c 100%)"></i><i style="background:linear-gradient(90deg,#33638d 0%,#34608d 24.83%,#3d4d8a 58.74%,#3c4e8a 75.52%,#39568c 100%)"></i><i style="background:linear-gradient(90deg,#33638d 0%,#345f8d 25.17%,#3d4e8a 58.74%,#3c4f8b 76.22%,#39578c 100%)"></i><i style="background:linear-gradient(90deg,#33638d 0%,#355f8d 25.52%,#3c4e8a 59.09%,#3c508b 77.62%,#39578c 100%)"></i><i style="background:linear-gradient(90deg,#33628d 0%,#355f8d 25.87%,#3c4f8a 59.09%,#3b518b 78.32%,#38578c 100%)"></i><i style="background:linear-gradient(90deg,#33628d 0%,#355f8d 26.22%,#3c4f8b 59.44%,#3b528b 79.72%,#38578c 100%)"></i><i style="background:linear-gradient(90deg,#33628d 0%,#355e8d 26.57%,#3c508b 59.79%,#3a528b 81.47%,#38578c 100%)"></i><i style="background:linear-gradient(90deg,#33628d 0%,#355e8d 26.92%,#3b518b 59.79%,#3a538b 82.17%,#38578c 100%)"></i><i style="background:linear-gradient(90deg,#33628d 0%,#355e8d 27.27%,#3b518b 60.14%,#3a548b 83.92%,#38578c 100%)"></i><i style="background:linear-gradient(90deg,#33628d 0%,#355e8d 27.97%,#3b528b 60.49%,#39558c 86.01%,#38588c 100%)"></i><i style="background:linear-gradient(90deg,#33628d 0%,#355e8d 28.32%,#3b528b 60.84%,#39558c 88.46%,#38588c 100%)"></i><i style="background:linear-gradient(90deg,#33628d 0%,#355d8d 29.02%,#3a528b 61.19%,#39568c 91.26%,#38588c 100%)"></i><i style="background:linear-gradient(90deg,#33628d 0%,#355d8d 29.37%,#3a538b 61.54%,#38578c 94.76%,#38588c 100%)"></i><i style="background:linear-gradient(90deg,#34618d 0%,#365d8d 30.07%,#3a538b 61.89%,#38588c 99.65%,#38588c 100%)"></i><i style="background:linear-gradient(90deg,#34618d 0%,#365d8d 30.77%,#3a548b 62.59%,#38588c 100%)"></i><i style="background:linear-gradient(90deg,#34618d 0%,#365d8d 31.47%,#3a548c 62.94%,#38598c 100%)"></i><i style="background:linear-gradient(90deg,#34618d 0%,#365d8d 31.82%,#3a548c 63.64%,#38598c 100%)"></i><i style="background:linear-gradient(90deg,#34618d 0%,#365c8d 32.87%,#39558c 64.34%,#38598c 100%)"></i><i style="background:linear-gradient(90deg,#34618d 0%,#365c8d 33.57%,#39558c 65.03%,#37598c 100%)"></i><i style="background:linear-gradient(90deg,#34618d 0%,#365c8d 34.27%,#39558c 65.73%,#37598c 100%)"></i><i style="background:linear-gradient(90deg,#34618d 0%,#365c8d 35.31%,#39568c 66.43%,#37598c 100%)"></i><i style="background:linear-gradient(90deg,#34618d 0%,#365c8d 36.01%,#39568c 67.48%,#37598c 100%)"></i><i style="background:linear-gradient(90deg,#34618d 0%,#365b8d 37.06%,#39568c 68.53%,#37598c 100%)"></i><i style="background:linear-gradient(90deg,#34618d 0%,#365b8d 38.46%,#39578c 69.93%,#375a8c 100%)"></i><i style="background:linear-gradient(90deg,#34618d 0%,#365b8d 39.51%,#38578c 71.33%,#375a8c 100%)"></i><i style="background:linear-gradient(90deg,#34608d 0%,#375b8d 40.91%,#38578c 73.08%,#375a8c 100%)"></i><i style="background:linear-gradient(90deg,#34608d 0%,#375b8d 42.66%,#38588c 75.17%,#375a8c 100%)"></i><i style="background:linear-gradient(90deg,#34608d 0%,#375a8c 44.76%,#38588c 77.97%,#375a8c 100%)"></i><i style="background:linear-gradient(90deg,#34608d 0%,#375a8c 47.55%,#38588c 81.82%,#375a8c 100%)"></i><i style="background:linear-gradient(90deg,#34608d 0%,#38588c 73.08%,#375a8c 100%)"></i><i style="background:linear-gradient(90deg,#34608d 0%,#38588c 73.43%,#375a8c 100%)"></i><i style="background:linear-gradient(90deg,#34608d 0%,#38598c 74.13%,#375a8d 100%)"></i><i style="background:linear-gradient(90deg,#34608d 0%,#38598c 74.83%,#375a8d 100%)"></i><i style="background:linear-gradient(90deg,#34608d 0%,#37598c 75.17%,#375b8d 100%)"></i><b style="left:0;top:0;width:1px;height:203px;opacity:0.80"></b><b style="left:142px;top:0;width:1px;height:203px;opacity:0.10"></b><b style="left:0;top:202px;width:143px;height:1px;opacity:0.20"></b></div>
<div class="hm" style="left:318px;top:339px;width:144px;height:205px"><i style="background:linear-gradient(90deg,#20928c 0%,#1f958c 62.85%,#20928c 100%)"></i><i style="background:linear-gradient(90deg,#20928c 0%,#1f958c 61.81%,#20928c 100%)"></i><i style="background:linear-gradient(90deg,#20928c 0%,#1f958b 61.11%,#20928c 100%)"></i><i style="background:linear-gradient(90deg,#20928c 0%,#1f958b 60.07%,#20928c 100%)"></i><i style="background:linear-gradient(90deg,#20928c 0%,#1f958b 59.38%,#20928c 100%)"></i><i style="background:linear-gradient(90deg,#20928c 0%,#1f968b 58.68%,#20928c 100%)"></i><i style="background:linear-gradient(90deg,#20928c 0%,#1f968b 57.99%,#20928c 100%)"></i><i style="background:linear-gradient(90deg,#20928c 0%,#1f968b 57.29%,#20928c 100%)"></i><i style="background:linear-gradient(90deg,#20928c 0%,#1f968b 56.94%,#20928c 100%)"></i><i style="background:linear-gradient(90deg,#20928c 0%,#1f978b 56.25%,#20928c 100%)"></i><i style="background:linear-gradient(90deg,#20928c 0%,#1f978b 55.56%,#20928c 100%)"></i><i style="background:linear-gradient(90deg,#20938c 0%,#1f978b 54.86%,#20928c 100%)"></i><i style="background:linear-gradient(90deg,#20938c 0%,#1f988b 54.51%,#20928c 100%)"></i><i style="background:linear-gradient(90deg,#20938c 0%,#1f988b 53.82%,#20928c 100%)"></i><i style="background:linear-gradient(90deg,#20938c 0%,#1f988b 53.47%,#20928c 100%)"></i><i style="background:linear-gradient(90deg,#20938c 0%,#1f998a 53.12%,#20928c 100%)"></i><i style="background:linear-gradient(90deg,#20938c 0%,#1f998a 52.43%,#20928c 100%)"></i><i style="background:linear-gradient(90deg,#20938c 0%,#1f998a 52.08%,#20938c 100%)"></i><i style="background:linear-gradient(90deg,#20938c 0%,#1f9a8a 51.74%,#20938c 100%)"></i><i style="background:linear-gradient(90deg,#20938c 0%,#1f9a8a 51.39%,#20938c 100%)"></i><i style="background:linear-gradient(90deg,#20938c 0%,#1e9b8a 51.04%,#20938c 100%)"></i><i style="background:linear-gradient(90deg,#20938c 0%,#1e9b8a 50.69%,#20938c 100%)"></i><i style="background:linear-gradient(90deg,#20938c 0%,#1e9c8a 50.35%,#20938c 100%)"></i><i style="background:linear-gradient(90deg,#20938c 0%,#1e9c89 50%,#20938c 100%)"></i><i style="background:linear-gradient(90deg,#20938c 0%,#1e9d89 49.65%,#20938c 100%)"></i><i style="background:linear-gradient(90deg,#20938c 0%,#1e9d89 49.65%,#20938c 100%)"></i><i style="background:linear-gradient(90deg,#20938c 0%,#1f9e89 49.31%,#20938c 100%)"></i><i style="background:linear-gradient(90deg,#20938c 0%,#1f9e89 48.96%,#20938c 100%)"></i><i style="background:linear-gradient(90deg,#20938c 0%,#1f9f88 48.61%,#1f988b 77.43%,#20938c 100%)"></i><i style="background:linear-gradient(90deg,#20948c 0%,#1fa088 48.61%,#1f998a 75%,#20938c 100%)"></i><i style="background:linear-gradient(90deg,#20948c 0%,#1fa088 48.26%,#1f9a8a 71.88%,#20938c 100%)"></i><i style="background:linear-gradient(90deg,#20948c 0%,#1fa187 48.26%,#1e9b8a 70.49%,#20938c 100%)"></i><i style="background:linear-gradient(90deg,#20948c 0%,#1f9f88 33.68%,#1fa287 51.74%,#20938c 98.61%,#20938c 100%)"></i><i style="background:linear-gradient(90deg,#20948c 0%,#1f9e89 30.9%,#20a387 49.65%,#1e9b8a 72.57%,#20938c 100%)"></i><i style="background:linear-gradient(90deg,#20948c 0%,#1f9e89 29.17%,#20a486 48.26%,#1f9e89 67.01%,#20948c 96.18%,#20938c 100%)"></i><i style="background:linear-gradient(90deg,#20948c 0%,#1f9e89 27.78%,#20a586 47.57%,#1fa088 64.58%,#1f958c 93.75%,#20938c 100%)"></i><i style="background:linear-gradient(90deg,#20948c 0%,#1f9e89 26.74%,#21a585 46.88%,#1fa187 62.85%,#1f958b 92.01%,#20938c 100%)"></i><i style="background:linear-gradient(90deg,#20948c 0%,#1f9d89 25.69%,#21a685 46.18%,#20a387 61.11%,#1f958b 90.62%,#20938c 100%)"></i><i style="background:linear-gradient(90deg,#20948c 0%,#1f9e89 25%,#22a784 45.83%,#20a486 60.07%,#1f978b 87.15%,#20938c 100%)"></i><i style="background:linear-gradient(90deg,#20948c 0%,#1f9d89 23.96%,#23a884 45.49%,#21a685 59.03%,#1f998a 81.94%,#20948c 100%)"></i><i style="background:linear-gradient(90deg,#20948c 0%,#1f9d89 23.26%,#24aa83 45.14%,#22a784 57.99%,#1e9b8a 78.82%,#20948c 100%)"></i><i style="background:linear-gradient(90deg,#20948c 0%,#1f9d89 22.57%,#25ab82 44.79%,#23a983 56.94%,#1e9c89 76.39%,#20948c 99.65%,#20948c 100%)"></i><i style="background:linear-gradient(90deg,#1f948c 0%,#1f9d89 21.88%,#24aa83 40.28%,#26ac82 52.08%,#1fa088 70.83%,#1f968b 91.67%,#20948c 100%)"></i><i style="background:linear-gradient(90deg,#1f948c 0%,#1f9d89 21.18%,#23a983 37.15%,#28ae80 49.31%,#22a884 62.15%,#1e9c8a 78.47%,#20948c 100%)"></i><i style="background:linear-gradient(90deg,#1f948c 0%,#1f9e89 20.83%,#23a983 35.42%,#29af7f 47.92%,#25ab82 59.38%,#1f9f88 74.31%,#1f958b 94.44%,#20948c 100%)"></i><i style="background:linear-gradient(90deg,#1f948c 0%,#1f9d89 20.14%,#23a983 34.03%,#2bb17e 46.53%,#28ae80 56.25%,#1fa187 71.53%,#1f968b 90.28%,#20948c 100%)"></i><i style="background:linear-gradient(90deg,#1f958c 0%,#1f9e89 19.79%,#23a983 32.99%,#2db27d 45.83%,#2bb17e 54.51%,#20a387 70.83%,#1f978b 88.89%,#20948c 100%)"></i><i style="background:linear-gradient(90deg,#1f958c 0%,#1f9e89 19.44%,#23a983 31.94%,#2fb37c 45.14%,#2eb37c 53.12%,#20a486 70.14%,#1f988b 87.5%,#20948c 100%)"></i><i style="background:linear-gradient(90deg,#1f958c 0%,#1f9d89 18.75%,#23a984 30.56%,#31b57b 44.44%,#32b57b 51.74%,#25ab82 63.89%,#1fa088 74.65%,#1f968b 92.01%,#20948c 100%)"></i><i style="background:linear-gradient(90deg,#1f958c 0%,#1f9e89 18.4%,#23a984 29.86%,#33b679 44.1%,#35b779 51.04%,#29af80 61.81%,#20a486 71.88%,#1f988b 87.85%,#20948c 100%)"></i><i style="background:linear-gradient(90deg,#1f958c 0%,#1f9e89 18.06%,#23a984 29.17%,#36b878 43.75%,#38b977 50.35%,#30b47c 58.33%,#22a784 69.1%,#1e9c89 81.25%,#20948c 100%)"></i><i style="background:linear-gradient(90deg,#1f958b 0%,#1f9e89 17.71%,#23a984 28.47%,#32b67a 38.89%,#3cbb75 46.53%,#3bba76 52.43%,#29af80 63.89%,#20a486 72.57%,#1f988b 87.5%,#20948c 100%)"></i><i style="background:linear-gradient(90deg,#1f958b 0%,#1f9e89 17.36%,#23a984 27.78%,#30b47b 36.46%,#3fbc73 45.14%,#40bd73 50.69%,#36b878 57.64%,#24ab82 67.71%,#1fa088 77.08%,#1f968b 93.06%,#20948c 100%)"></i><i style="background:linear-gradient(90deg,#1f958b 0%,#1f9e89 17.01%,#23a984 27.08%,#2fb47c 35.07%,#42be71 44.44%,#45bf70 49.65%,#3dbc74 55.56%,#26ac82 67.36%,#1fa287 75.69%,#1f978b 90.62%,#20948c 100%)"></i><i style="background:linear-gradient(90deg,#1f958b 0%,#1f9e89 16.67%,#23a884 26.39%,#2eb37c 33.68%,#46c06f 44.1%,#4ac16d 48.96%,#44bf70 54.17%,#27ae81 67.01%,#20a386 74.65%,#1f988b 88.89%,#20948c 100%)"></i><i style="background:linear-gradient(90deg,#1f958b 0%,#1f9e89 16.32%,#23a984 26.04%,#2fb37c 32.99%,#4ac26d 43.75%,#4fc46a 48.61%,#4ac26d 53.47%,#2eb37c 64.24%,#23a984 70.83%,#1f9e89 80.21%,#1f958b 96.53%,#20948c 100%)"></i><i style="background:linear-gradient(90deg,#1f958b 0%,#1f9e89 15.97%,#23a884 25.35%,#2eb37c 31.94%,#4ec36b 43.06%,#54c667 47.57%,#52c569 52.08%,#43be71 57.99%,#2bb17e 66.32%,#21a685 72.92%,#1e9b8a 84.38%,#20948c 100%)"></i><i style="background:linear-gradient(90deg,#1f958b 0%,#1f9e89 15.97%,#23a984 25%,#2eb37d 31.25%,#52c568 42.71%,#5ac864 47.22%,#59c765 51.39%,#4cc26c 56.6%,#2db27d 65.97%,#22a884 72.22%,#1e9d89 81.6%,#1f958c 97.92%,#20948c 100%)"></i><i style="background:linear-gradient(90deg,#1f958b 0%,#1f9e89 15.62%,#23a984 24.65%,#2eb37d 30.56%,#47c06f 37.85%,#5cc863 44.1%,#61ca60 48.26%,#5ec962 52.08%,#4ec36b 57.29%,#30b47b 65.62%,#24aa83 71.53%,#1f9f88 79.51%,#1f968b 94.1%,#20948c 100%)"></i><i style="background:linear-gradient(90deg,#1f958b 0%,#1f9e89 15.28%,#22a884 23.96%,#2db27d 29.51%,#41bd72 35.42%,#60ca61 43.4%,#68cc5c 47.22%,#66cc5d 51.04%,#5bc863 55.21%,#32b57a 65.62%,#25ab82 71.18%,#1fa188 78.47%,#1f978b 92.01%,#20948c 100%)"></i><i style="background:linear-gradient(90deg,#1f958b 0%,#1f9e89 15.28%,#22a884 23.61%,#2db27d 29.17%,#41bd72 34.72%,#65cc5d 43.06%,#6fce58 46.88%,#6ece58 50.35%,#65cb5e 54.17%,#3bbb75 63.54%,#2ab07f 68.75%,#21a685 74.65%,#1f9a8a 85.76%,#20948c 100%)"></i><i style="background:linear-gradient(90deg,#1f958b 0%,#1f9e89 14.93%,#22a884 23.26%,#2cb27e 28.47%,#3fbd73 33.68%,#6bcd5a 42.71%,#76d054 46.53%,#77d153 50%,#6ece58 53.47%,#54c667 59.03%,#37b878 65.28%,#28ae80 70.14%,#20a486 76.04%,#1f998a 87.85%,#20948c 100%)"></i><i style="background:linear-gradient(90deg,#1f958b 0%,#1f9e89 14.93%,#23a984 23.26%,#2eb27d 28.47%,#41bd72 33.33%,#70cf57 42.36%,#7cd24f 45.83%,#80d34e 48.96%,#7ad251 52.08%,#69cd5c 56.25%,#3cbb75 64.58%,#2bb07f 69.44%,#21a685 75%,#1e9b8a 85.42%,#20948c 100%)"></i><i style="background:linear-gradient(90deg,#1f958b 0%,#1f9e89 14.58%,#23a884 22.92%,#2db27d 27.78%,#3ebc74 32.29%,#66cc5d 39.24%,#7ed34f 43.75%,#87d549 46.88%,#87d549 50%,#7fd34e 53.12%,#67cc5d 57.64%,#3ebc73 64.58%,#2db27d 69.1%,#22a884 74.31%,#1e9d89 82.99%,#1f948c 98.26%,#20948c 100%)"></i><i style="background:linear-gradient(90deg,#1f958b 0%,#1f9e89 14.58%,#23a884 22.57%,#2db27d 27.43%,#3fbc73 31.94%,#60ca60 37.5%,#82d44c 43.06%,#8ed644 46.18%,#91d742 48.96%,#8cd646 51.74%,#7cd250 55.21%,#45bf70 63.89%,#30b47b 68.4%,#24ab82 72.92%,#1fa188 79.51%,#1f978b 92.36%,#20948c 100%)"></i><i style="background:linear-gradient(90deg,#1f958b 0%,#1f9d89 14.24%,#22a884 22.22%,#2db27d 27.08%,#3ebc74 31.25%,#5bc863 36.11%,#88d548 42.71%,#96d83f 45.83%,#9ad93c 48.61%,#96d83f 51.39%,#87d549 54.51%,#52c568 62.15%,#38b977 66.67%,#29af7f 70.83%,#21a685 76.04%,#1f9a8a 86.81%,#20948c 100%)"></i><i style="background:linear-gradient(90deg,#1f958b 0%,#1f9e89 14.24%,#22a884 21.88%,#2cb27d 26.74%,#3ebc74 30.9%,#5bc864 35.42%,#8ed644 42.36%,#9eda3a 45.49%,#a4db36 48.26%,#a0da39 51.04%,#91d742 54.17%,#6bcd5a 59.38%,#46c06f 64.58%,#31b57b 68.75%,#25ab82 73.26%,#1fa088 79.86%,#1f978b 92.36%,#20948c 100%)"></i><i style="background:linear-gradient(90deg,#1f958b 0%,#1e9d89 13.89%,#22a884 21.88%,#2cb17e 26.39%,#3cbb75 30.21%,#57c766 34.38%,#91d742 41.67%,#a4db36 44.79%,#addc31 47.57%,#acdc31 50%,#a1da38 52.78%,#8ad547 56.25%,#4fc46a 63.54%,#38b977 67.36%,#2ab07f 71.18%,#21a685 76.04%,#1f9a8a 86.11%,#20948c 100%)"></i><i style="background:linear-gradient(90deg,#1f958b 0%,#1f9d89 13.89%,#22a884 21.53%,#2cb17e 26.04%,#3cbb75 29.86%,#55c667 33.68%,#93d741 40.97%,#a9dc33 44.1%,#b4dd2c 46.53%,#b6de2a 48.96%,#b1dd2e 51.39%,#a1da38 54.17%,#7bd250 58.68%,#52c569 63.54%,#3aba76 67.36%,#2ab07f 71.18%,#21a685 76.04%,#1e9b8a 85.76%,#20948c 100%)"></i><i style="background:linear-gradient(90deg,#1f958b 0%,#1f9d89 13.89%,#22a884 21.53%,#2cb27e 26.04%,#3dbc74 29.86%,#58c765 33.68%,#91d743 39.93%,#addc30 43.4%,#bbde28 45.83%,#c0df24 48.26%,#bcdf27 50.69%,#b0dd2e 53.12%,#98d83e 56.25%,#5ac864 62.85%,#3fbc73 66.67%,#2db27d 70.49%,#23a884 75%,#1f9d89 82.64%,#1f958b 96.53%,#20948c 100%)"></i><i style="background:linear-gradient(90deg,#1f958b 0%,#1f9d89 13.89%,#23a884 21.53%,#2db27d 26.04%,#3dbb74 29.51%,#55c667 32.99%,#7fd34e 37.5%,#addc30 42.36%,#c0df24 45.14%,#c8e020 47.57%,#c7e020 50%,#bddf26 52.43%,#a8db34 55.21%,#6acd5b 61.46%,#49c16d 65.28%,#35b779 68.75%,#27ad81 72.57%,#20a486 77.78%,#1f998a 88.19%,#20948c 100%)"></i><i style="background:linear-gradient(90deg,#1f958c 0%,#1e9d89 13.54%,#22a884 21.18%,#2bb17e 25.35%,#3aba76 28.82%,#51c569 32.29%,#75d054 36.11%,#b2dd2d 42.01%,#c7e021 44.79%,#d0e11c 47.22%,#d0e11c 49.65%,#c7e020 52.08%,#b2dd2d 54.86%,#74d055 60.76%,#50c469 64.58%,#39b976 68.06%,#2ab07f 71.53%,#21a785 76.04%,#1e9b8a 84.72%,#20948c 100%)"></i><i style="background:linear-gradient(90deg,#1f958c 0%,#1e9d89 13.54%,#22a884 21.18%,#2bb17e 25.35%,#3bba75 28.82%,#53c568 32.29%,#78d152 36.11%,#b9de29 42.01%,#cce11e 44.44%,#d8e219 46.88%,#d9e219 48.96%,#d4e21b 51.04%,#c5e022 53.47%,#a6db35 56.6%,#65cc5d 62.5%,#47c06f 65.97%,#33b67a 69.44%,#26ac81 73.26%,#20a387 78.47%,#1f988b 89.24%,#20948c 100%)"></i><i style="background:linear-gradient(90deg,#1f958c 0%,#1e9d89 13.54%,#22a884 21.18%,#2cb17e 25.35%,#3cbb75 28.82%,#52c569 31.94%,#74d055 35.42%,#b8de29 41.32%,#cee11d 43.75%,#dde318 46.18%,#e1e318 48.26%,#dee318 50.35%,#d1e11c 52.78%,#bbde28 55.21%,#76d153 61.11%,#54c568 64.58%,#3cbb75 67.71%,#2cb17e 71.18%,#22a884 75.35%,#1e9d89 82.64%,#1f958b 95.83%,#20948c 100%)"></i><i style="background:linear-gradient(90deg,#1f958c 0%,#1e9d89 13.54%,#22a884 21.18%,#2cb17e 25.35%,#3cbb75 28.82%,#53c568 31.94%,#77d153 35.42%,#bddf26 41.32%,#d2e21b 43.4%,#e2e418 45.83%,#e8e419 47.92%,#e6e419 50%,#dce319 52.08%,#cbe11e 54.17%,#acdc31 56.94%,#6dce59 62.15%,#4fc36a 65.28%,#39b977 68.4%,#2ab07f 71.88%,#21a685 76.39%,#1f9a8a 85.76%,#20948c 100%)"></i><i style="background:linear-gradient(90deg,#1f948c 0%,#1e9d89 13.54%,#22a785 20.83%,#2bb07e 25%,#3aba76 28.47%,#51c569 31.6%,#71cf56 34.72%,#bade28 40.62%,#d1e11c 42.71%,#e2e418 44.79%,#ece51a 46.88%,#ede51b 48.96%,#e7e419 51.04%,#d9e219 53.12%,#c8e020 54.86%,#9eda3a 58.33%,#6bcd5a 62.5%,#4cc36c 65.62%,#37b878 68.75%,#29af80 72.22%,#21a585 76.74%,#1f9a8a 86.11%,#20938c 100%)"></i><i style="background:linear-gradient(90deg,#1f948c 0%,#1e9c89 13.54%,#22a785 20.83%,#2bb07f 25%,#3bba76 28.47%,#52c569 31.6%,#73d056 34.72%,#bade28 40.28%,#d2e21b 42.36%,#e2e418 44.1%,#eee51b 46.18%,#f3e61e 48.26%,#efe51c 50.35%,#e3e418 52.43%,#d4e21b 54.17%,#bcdf27 56.25%,#70cf57 62.15%,#50c46a 65.28%,#39b976 68.4%,#2ab07f 71.88%,#21a685 76.04%,#1e9b8a 84.72%,#20938c 100%)"></i><i style="background:linear-gradient(90deg,#20948c 0%,#1e9c89 13.54%,#22a784 21.18%,#2cb17e 25.35%,#3bba76 28.47%,#52c568 31.6%,#74d055 34.72%,#bddf26 40.28%,#d2e21b 42.01%,#e3e418 43.75%,#f1e51d 45.83%,#f7e620 47.92%,#f4e61e 50%,#e9e41a 52.08%,#dae319 53.82%,#c7e020 55.56%,#7dd24f 61.11%,#5ac864 64.24%,#3fbd73 67.36%,#2eb37c 70.49%,#24aa83 74.31%,#1fa088 80.21%,#1f968b 91.67%,#20938c 100%)"></i><i style="background:linear-gradient(90deg,#20948c 0%,#1e9c89 13.54%,#22a784 21.18%,#2bb17e 25.35%,#3aba76 28.47%,#52c568 31.6%,#74d055 34.72%,#bfdf25 40.28%,#d4e21a 42.01%,#e5e419 43.75%,#f4e61e 45.83%,#f9e722 47.92%,#f7e620 50%,#ece51a 52.08%,#dce319 53.82%,#c9e020 55.56%,#7dd24f 61.11%,#59c764 64.24%,#41be72 67.01%,#2fb47c 70.14%,#24aa83 73.96%,#1fa088 79.86%,#1f968b 90.97%,#20938c 100%)"></i><i style="background:linear-gradient(90deg,#20948c 0%,#1e9c89 13.54%,#22a785 21.18%,#2bb17e 25.35%,#3aba76 28.47%,#4fc46a 31.25%,#6cce5a 34.03%,#9eda3a 37.85%,#c9e01f 40.97%,#dde318 42.71%,#efe51c 44.79%,#f9e722 46.88%,#fbe723 48.96%,#f4e61e 51.04%,#e4e419 53.12%,#d6e21a 54.51%,#c0df24 56.25%,#74d055 61.81%,#55c667 64.58%,#3ebc74 67.36%,#2eb27d 70.49%,#23a983 74.31%,#1f9f88 80.56%,#1f968b 92.36%,#20938c 100%)"></i><i style="background:linear-gradient(90deg,#20948c 0%,#1e9c8a 13.54%,#21a785 21.18%,#2bb07f 25.35%,#39ba76 28.47%,#4ec36b 31.25%,#6bcd5a 34.03%,#9eda3a 37.85%,#c9e01f 40.97%,#dae319 42.36%,#ebe51a 44.1%,#f8e621 46.18%,#fce724 48.26%,#f7e621 50.35%,#eae51a 52.43%,#dae319 54.17%,#c4e022 55.9%,#77d153 61.46%,#57c765 64.24%,#40bd73 67.01%,#2eb37c 70.14%,#23a983 73.96%,#1f9f88 80.21%,#1f968b 91.67%,#20938c 100%)"></i><i style="background:linear-gradient(90deg,#20948c 0%,#1e9b8a 13.54%,#21a685 21.18%,#2ab07f 25.35%,#38b977 28.47%,#4dc36b 31.25%,#6acd5b 34.03%,#98d83e 37.5%,#c8e020 40.97%,#d9e219 42.36%,#eae51a 44.1%,#f7e620 46.18%,#fbe723 48.26%,#f7e620 50.35%,#e9e41a 52.43%,#d8e219 54.17%,#c2e023 55.9%,#75d054 61.46%,#56c666 64.24%,#3ebc73 67.01%,#2db27d 70.14%,#23a984 73.96%,#1f9e89 80.21%,#1f958b 92.01%,#20938c 100%)"></i><i style="background:linear-gradient(90deg,#20948c 0%,#1e9b8a 13.54%,#21a685 21.53%,#2ab07f 25.69%,#39ba76 28.82%,#4fc36a 31.6%,#6cce59 34.38%,#a0da39 38.19%,#cbe11f 41.32%,#dbe319 42.71%,#ebe51a 44.44%,#f6e620 46.53%,#f9e621 48.61%,#f3e61e 50.69%,#e4e418 52.78%,#d5e21a 54.17%,#c0df25 55.9%,#73d055 61.46%,#54c568 64.24%,#3dbc74 67.01%,#2cb27d 70.14%,#23a884 73.96%,#1f9e89 80.56%,#1f958b 92.71%,#20938c 100%)"></i><i style="background:linear-gradient(90deg,#20948c 0%,#1e9b8a 13.89%,#21a685 21.88%,#2aaf7f 25.69%,#38b977 28.82%,#4dc36c 31.6%,#6acd5b 34.38%,#9cd93b 38.19%,#c7e020 41.32%,#dbe319 43.06%,#ece51a 45.14%,#f5e61f 47.22%,#f4e61e 49.31%,#ebe51a 51.39%,#dce319 53.12%,#c9e01f 54.86%,#99d93d 58.33%,#6bcd5a 61.81%,#4ec36b 64.58%,#39b976 67.36%,#2ab07f 70.49%,#21a685 74.65%,#1e9b8a 82.99%,#20938c 97.57%,#20938c 100%)"></i><i style="background:linear-gradient(90deg,#20938c 0%,#1e9b8a 13.89%,#21a685 21.88%,#2ab07f 26.04%,#38b977 29.17%,#4dc36b 31.94%,#6bcd5a 34.72%,#a2da38 38.89%,#c7e021 41.67%,#d9e219 43.4%,#e9e41a 45.49%,#f0e51c 47.57%,#eee51b 49.65%,#e3e418 51.74%,#d3e21b 53.47%,#bade28 55.56%,#70cf57 61.11%,#52c569 63.89%,#3bbb75 66.67%,#2cb17e 69.79%,#22a884 73.61%,#1e9d89 80.56%,#1f948c 93.06%,#20938c 100%)"></i><i style="background:linear-gradient(90deg,#20938c 0%,#1e9b8a 14.24%,#21a685 22.22%,#2ab07f 26.39%,#38b977 29.51%,#4ec36b 32.29%,#6fce58 35.42%,#b8de29 40.97%,#d0e11c 43.06%,#e0e318 45.14%,#e9e419 47.22%,#e8e419 49.31%,#dee318 51.39%,#d0e11c 53.12%,#b8de29 55.21%,#6fcf57 60.76%,#4ec36b 63.89%,#39ba76 66.67%,#2ab07f 69.79%,#22a785 73.61%,#1e9c8a 81.25%,#20948c 94.44%,#20938c 100%)"></i><i style="background:linear-gradient(90deg,#20938c 0%,#1f9a8a 14.24%,#21a685 22.57%,#2aaf7f 26.74%,#38b977 29.86%,#4dc36b 32.64%,#6ece58 35.76%,#b1dd2e 40.97%,#cbe11e 43.4%,#dae319 45.49%,#e1e318 47.57%,#dee318 49.65%,#d3e21b 51.74%,#c0df24 53.82%,#91d743 57.64%,#62ca5f 61.46%,#45bf70 64.58%,#31b57b 67.71%,#25ab82 71.18%,#1fa187 76.39%,#1f978b 86.46%,#20928c 100%)"></i><i style="background:linear-gradient(90deg,#20938c 0%,#1f9a8a 14.58%,#21a585 22.92%,#29af7f 27.08%,#38b977 30.21%,#4cc26c 32.99%,#6cce59 36.11%,#b0dd2e 41.67%,#c7e020 44.1%,#d3e21b 46.18%,#d7e21a 48.26%,#d1e11c 50.35%,#c3e022 52.43%,#a6db35 55.21%,#64cb5e 60.76%,#46c06f 63.89%,#32b57a 67.01%,#26ac82 70.49%,#1fa287 75.35%,#1f988b 85.07%,#20928c 100%)"></i><i style="background:linear-gradient(90deg,#20938c 0%,#1f998a 14.58%,#21a586 23.26%,#29af80 27.43%,#37b878 30.56%,#4ec36b 33.68%,#71cf56 37.15%,#addc30 42.36%,#c1df24 44.79%,#cae01f 46.88%,#cae11f 48.96%,#c1df23 51.04%,#aedc30 53.47%,#78d153 58.33%,#53c568 61.81%,#3bba76 64.93%,#2bb17e 68.06%,#22a784 71.88%,#1e9c89 78.82%,#1f948c 90.97%,#20928c 100%)"></i><i style="background:linear-gradient(90deg,#20938c 0%,#1f998a 14.93%,#20a586 23.61%,#28ae80 27.78%,#35b778 30.9%,#4bc26c 34.03%,#6dce59 37.5%,#a1da38 42.36%,#b4dd2c 44.79%,#bcdf27 46.88%,#bcdf27 48.96%,#b4dd2c 51.04%,#a1da38 53.47%,#67cc5c 59.03%,#47c06f 62.5%,#33b67a 65.62%,#26ac81 69.1%,#1fa287 73.96%,#1f988b 83.33%,#20928c 100%)"></i><i style="background:linear-gradient(90deg,#20928c 0%,#1f998a 15.28%,#20a486 23.96%,#27ad81 28.12%,#35b778 31.6%,#4bc26d 34.72%,#72cf56 38.89%,#97d83f 42.71%,#a7db34 45.14%,#aedc30 47.22%,#acdc31 49.31%,#a1da38 51.74%,#87d549 54.86%,#4fc36a 60.76%,#38b977 63.89%,#29af80 67.36%,#21a585 71.53%,#1f9a8a 80.21%,#20938c 94.79%,#20928c 100%)"></i><i style="background:linear-gradient(90deg,#20928c 0%,#1f998a 15.62%,#20a386 24.31%,#27ad81 28.82%,#35b779 32.29%,#4cc26c 35.76%,#83d44b 42.01%,#96d83f 44.79%,#9dd93b 47.22%,#9cd93c 49.31%,#91d742 51.74%,#77d153 55.21%,#47c06f 60.76%,#32b57a 64.24%,#26ac82 67.71%,#1fa287 72.57%,#1f988b 81.94%,#20928c 99.65%,#20928c 100%)"></i><i style="background:linear-gradient(90deg,#20928c 0%,#1f988b 15.97%,#20a387 25%,#26ad81 29.51%,#34b679 32.99%,#4cc26c 36.81%,#7cd250 43.06%,#89d547 45.83%,#8cd646 48.26%,#86d549 50.69%,#74d055 53.82%,#40bd73 60.76%,#2eb37d 64.24%,#23a983 68.06%,#1f9f88 73.96%,#1f958b 84.72%,#20928c 100%)"></i><i style="background:linear-gradient(90deg,#20928c 0%,#1f988b 16.67%,#20a287 25.69%,#26ac82 30.21%,#33b67a 34.03%,#4cc26c 38.19%,#6ece58 43.4%,#79d152 46.18%,#7ad251 48.61%,#72cf56 51.39%,#5cc863 55.21%,#39b977 60.76%,#29af80 64.58%,#20a586 69.1%,#1f998a 78.12%,#20928c 93.4%,#20918c 100%)"></i><i style="background:linear-gradient(90deg,#20928c 0%,#1f978b 17.01%,#1fa287 26.39%,#25ac82 31.25%,#32b57a 35.07%,#5dc962 43.06%,#67cc5c 46.18%,#68cc5c 48.96%,#5ec961 52.08%,#36b878 59.72%,#27ad81 63.89%,#20a386 68.75%,#1f988b 78.12%,#20928c 94.44%,#20918c 100%)"></i><i style="background:linear-gradient(90deg,#20928c 0%,#1f978b 18.06%,#1fa187 27.43%,#25ab82 32.64%,#34b679 37.15%,#51c469 44.1%,#57c766 47.22%,#54c568 50.35%,#45bf70 54.51%,#2cb17e 60.76%,#22a784 65.28%,#1e9c89 72.57%,#20948c 84.72%,#20918c 100%)"></i><i style="background:linear-gradient(90deg,#20918c 0%,#1f978b 18.75%,#1fa088 28.47%,#25ab82 34.03%,#34b779 39.58%,#44bf71 44.79%,#46c06f 48.26%,#40bd72 52.08%,#26ad81 60.76%,#1fa287 66.32%,#1f978b 76.39%,#20928c 94.1%,#20918c 100%)"></i><i style="background:linear-gradient(90deg,#20918c 0%,#1f968b 19.79%,#1fa088 30.21%,#25ab82 36.46%,#36b878 44.79%,#37b977 48.96%,#2eb37c 54.51%,#22a785 61.46%,#1e9b8a 69.79%,#20938c 82.64%,#20918c 100%)"></i><i style="background:linear-gradient(90deg,#20918c 0%,#1f968b 21.18%,#1fa088 32.29%,#25ab82 40.28%,#2bb17e 47.22%,#27ad81 53.82%,#1fa188 62.5%,#1f968b 73.96%,#20918c 94.1%,#20918c 100%)"></i><i style="background:linear-gradient(90deg,#20918c 0%,#1f958b 23.26%,#1fa088 36.11%,#23a984 46.18%,#21a685 53.82%,#1f998a 67.01%,#20928c 82.99%,#21918c 100%)"></i><i style="background:linear-gradient(90deg,#21908c 0%,#1f948c 26.04%,#1fa088 47.22%,#1e9b8a 58.68%,#20938c 75.69%,#21908c 100%)"></i><i style="background:linear-gradient(90deg,#21908c 0%,#20948c 32.64%,#1f978b 50.35%,#20918c 81.6%,#21908c 100%)"></i><i style="background:linear-gradient(90deg,#21908c 0%,#21908d 77.78%,#21908c 100%)"></i><i style="background:linear-gradient(90deg,#21908d 0%,#228c8d 29.86%,#24868e 48.61%,#218f8d 78.82%,#21908d 100%)"></i><i style="background:linear-gradient(90deg,#21908d 0%,#228c8d 25%,#287d8e 46.88%,#26828e 56.6%,#228c8d 72.92%,#21908d 100%)"></i><i style="background:linear-gradient(90deg,#218f8d 0%,#228b8d 22.57%,#26818e 34.72%,#2b758e 45.49%,#2a778e 52.43%,#23898d 70.14%,#218f8d 88.19%,#21908d 100%)"></i><i style="background:linear-gradient(90deg,#218f8d 0%,#238a8d 20.83%,#26808e 31.6%,#2e6d8e 44.79%,#2e6d8e 50.69%,#24868e 69.44%,#228e8d 83.68%,#218f8d 100%)"></i><i style="background:linear-gradient(90deg,#218f8d 0%,#238a8d 19.44%,#27808e 29.51%,#32658e 44.44%,#32648e 49.65%,#2e6e8e 56.6%,#26828e 68.06%,#228b8d 79.51%,#218f8d 100%)"></i><i style="background:linear-gradient(90deg,#218f8d 0%,#238a8d 18.4%,#277f8e 28.12%,#2f6c8e 37.5%,#365d8d 44.44%,#365b8d 48.96%,#33638d 54.51%,#287e8e 66.67%,#23898e 76.39%,#218e8d 93.4%,#218f8d 100%)"></i><i style="background:linear-gradient(90deg,#218f8d 0%,#23898d 17.71%,#277f8e 27.08%,#2e6d8e 35.07%,#39568c 43.75%,#3b528b 47.92%,#38578c 52.43%,#297a8e 66.32%,#24878e 75.35%,#228e8d 89.58%,#218f8d 100%)"></i><i style="background:linear-gradient(90deg,#218e8d 0%,#23898e 17.01%,#277e8e 26.04%,#2e6e8e 33.33%,#3d4e8a 43.75%,#3e4989 47.92%,#3c4f8a 52.08%,#2b768e 65.62%,#25838e 73.61%,#228c8d 85.42%,#218f8d 100%)"></i><i style="background:linear-gradient(90deg,#218e8d 0%,#23888e 16.32%,#277e8e 25.35%,#2e6d8e 32.29%,#3f4989 42.71%,#424186 46.53%,#414387 50.35%,#3b508b 55.21%,#2d708e 64.58%,#27808e 71.88%,#238a8d 81.94%,#218f8d 100%)"></i><i style="background:linear-gradient(90deg,#218e8d 0%,#24888e 15.97%,#287d8e 24.65%,#2e6d8e 31.25%,#3b508b 38.89%,#433d85 44.1%,#453882 47.57%,#433c84 51.04%,#3d4e8a 56.25%,#2f6c8e 64.24%,#287d8e 71.18%,#24888e 80.21%,#218e8d 96.53%,#218f8d 100%)"></i><i style="background:linear-gradient(90deg,#218e8d 0%,#24888e 15.62%,#287d8e 24.31%,#2f6c8e 30.9%,#3b518b 37.5%,#453882 43.4%,#46317e 46.88%,#46327f 50%,#433d85 53.82%,#365c8d 60.76%,#2c718e 67.01%,#26808e 74.31%,#238a8d 84.72%,#218e8d 100%)"></i><i style="background:linear-gradient(90deg,#218e8d 0%,#24878e 15.28%,#287c8e 23.96%,#2f6c8e 30.21%,#3a548b 36.11%,#453781 42.01%,#472b7a 45.49%,#482979 48.61%,#46307e 52.08%,#3f4989 57.64%,#31668e 64.24%,#2a788e 70.49%,#25858e 78.47%,#228c8d 91.32%,#218e8d 100%)"></i><i style="background:linear-gradient(90deg,#228e8d 0%,#24878e 14.93%,#287c8e 23.26%,#2f6c8e 29.51%,#39558c 35.07%,#443a83 40.28%,#482777 44.44%,#482273 47.57%,#482576 50.69%,#463480 54.51%,#3c4f8a 59.72%,#30688e 65.62%,#297a8e 71.88%,#24868e 80.21%,#228d8d 94.1%,#218e8d 100%)"></i><i style="background:linear-gradient(90deg,#228d8d 0%,#24878e 14.58%,#287b8e 22.92%,#2f6b8e 29.17%,#3a548b 34.72%,#443b83 39.24%,#482475 43.75%,#481c6e 46.88%,#481d6f 49.65%,#482878 53.12%,#414387 58.33%,#345f8d 63.89%,#2c738e 69.79%,#26818e 77.08%,#238b8d 87.85%,#218e8d 100%)"></i><i style="background:linear-gradient(90deg,#228d8d 0%,#24868e 14.58%,#297a8e 22.92%,#30698e 29.17%,#3a538b 34.38%,#443982 38.89%,#481f70 43.75%,#481669 46.88%,#481769 49.65%,#482172 52.78%,#443b84 57.64%,#39558c 62.15%,#2f6b8e 67.36%,#297b8e 73.61%,#24868e 82.29%,#228d8d 97.22%,#218e8d 100%)"></i><i style="background:linear-gradient(90deg,#228d8d 0%,#24868e 14.24%,#297a8e 22.57%,#30698e 28.82%,#3b528b 34.03%,#443a83 38.19%,#481f71 42.71%,#481366 45.83%,#471063 48.61%,#481769 51.39%,#482979 55.21%,#414287 59.38%,#355e8d 64.58%,#2c728e 70.14%,#27808e 77.08%,#238a8d 87.5%,#218e8d 100%)"></i><i style="background:linear-gradient(90deg,#228d8d 0%,#24868e 13.89%,#297a8e 22.22%,#30698e 28.47%,#3b528b 33.68%,#443983 37.85%,#481d6f 42.36%,#470f62 45.83%,#460c5f 48.26%,#471164 51.04%,#482374 54.86%,#433d85 59.03%,#38578c 63.54%,#2f6c8e 68.75%,#287c8e 75.35%,#24878e 84.38%,#218e8d 100%)"></i><i style="background:linear-gradient(90deg,#228d8d 0%,#25858e 13.89%,#29798e 22.22%,#30698e 28.12%,#3b528b 33.33%,#443983 37.5%,#481d6e 42.01%,#470c5f 45.49%,#46085b 47.92%,#460b5e 50.35%,#481a6c 53.82%,#453681 58.33%,#3d4e8a 62.15%,#32658e 67.01%,#2a778e 72.92%,#25838e 80.56%,#228c8d 93.06%,#228e8d 100%)"></i><i style="background:linear-gradient(90deg,#228d8d 0%,#25858e 13.89%,#29798e 22.22%,#30688e 28.12%,#3a538b 32.99%,#443a83 37.15%,#481f70 41.32%,#460b5e 45.14%,#450558 47.57%,#46075a 50%,#481466 53.12%,#472f7d 57.64%,#404688 61.11%,#345f8d 65.97%,#2c728e 71.53%,#26818e 78.82%,#238a8d 89.58%,#228d8d 100%)"></i><i style="background:linear-gradient(90deg,#228c8d 0%,#25858e 13.54%,#29798e 21.88%,#30698e 27.78%,#3a548b 32.64%,#443b83 36.81%,#482173 40.62%,#46095c 45.14%,#450356 47.57%,#450558 50%,#471063 52.78%,#472b7a 57.29%,#414287 60.76%,#365d8d 65.62%,#2d718e 71.18%,#277f8e 78.12%,#23898d 88.54%,#228d8d 100%)"></i><i style="background:linear-gradient(90deg,#228c8d 0%,#25858e 13.54%,#2a788e 21.88%,#31688e 27.78%,#3a538b 32.64%,#443a83 36.81%,#482172 40.62%,#46085b 45.14%,#440255 47.57%,#450457 50%,#470d60 52.43%,#472a79 57.29%,#424186 60.76%,#365c8d 65.62%,#2d708e 71.18%,#277f8e 78.12%,#23898e 88.19%,#228d8d 100%)"></i><i style="background:linear-gradient(90deg,#228c8d 0%,#25848e 13.54%,#2a788e 21.88%,#31688e 27.78%,#3b508b 32.99%,#443983 36.81%,#482072 40.62%,#46075b 45.14%,#440255 47.92%,#450458 50.35%,#471063 53.12%,#472c7b 57.64%,#414287 61.11%,#365d8d 65.97%,#2d708e 71.53%,#277f8e 78.47%,#23898e 88.89%,#228d8d 100%)"></i><i style="background:linear-gradient(90deg,#228c8d 0%,#25848e 13.54%,#2a788e 21.88%,#31668e 28.12%,#3c4e8a 33.33%,#453782 37.15%,#481c6e 41.32%,#46075a 45.49%,#440256 48.26%,#46075a 51.04%,#481a6c 54.86%,#453580 59.03%,#3d4c8a 62.85%,#33638d 67.71%,#2b758e 73.61%,#26838e 81.6%,#228b8d 94.1%,#228d8d 100%)"></i><i style="background:linear-gradient(90deg,#228c8d 0%,#25848e 13.54%,#2a778e 21.88%,#32668e 28.12%,#3c4e8a 33.33%,#453782 37.15%,#481b6d 41.67%,#46085c 45.49%,#450457 48.26%,#46085b 51.04%,#481d6e 55.21%,#453782 59.38%,#3c508b 63.54%,#31678e 68.75%,#2a788e 75%,#25848e 83.33%,#228c8d 97.22%,#228d8d 100%)"></i><i style="background:linear-gradient(90deg,#228c8d 0%,#25848e 13.54%,#2a778e 21.88%,#32668e 28.12%,#3c4e8a 33.33%,#453681 37.5%,#481a6c 42.01%,#46095c 45.83%,#450559 48.61%,#460a5d 51.04%,#481e6f 55.21%,#443a83 59.72%,#3b528b 63.89%,#31688e 69.1%,#2a798e 75.35%,#25858e 84.03%,#228c8d 98.61%,#228d8d 100%)"></i><i style="background:linear-gradient(90deg,#228c8d 0%,#25848e 13.54%,#2a778e 21.88%,#32668e 28.12%,#3c4f8a 33.33%,#453781 37.5%,#481c6e 42.01%,#460c5f 45.83%,#46085b 48.61%,#470d60 51.39%,#482172 55.56%,#443a83 59.72%,#3a548b 64.24%,#306a8e 69.79%,#297a8e 76.39%,#24868e 85.42%,#228d8d 100%)"></i><i style="background:linear-gradient(90deg,#228c8d 0%,#25848e 13.54%,#2a778e 21.88%,#32668e 28.12%,#3d4e8a 33.68%,#453681 37.85%,#481b6d 42.71%,#470e61 46.18%,#460c5f 48.96%,#471365 52.08%,#482777 56.25%,#423f85 60.42%,#38598c 65.28%,#2e6d8e 70.83%,#287d8e 77.78%,#24888e 87.85%,#228d8d 100%)"></i><i style="background:linear-gradient(90deg,#228c8d 0%,#25838e 13.54%,#2a778e 21.88%,#32658e 28.47%,#3d4d8a 34.03%,#463480 38.54%,#48196b 43.75%,#471063 46.88%,#471063 49.65%,#48186a 52.78%,#46317e 57.64%,#3f4889 61.81%,#33628d 67.36%,#2b748e 73.61%,#26828e 81.6%,#238b8d 94.1%,#228d8d 100%)"></i><i style="background:linear-gradient(90deg,#228c8d 0%,#25838e 13.54%,#2b768e 22.22%,#32648e 28.82%,#3e4a89 34.72%,#46327f 39.24%,#481b6d 44.1%,#481466 47.22%,#481567 50.35%,#481f71 53.82%,#443a83 59.03%,#3a548b 63.89%,#306a8e 69.79%,#297b8e 76.74%,#24868e 86.46%,#228d8d 100%)"></i><i style="background:linear-gradient(90deg,#228c8d 0%,#25838e 13.54%,#2a768e 22.22%,#32648e 28.82%,#3d4c8a 34.72%,#46337f 39.58%,#481f70 44.1%,#48176a 47.57%,#48196b 50.69%,#482676 54.51%,#424286 60.07%,#355d8d 65.97%,#2d718e 72.22%,#27808e 80.21%,#238a8d 92.01%,#228d8d 100%)"></i><i style="background:linear-gradient(90deg,#228b8d 0%,#25838e 13.54%,#2a768e 22.22%,#32648e 29.17%,#3e4a89 35.42%,#46307e 40.62%,#482072 44.79%,#481b6d 48.26%,#481f71 51.74%,#472f7d 55.9%,#3f4989 61.11%,#33638d 67.36%,#2b758e 73.96%,#26838e 82.64%,#228b8d 96.18%,#228c8d 100%)"></i><i style="background:linear-gradient(90deg,#228b8d 0%,#25838e 13.89%,#2b768e 22.57%,#33638d 29.51%,#3f4788 36.46%,#472b7a 42.71%,#482172 46.53%,#482072 50%,#482a79 53.82%,#404588 60.07%,#33638d 67.01%,#2b768e 73.96%,#26838e 82.64%,#228b8d 96.18%,#228c8d 100%)"></i><i style="background:linear-gradient(90deg,#228b8d 0%,#25838e 13.89%,#2b758e 22.92%,#33638d 29.86%,#404688 37.15%,#472c7b 43.4%,#482475 47.22%,#482676 50.69%,#46317e 54.86%,#3d4e8a 61.46%,#31688e 68.4%,#29798e 75.69%,#25858e 85.42%,#228c8d 100%)"></i><i style="background:linear-gradient(90deg,#228b8d 0%,#25838e 13.89%,#2b768e 22.92%,#33638d 30.21%,#404588 37.85%,#472f7d 43.75%,#482978 47.57%,#472b7a 51.39%,#453882 55.9%,#3a548b 62.5%,#2f6b8e 69.44%,#287c8e 77.08%,#24878e 87.5%,#228c8d 100%)"></i><i style="background:linear-gradient(90deg,#228b8d 0%,#25838e 13.89%,#2b758e 23.26%,#33628d 30.9%,#414487 38.89%,#46327e 44.44%,#472d7b 48.26%,#46317e 52.08%,#424186 57.29%,#355e8d 64.93%,#2c738e 72.22%,#26818e 80.9%,#238a8d 93.75%,#228c8d 100%)"></i><i style="background:linear-gradient(90deg,#228b8d 0%,#26838e 14.24%,#2b758e 23.61%,#33628d 31.25%,#414387 39.93%,#463480 45.14%,#46317e 49.31%,#453882 53.47%,#3a538b 61.46%,#2e6d8e 69.44%,#287d8e 77.78%,#24888e 88.89%,#228c8d 100%)"></i><i style="background:linear-gradient(90deg,#228b8d 0%,#26838e 14.24%,#2b758e 23.96%,#34618d 31.94%,#414286 41.32%,#453782 46.18%,#453681 50.35%,#423f85 54.86%,#355f8d 64.24%,#2c748e 72.22%,#26828e 81.6%,#228b8d 95.49%,#228c8d 100%)"></i><i style="background:linear-gradient(90deg,#228b8d 0%,#26838e 14.58%,#2b758e 24.31%,#355f8d 32.99%,#424086 43.4%,#443a83 47.92%,#433d85 52.43%,#3c4e8a 58.68%,#2f6c8e 68.75%,#287d8e 77.43%,#24888e 88.89%,#228c8d 100%)"></i><i style="background:linear-gradient(90deg,#228b8d 0%,#26838e 14.58%,#2b758e 24.65%,#355f8d 33.68%,#414487 43.4%,#433e85 48.26%,#414286 52.78%,#3a548b 59.72%,#2d708e 69.79%,#277f8e 79.17%,#23898d 92.01%,#228c8d 100%)"></i><i style="background:linear-gradient(90deg,#228b8d 0%,#26828e 14.93%,#2b758e 25%,#355d8d 34.72%,#404788 43.75%,#414287 48.61%,#404788 53.47%,#34608d 63.19%,#2b768e 72.57%,#25848e 82.99%,#228c8d 98.61%,#228c8d 100%)"></i><i style="background:linear-gradient(90deg,#228b8d 0%,#26838e 14.93%,#2b758e 25.35%,#365c8d 36.11%,#3e4989 44.1%,#404688 49.31%,#3d4c8a 54.51%,#2c738e 70.83%,#26828e 80.9%,#228b8d 95.49%,#228c8d 100%)"></i><i style="background:linear-gradient(90deg,#228b8d 0%,#26828e 15.28%,#2b748e 26.04%,#3d4d8a 43.75%,#3e4a89 48.96%,#3c4f8b 54.51%,#2b758e 71.53%,#25838e 82.29%,#228c8d 97.92%,#228c8d 100%)"></i><i style="background:linear-gradient(90deg,#228b8d 0%,#26828e 15.62%,#2b748e 26.39%,#3b518b 43.75%,#3d4d8a 49.31%,#3a548b 55.21%,#2a778e 72.22%,#25848e 83.33%,#228c8d 100%)"></i><i style="background:linear-gradient(90deg,#228b8d 0%,#26838e 15.62%,#2c748e 27.08%,#3a548b 43.75%,#3b518b 49.65%,#38588c 55.9%,#2a788e 72.57%,#25858e 84.38%,#228c8d 100%)"></i><i style="background:linear-gradient(90deg,#228b8d 0%,#26828e 15.97%,#2c738e 27.78%,#38578c 43.4%,#3a548b 49.65%,#375b8d 56.25%,#297a8e 73.26%,#24868e 85.42%,#228c8d 100%)"></i><i style="background:linear-gradient(90deg,#228b8d 0%,#26828e 16.32%,#2c738e 28.47%,#375a8c 43.4%,#38578c 49.65%,#355e8d 56.6%,#287b8e 73.96%,#24878e 86.81%,#228c8d 100%)"></i><i style="background:linear-gradient(90deg,#228b8d 0%,#26838e 16.32%,#2c738e 28.82%,#365d8d 43.4%,#375a8c 50%,#34618d 57.29%,#287d8e 74.65%,#24888e 88.19%,#228c8d 100%)"></i><i style="background:linear-gradient(90deg,#228b8d 0%,#26838e 16.67%,#2c738e 29.86%,#355f8d 43.75%,#365d8d 50.69%,#31668e 59.03%,#277e8e 75.35%,#23898e 89.58%,#228c8d 100%)"></i><i style="background:linear-gradient(90deg,#228b8d 0%,#26838e 17.01%,#2c728e 30.9%,#34618d 43.75%,#34608d 51.04%,#30698e 60.07%,#277f8e 76.39%,#238a8d 91.67%,#228c8d 100%)"></i><i style="background:linear-gradient(90deg,#228b8d 0%,#26838e 17.36%,#2c718e 32.29%,#33638d 44.44%,#33638d 52.08%,#2e6f8e 62.85%,#26818e 78.12%,#228b8d 94.79%,#228c8d 100%)"></i><i style="background:linear-gradient(90deg,#228b8d 0%,#26838e 17.71%,#2d718e 33.68%,#32658e 44.79%,#32658e 52.78%,#2b748e 65.62%,#25848e 80.56%,#228c8d 99.31%,#228c8d 100%)"></i><i style="background:linear-gradient(90deg,#228c8d 0%,#26838e 18.06%,#2e6e8e 37.15%,#31668e 46.88%,#30698e 55.21%,#25838e 79.17%,#228c8d 97.57%,#228c8d 100%)"></i><i style="background:linear-gradient(90deg,#228c8d 0%,#26838e 18.4%,#30698e 44.44%,#30698e 53.12%,#25858e 80.9%,#228c8d 100%)"></i><i style="background:linear-gradient(90deg,#228c8d 0%,#26838e 19.1%,#2f6b8e 44.44%,#2f6c8e 53.47%,#25858e 81.6%,#228c8d 100%)"></i><i style="background:linear-gradient(90deg,#228c8d 0%,#26838e 19.44%,#2e6d8e 44.44%,#2e6d8e 53.82%,#24868e 82.29%,#228c8d 100%)"></i><i style="background:linear-gradient(90deg,#228c8d 0%,#26838e 19.79%,#2e6f8e 44.44%,#2d6f8e 54.17%,#24868e 82.99%,#228c8d 100%)"></i><i style="background:linear-gradient(90deg,#228c8d 0%,#26838e 20.49%,#2d708e 44.44%,#2d718e 54.51%,#24878e 83.68%,#228c8d 100%)"></i><i style="background:linear-gradient(90deg,#228c8d 0%,#26838e 20.83%,#2c728e 44.44%,#2c738e 55.21%,#24888e 84.38%,#228c8d 100%)"></i><i style="background:linear-gradient(90deg,#228c8d 0%,#26838e 21.53%,#2c738e 44.79%,#2b758e 55.9%,#24888e 85.07%,#228d8d 100%)"></i><i style="background:linear-gradient(90deg,#228c8d 0%,#26838e 22.22%,#2b748e 44.79%,#2b768e 56.25%,#23898e 86.11%,#228d8d 100%)"></i><i style="background:linear-gradient(90deg,#228c8d 0%,#26838e 22.92%,#2b768e 45.14%,#2a788e 57.29%,#23898d 86.81%,#228d8d 100%)"></i><i style="background:linear-gradient(90deg,#228c8d 0%,#26838e 23.61%,#2a778e 45.14%,#29798e 57.99%,#23898d 87.5%,#228d8d 100%)"></i><i style="background:linear-gradient(90deg,#228c8d 0%,#26838e 24.31%,#2a788e 45.49%,#297b8e 59.03%,#238a8d 88.54%,#228d8d 100%)"></i><i style="background:linear-gradient(90deg,#228c8d 0%,#26838e 25%,#29798e 45.83%,#287c8e 60.07%,#238a8d 89.58%,#228d8d 100%)"></i><i style="background:linear-gradient(90deg,#228c8d 0%,#26838e 26.04%,#297a8e 46.53%,#287e8e 61.46%,#228b8d 90.62%,#228d8d 100%)"></i><i style="background:linear-gradient(90deg,#228c8d 0%,#26838e 27.08%,#297b8e 47.22%,#277f8e 63.54%,#228b8d 92.36%,#228d8d 100%)"></i><i style="background:linear-gradient(90deg,#228c8d 0%,#26838e 28.12%,#287c8e 47.92%,#26818e 65.62%,#228c8d 94.44%,#228d8d 100%)"></i><i style="background:linear-gradient(90deg,#228c8d 0%,#26828e 29.86%,#287d8e 48.96%,#25838e 69.1%,#228d8d 98.26%,#228d8d 100%)"></i><i style="background:linear-gradient(90deg,#228c8d 0%,#26828e 31.6%,#287e8e 50%,#24868e 75.35%,#228d8d 100%)"></i><i style="background:linear-gradient(90deg,#228d8d 0%,#26818e 34.72%,#277f8e 52.43%,#228d8d 98.61%,#228d8d 100%)"></i><i style="background:linear-gradient(90deg,#228d8d 0%,#277f8e 48.26%,#25858e 70.83%,#228d8d 100%)"></i><i style="background:linear-gradient(90deg,#228d8d 0%,#27808e 48.26%,#24868e 72.22%,#228d8d 100%)"></i><i style="background:linear-gradient(90deg,#228d8d 0%,#26818e 48.61%,#24888e 75.69%,#228d8d 100%)"></i><i style="background:linear-gradient(90deg,#228d8d 0%,#26818e 48.96%,#228d8d 100%)"></i><i style="background:linear-gradient(90deg,#228d8d 0%,#26828e 48.96%,#228d8d 100%)"></i><i style="background:linear-gradient(90deg,#228d8d 0%,#26838e 49.31%,#228d8d 100%)"></i><i style="background:linear-gradient(90deg,#228d8d 0%,#25838e 49.65%,#228d8d 100%)"></i><i style="background:linear-gradient(90deg,#228d8d 0%,#25848e 50%,#228d8d 100%)"></i><i style="background:linear-gradient(90deg,#228d8d 0%,#25848e 50%,#228d8d 100%)"></i><i style="background:linear-gradient(90deg,#228d8d 0%,#25858e 50.35%,#228d8d 100%)"></i><i style="background:linear-gradient(90deg,#228d8d 0%,#25858e 50.69%,#228e8d 100%)"></i><i style="background:linear-gradient(90deg,#228d8d 0%,#24868e 51.04%,#228e8d 100%)"></i><i style="background:linear-gradient(90deg,#228d8d 0%,#24868e 51.39%,#218e8d 100%)"></i><i style="background:linear-gradient(90deg,#228d8d 0%,#24878e 51.74%,#218e8d 100%)"></i><i style="background:linear-gradient(90deg,#228d8d 0%,#24878e 52.43%,#218e8d 100%)"></i><i style="background:linear-gradient(90deg,#228d8d 0%,#24878e 52.78%,#218e8d 100%)"></i><i style="background:linear-gradient(90deg,#228e8d 0%,#24888e 53.12%,#218e8d 100%)"></i><i style="background:linear-gradient(90deg,#228e8d 0%,#23888e 53.82%,#218e8d 100%)"></i><i style="background:linear-gradient(90deg,#218e8d 0%,#23888e 54.17%,#218e8d 100%)"></i><i style="background:linear-gradient(90deg,#218e8d 0%,#23898e 54.51%,#218e8d 100%)"></i><i style="background:linear-gradient(90deg,#218e8d 0%,#23898e 55.21%,#218e8d 100%)"></i><i style="background:linear-gradient(90deg,#218e8d 0%,#23898d 55.9%,#218e8d 100%)"></i><i style="background:linear-gradient(90deg,#218e8d 0%,#238a8d 56.25%,#218e8d 100%)"></i><i style="background:linear-gradient(90deg,#218e8d 0%,#238a8d 56.94%,#218e8d 100%)"></i><i style="background:linear-gradient(90deg,#218e8d 0%,#238a8d 57.64%,#218e8d 100%)"></i><i style="background:linear-gradient(90deg,#218e8d 0%,#238a8d 58.33%,#218e8d 100%)"></i><i style="background:linear-gradient(90deg,#218e8d 0%,#238b8d 59.03%,#218e8d 100%)"></i><i style="background:linear-gradient(90deg,#218e8d 0%,#228b8d 59.72%,#218e8d 100%)"></i><i style="background:linear-gradient(90deg,#218e8d 0%,#228b8d 60.42%,#218e8d 100%)"></i><i style="background:linear-gradient(90deg,#218e8d 0%,#228b8d 61.11%,#218e8d 100%)"></i><i style="background:linear-gradient(90deg,#218e8d 0%,#228c8d 62.15%,#218e8d 100%)"></i><i style="background:linear-gradient(90deg,#218e8d 0%,#228c8d 62.85%,#218e8d 100%)"></i><b style="left:143px;top:0;width:1px;height:205px;opacity:0.70"></b><b style="left:0;top:0;width:144px;height:1px;opacity:0.10"></b><b style="left:0;top:204px;width:144px;height:1px;opacity:0.40"></b></div>
<svg width="550" height="570" viewBox="0 0 550 570">
<defs><linearGradient id="vg" x1="0" y1="0" x2="0" y2="1"><stop offset="0.0000" stop-color="#fde725"/><stop offset="0.0312" stop-color="#eae51a"/><stop offset="0.0625" stop-color="#d5e21a"/><stop offset="0.0938" stop-color="#c0df25"/><stop offset="0.1250" stop-color="#aadc32"/><stop offset="0.1562" stop-color="#95d840"/><stop offset="0.1875" stop-color="#81d34d"/><stop offset="0.2188" stop-color="#6ece58"/><stop offset="0.2500" stop-color="#5cc863"/><stop offset="0.2812" stop-color="#4cc26c"/><stop offset="0.3125" stop-color="#3dbc74"/><stop offset="0.3438" stop-color="#31b57b"/><stop offset="0.3750" stop-color="#27ad81"/><stop offset="0.4062" stop-color="#21a685"/><stop offset="0.4375" stop-color="#1f9f88"/><stop offset="0.4688" stop-color="#1f978b"/><stop offset="0.5000" stop-color="#21908d"/><stop offset="0.5312" stop-color="#23898e"/><stop offset="0.5625" stop-color="#26828e"/><stop offset="0.5938" stop-color="#297a8e"/><stop offset="0.6250" stop-color="#2c728e"/><stop offset="0.6562" stop-color="#2f6b8e"/><stop offset="0.6875" stop-color="#33638d"/><stop offset="0.7188" stop-color="#375b8d"/><stop offset="0.7500" stop-color="#3b528b"/><stop offset="0.7812" stop-color="#3e4989"/><stop offset="0.8125" stop-color="#424086"/><stop offset="0.8438" stop-color="#453781"/><stop offset="0.8750" stop-color="#472d7b"/><stop offset="0.9062" stop-color="#482374"/><stop offset="0.9375" stop-color="#48186a"/><stop offset="0.9688" stop-color="#470d60"/><stop offset="1.0000" stop-color="#440154"/></linearGradient></defs>
<rect x="209.4" y="43.0" width="13.8" height="202.0" fill="url(#vg)"/>
<rect x="520.1" y="42.0" width="15.6" height="203.7" fill="url(#vg)"/>
<rect x="222.1" y="340.0" width="16.1" height="202.8" fill="url(#vg)"/>
<rect x="520.1" y="339.1" width="15.9" height="204.5" fill="url(#vg)"/>
<path d="M93.11 126.05 L92.38 127.43 L91.71 128.84 L91.10 130.28 L90.55 131.74 L90.06 133.22 L89.64 134.73 L89.28 136.25 L88.98 137.78 L88.75 139.33 L88.59 140.88 L88.49 142.44 L88.46 144.00 L88.49 145.56 L88.59 147.12 L88.75 148.67 L88.98 150.22 L89.28 151.75 L89.64 153.27 L90.06 154.78 L90.55 156.26 L91.10 157.72 L91.71 159.16 L92.38 160.57 L93.11 161.95 L99.00 158.69 L98.41 157.56 L97.86 156.40 L97.36 155.23 L96.91 154.03 L96.51 152.82 L96.17 151.59 L95.87 150.34 L95.63 149.09 L95.44 147.82 L95.31 146.55 L95.23 145.28 L95.20 144.00 L95.23 142.72 L95.31 141.45 L95.44 140.18 L95.63 138.91 L95.87 137.66 L96.17 136.41 L96.51 135.18 L96.91 133.97 L97.36 132.77 L97.86 131.60 L98.41 130.44 L99.00 129.31Z" fill="none" stroke="#111" stroke-opacity="0.85" stroke-width="0.7"/>
<path d="M387.29 125.74 L386.55 127.14 L385.87 128.56 L385.26 130.01 L384.70 131.49 L384.21 132.98 L383.78 134.50 L383.42 136.03 L383.12 137.58 L382.89 139.14 L382.72 140.70 L382.62 142.28 L382.59 143.85 L382.62 145.42 L382.72 147.00 L382.89 148.56 L383.12 150.12 L383.42 151.67 L383.78 153.20 L384.21 154.72 L384.70 156.21 L385.26 157.69 L385.87 159.14 L386.55 160.56 L387.29 161.96 L393.24 158.66 L392.64 157.52 L392.09 156.36 L391.58 155.17 L391.13 153.97 L390.73 152.74 L390.38 151.50 L390.08 150.25 L389.84 148.98 L389.64 147.71 L389.51 146.42 L389.43 145.14 L389.40 143.85 L389.43 142.56 L389.51 141.28 L389.64 139.99 L389.84 138.72 L390.08 137.45 L390.38 136.20 L390.73 134.96 L391.13 133.73 L391.58 132.53 L392.09 131.34 L392.64 130.18 L393.24 129.04Z" fill="none" stroke="#111" stroke-opacity="0.85" stroke-width="0.7"/>
<path d="M89.75 423.37 L89.02 424.76 L88.35 426.18 L87.73 427.62 L87.18 429.09 L86.69 430.58 L86.27 432.09 L85.91 433.62 L85.61 435.16 L85.38 436.71 L85.22 438.27 L85.12 439.83 L85.08 441.40 L85.12 442.97 L85.22 444.53 L85.38 446.09 L85.61 447.64 L85.91 449.18 L86.27 450.71 L86.69 452.22 L87.18 453.71 L87.73 455.18 L88.35 456.62 L89.02 458.04 L89.75 459.43 L95.67 456.15 L95.07 455.01 L94.52 453.85 L94.02 452.67 L93.57 451.47 L93.17 450.25 L92.82 449.02 L92.52 447.77 L92.28 446.51 L92.09 445.24 L91.96 443.96 L91.88 442.68 L91.85 441.40 L91.88 440.12 L91.96 438.84 L92.09 437.56 L92.28 436.29 L92.52 435.03 L92.82 433.78 L93.17 432.55 L93.57 431.33 L94.02 430.13 L94.52 428.95 L95.07 427.79 L95.67 426.65Z" fill="none" stroke="#111" stroke-opacity="0.85" stroke-width="0.7"/>
<path d="M387.53 423.17 L386.79 424.57 L386.12 426.00 L385.50 427.46 L384.94 428.94 L384.45 430.44 L384.02 431.96 L383.66 433.50 L383.36 435.05 L383.13 436.62 L382.96 438.19 L382.86 439.77 L382.83 441.35 L382.86 442.93 L382.96 444.51 L383.13 446.08 L383.36 447.65 L383.66 449.20 L384.02 450.74 L384.45 452.26 L384.94 453.76 L385.50 455.24 L386.12 456.70 L386.79 458.13 L387.53 459.53 L393.50 456.22 L392.90 455.08 L392.34 453.91 L391.84 452.72 L391.38 451.51 L390.98 450.28 L390.63 449.03 L390.33 447.77 L390.09 446.50 L389.90 445.22 L389.76 443.93 L389.68 442.64 L389.65 441.35 L389.68 440.06 L389.76 438.77 L389.90 437.48 L390.09 436.20 L390.33 434.93 L390.63 433.67 L390.98 432.42 L391.38 431.19 L391.84 429.98 L392.34 428.79 L392.90 427.62 L393.50 426.48Z" fill="none" stroke="#111" stroke-opacity="0.85" stroke-width="0.7"/>
<defs><radialGradient id="bl"><stop offset="0" stop-color="#3a0a4c" stop-opacity="0.95"/><stop offset="0.55" stop-color="#3f0f56" stop-opacity="0.6"/><stop offset="1" stop-color="#46236e" stop-opacity="0"/></radialGradient></defs>
<ellipse cx="123.5" cy="441.9" rx="3.1" ry="2.1" fill="url(#bl)" transform="rotate(35 123.5 441.9)"/>
<clipPath id="pc"><rect x="77.70" y="19.20" width="40" height="40"/></clipPath>
<g clip-path="url(#pc)"><text transform="translate(81.02 33.68) scale(0.9947 1)" font-size="27.07" font-weight="bold" stroke="#000" stroke-width="0.40">ψ</text></g>
<text transform="translate(102.43 38.00) scale(0.9606 1)" font-size="20.07" font-weight="bold" stroke="#000" stroke-width="0.40">O</text>
<text transform="translate(364.35 26.30) scale(0.9718 1)" font-size="32.73" font-weight="bold" stroke="#000" stroke-width="0.40">B</text>
<text transform="translate(387.61 31.68) scale(0.9924 1)" font-size="22.47" font-weight="bold" stroke="#000" stroke-width="0.40">O</text>
<text transform="translate(405.57 34.83) scale(0.9591 1)" font-size="16.24" font-weight="bold" stroke="#000" stroke-width="0.40">ρ</text>
<text transform="translate(415.89 37.39) scale(0.9519 1)" font-size="10.88" font-weight="bold" stroke="#000" stroke-width="0.40">O</text>
<text transform="translate(65.96 324.20) scale(0.9625 1)" font-size="32.87" font-weight="bold" stroke="#000" stroke-width="0.40">B</text>
<text transform="translate(88.70 330.07) scale(0.9745 1)" font-size="23.18" font-weight="bold" stroke="#000" stroke-width="0.40">O</text>
<text transform="translate(106.98 333.21) scale(1.1162 1)" font-size="13.91" font-weight="bold" stroke="#000" stroke-width="0.40">φ</text>
<text transform="translate(119.49 334.89) scale(0.9519 1)" font-size="10.88" font-weight="bold" stroke="#000" stroke-width="0.40">O</text>
<text transform="translate(365.00 324.00) scale(0.9475 1)" font-size="32.87" font-weight="bold" stroke="#000" stroke-width="0.40">B</text>
<text transform="translate(388.10 329.77) scale(0.9625 1)" font-size="23.32" font-weight="bold" stroke="#000" stroke-width="0.40">O</text>
<text transform="translate(406.46 332.70) scale(0.9786 1)" font-size="14.98" font-weight="bold" stroke="#000" stroke-width="0.40">Z</text>
<text transform="translate(416.32 334.91) scale(1.0837 1)" font-size="8.76" font-weight="bold" stroke="#000" stroke-width="0.40">O</text>
<text transform="translate(23.61 64.60) scale(0.9757 1)" font-size="30.98" stroke="#000" stroke-width="0.80"><tspan dy="1.00">(</tspan><tspan dy="-1.00">A</tspan><tspan dy="1.00">)</tspan></text>
<text transform="translate(316.21 63.20) scale(1.0443 1)" font-size="28.95" stroke="#000" stroke-width="0.80"><tspan dy="1.00">(</tspan><tspan dy="-1.00">B</tspan><tspan dy="1.00">)</tspan></text>
<text transform="translate(19.71 361.90) scale(1.0023 1)" font-size="30.11" stroke="#000" stroke-width="0.80"><tspan dy="1.00">(</tspan><tspan dy="-1.00">C</tspan><tspan dy="1.00">)</tspan></text>
<text transform="translate(318.15 361.60) scale(0.9672 1)" font-size="30.55" stroke="#000" stroke-width="0.80"><tspan dy="1.00">(</tspan><tspan dy="-1.00">D</tspan><tspan dy="1.00">)</tspan></text>
<text transform="translate(188.07 29.62) scale(0.9518 1)" font-size="18.55" stroke="#000" stroke-width="0.35"><tspan dy="0.50">(</tspan><tspan dy="-0.50">nT x m</tspan><tspan dy="0.50">)</tspan></text>
<text transform="translate(510.23 29.62) scale(1.0010 1)" font-size="18.25" stroke="#000" stroke-width="0.35"><tspan dy="0.50">(</tspan><tspan dy="-0.50">nT</tspan><tspan dy="0.50">)</tspan></text>
<text transform="translate(214.54 321.88) scale(0.9969 1)" font-size="18.18" stroke="#000" stroke-width="0.35"><tspan dy="0.50">(</tspan><tspan dy="-0.50">nT</tspan><tspan dy="0.50">)</tspan></text>
<text transform="translate(510.23 321.88) scale(0.9970 1)" font-size="18.33" stroke="#000" stroke-width="0.35"><tspan dy="0.50">(</tspan><tspan dy="-0.50">nT</tspan><tspan dy="0.50">)</tspan></text>
<text transform="translate(6.22 266.70) scale(1.0300 1)" font-size="5.53" font-weight="bold">Min:-1485.0749, Max:1485.0749, Mean:1.5278e-15, Std:626.9486</text>
<text transform="translate(299.76 267.90) scale(1.0300 1)" font-size="6.27" font-weight="bold">Min:-3.3102, Max:3.3102, Mean:-5.5003e-17, Std:0.85524</text>
<text transform="translate(2.91 565.30) scale(1.0300 1)" font-size="6.26" font-weight="bold">Min:-2.6042, Max:6.151, Mean:0.07511, Std:1.2764</text>
<text transform="translate(299.76 566.15) scale(1.0300 1)" font-size="6.30" font-weight="bold">Min:-5.9177, Max:5.9177, Mean:-1.8243e-17, Std:1.5686</text>
<text x="24.40" y="249.45" font-size="3.10" text-anchor="middle" fill="#333">-1500</text>
<text x="58.11" y="249.45" font-size="3.10" text-anchor="middle" fill="#333">-1000</text>
<text x="91.83" y="249.45" font-size="3.10" text-anchor="middle" fill="#333">-500</text>
<text x="125.54" y="249.45" font-size="3.10" text-anchor="middle" fill="#333">0</text>
<text x="159.26" y="249.45" font-size="3.10" text-anchor="middle" fill="#333">500</text>
<text x="23.10" y="44.27" font-size="3.10" text-anchor="end" fill="#333">1500</text>
<text x="23.10" y="77.93" font-size="3.10" text-anchor="end" fill="#333">1000</text>
<text x="23.10" y="111.60" font-size="3.10" text-anchor="end" fill="#333">500</text>
<text x="23.10" y="145.27" font-size="3.10" text-anchor="end" fill="#333">0</text>
<text x="23.10" y="178.93" font-size="3.10" text-anchor="end" fill="#333">-500</text>
<text x="23.10" y="212.60" font-size="3.10" text-anchor="end" fill="#333">-1000</text>
<text x="23.10" y="246.27" font-size="3.10" text-anchor="end" fill="#333">-1500</text>
<text x="96.20" y="255.30" font-size="6.20" font-weight="bold" text-anchor="middle">X</text>
<text x="14.30" y="143.00" font-size="6.20" font-weight="bold" text-anchor="middle" transform="rotate(-90 14.30 143.00)">Y</text>
<text x="317.90" y="251.30" font-size="3.50" text-anchor="middle" fill="#333">-1500</text>
<text x="351.95" y="251.30" font-size="3.50" text-anchor="middle" fill="#333">-1000</text>
<text x="386.00" y="251.30" font-size="3.50" text-anchor="middle" fill="#333">-500</text>
<text x="420.04" y="251.30" font-size="3.50" text-anchor="middle" fill="#333">0</text>
<text x="454.09" y="251.30" font-size="3.50" text-anchor="middle" fill="#333">500</text>
<text x="316.20" y="43.40" font-size="3.50" text-anchor="end" fill="#333">1500</text>
<text x="316.20" y="77.35" font-size="3.50" text-anchor="end" fill="#333">1000</text>
<text x="316.20" y="111.30" font-size="3.50" text-anchor="end" fill="#333">500</text>
<text x="316.20" y="145.25" font-size="3.50" text-anchor="end" fill="#333">0</text>
<text x="316.20" y="179.20" font-size="3.50" text-anchor="end" fill="#333">-500</text>
<text x="316.20" y="213.15" font-size="3.50" text-anchor="end" fill="#333">-1000</text>
<text x="316.20" y="247.10" font-size="3.50" text-anchor="end" fill="#333">-1500</text>
<text x="390.40" y="257.70" font-size="7.00" font-weight="bold" text-anchor="middle">X</text>
<text x="306.20" y="143.35" font-size="7.00" font-weight="bold" text-anchor="middle" transform="rotate(-90 306.20 143.35)">Y</text>
<text x="20.80" y="548.40" font-size="3.50" text-anchor="middle" fill="#333">-1500</text>
<text x="54.63" y="548.40" font-size="3.50" text-anchor="middle" fill="#333">-1000</text>
<text x="88.47" y="548.40" font-size="3.50" text-anchor="middle" fill="#333">-500</text>
<text x="122.30" y="548.40" font-size="3.50" text-anchor="middle" fill="#333">0</text>
<text x="156.13" y="548.40" font-size="3.50" text-anchor="middle" fill="#333">500</text>
<text x="19.10" y="341.40" font-size="3.50" text-anchor="end" fill="#333">1500</text>
<text x="19.10" y="375.20" font-size="3.50" text-anchor="end" fill="#333">1000</text>
<text x="19.10" y="409.00" font-size="3.50" text-anchor="end" fill="#333">500</text>
<text x="19.10" y="442.80" font-size="3.50" text-anchor="end" fill="#333">0</text>
<text x="19.10" y="476.60" font-size="3.50" text-anchor="end" fill="#333">-500</text>
<text x="19.10" y="510.40" font-size="3.50" text-anchor="end" fill="#333">-1000</text>
<text x="19.10" y="544.20" font-size="3.50" text-anchor="end" fill="#333">-1500</text>
<text x="92.85" y="554.80" font-size="7.00" font-weight="bold" text-anchor="middle">X</text>
<text x="9.10" y="440.90" font-size="7.00" font-weight="bold" text-anchor="middle" transform="rotate(-90 9.10 440.90)">Y</text>
<text x="318.00" y="549.20" font-size="3.50" text-anchor="middle" fill="#333">-1500</text>
<text x="352.12" y="549.20" font-size="3.50" text-anchor="middle" fill="#333">-1000</text>
<text x="386.24" y="549.20" font-size="3.50" text-anchor="middle" fill="#333">-500</text>
<text x="420.36" y="549.20" font-size="3.50" text-anchor="middle" fill="#333">0</text>
<text x="454.48" y="549.20" font-size="3.50" text-anchor="middle" fill="#333">500</text>
<text x="316.30" y="340.50" font-size="3.50" text-anchor="end" fill="#333">1500</text>
<text x="316.30" y="374.59" font-size="3.50" text-anchor="end" fill="#333">1000</text>
<text x="316.30" y="408.67" font-size="3.50" text-anchor="end" fill="#333">500</text>
<text x="316.30" y="442.75" font-size="3.50" text-anchor="end" fill="#333">0</text>
<text x="316.30" y="476.84" font-size="3.50" text-anchor="end" fill="#333">-500</text>
<text x="316.30" y="510.92" font-size="3.50" text-anchor="end" fill="#333">-1000</text>
<text x="316.30" y="545.00" font-size="3.50" text-anchor="end" fill="#333">-1500</text>
<text x="390.65" y="555.60" font-size="7.00" font-weight="bold" text-anchor="middle">X</text>
<text x="306.30" y="440.85" font-size="7.00" font-weight="bold" text-anchor="middle" transform="rotate(-90 306.30 440.85)">Y</text>
<text x="226.50" y="78.35" font-size="5.70" fill="#222">1000</text>
<path d="M209.4 75.99h1.2M223.2 75.99h-1.2" stroke="#333" stroke-width="0.4" stroke-opacity="0.6"/>
<text x="226.50" y="112.36" font-size="5.70" fill="#222">500</text>
<path d="M209.4 109.99h1.2M223.2 109.99h-1.2" stroke="#333" stroke-width="0.4" stroke-opacity="0.6"/>
<text x="226.50" y="146.36" font-size="5.70" fill="#222">0</text>
<path d="M209.4 144.00h1.2M223.2 144.00h-1.2" stroke="#333" stroke-width="0.4" stroke-opacity="0.6"/>
<text x="226.50" y="180.37" font-size="5.70" fill="#222">-500</text>
<path d="M209.4 178.01h1.2M223.2 178.01h-1.2" stroke="#333" stroke-width="0.4" stroke-opacity="0.6"/>
<text x="226.50" y="214.37" font-size="5.70" fill="#222">-1000</text>
<path d="M209.4 212.01h1.2M223.2 212.01h-1.2" stroke="#333" stroke-width="0.4" stroke-opacity="0.6"/>
<text x="539.00" y="54.21" font-size="6.60" fill="#222">3</text>
<path d="M520.1 51.54h1.2M535.7 51.54h-1.2" stroke="#333" stroke-width="0.4" stroke-opacity="0.6"/>
<text x="539.00" y="84.98" font-size="6.60" fill="#222">2</text>
<path d="M520.1 82.31h1.2M535.7 82.31h-1.2" stroke="#333" stroke-width="0.4" stroke-opacity="0.6"/>
<text x="539.00" y="115.75" font-size="6.60" fill="#222">1</text>
<path d="M520.1 113.08h1.2M535.7 113.08h-1.2" stroke="#333" stroke-width="0.4" stroke-opacity="0.6"/>
<text x="539.00" y="146.52" font-size="6.60" fill="#222">0</text>
<path d="M520.1 143.85h1.2M535.7 143.85h-1.2" stroke="#333" stroke-width="0.4" stroke-opacity="0.6"/>
<text x="539.00" y="177.29" font-size="6.60" fill="#222">-1</text>
<path d="M520.1 174.62h1.2M535.7 174.62h-1.2" stroke="#333" stroke-width="0.4" stroke-opacity="0.6"/>
<text x="539.00" y="208.06" font-size="6.60" fill="#222">-2</text>
<path d="M520.1 205.39h1.2M535.7 205.39h-1.2" stroke="#333" stroke-width="0.4" stroke-opacity="0.6"/>
<text x="539.00" y="238.83" font-size="6.60" fill="#222">-3</text>
<path d="M520.1 236.16h1.2M535.7 236.16h-1.2" stroke="#333" stroke-width="0.4" stroke-opacity="0.6"/>
<text x="241.50" y="346.17" font-size="6.60" fill="#222">6</text>
<path d="M222.1 343.50h1.2M238.2 343.50h-1.2" stroke="#333" stroke-width="0.4" stroke-opacity="0.6"/>
<text x="241.50" y="392.49" font-size="6.60" fill="#222">4</text>
<path d="M222.1 389.82h1.2M238.2 389.82h-1.2" stroke="#333" stroke-width="0.4" stroke-opacity="0.6"/>
<text x="241.50" y="438.82" font-size="6.60" fill="#222">2</text>
<path d="M222.1 436.15h1.2M238.2 436.15h-1.2" stroke="#333" stroke-width="0.4" stroke-opacity="0.6"/>
<text x="241.50" y="485.15" font-size="6.60" fill="#222">0</text>
<path d="M222.1 482.48h1.2M238.2 482.48h-1.2" stroke="#333" stroke-width="0.4" stroke-opacity="0.6"/>
<text x="241.50" y="531.48" font-size="6.60" fill="#222">-2</text>
<path d="M222.1 528.80h1.2M238.2 528.80h-1.2" stroke="#333" stroke-width="0.4" stroke-opacity="0.6"/>
<text x="539.30" y="374.91" font-size="6.60" fill="#222">4</text>
<path d="M520.1 372.24h1.2M536.0 372.24h-1.2" stroke="#333" stroke-width="0.4" stroke-opacity="0.6"/>
<text x="539.30" y="409.46" font-size="6.60" fill="#222">2</text>
<path d="M520.1 406.79h1.2M536.0 406.79h-1.2" stroke="#333" stroke-width="0.4" stroke-opacity="0.6"/>
<text x="539.30" y="444.02" font-size="6.60" fill="#222">0</text>
<path d="M520.1 441.35h1.2M536.0 441.35h-1.2" stroke="#333" stroke-width="0.4" stroke-opacity="0.6"/>
<text x="539.30" y="478.58" font-size="6.60" fill="#222">-2</text>
<path d="M520.1 475.91h1.2M536.0 475.91h-1.2" stroke="#333" stroke-width="0.4" stroke-opacity="0.6"/>
<text x="539.30" y="513.14" font-size="6.60" fill="#222">-4</text>
<path d="M520.1 510.46h1.2M536.0 510.46h-1.2" stroke="#333" stroke-width="0.4" stroke-opacity="0.6"/>
</svg>
</body></html>
